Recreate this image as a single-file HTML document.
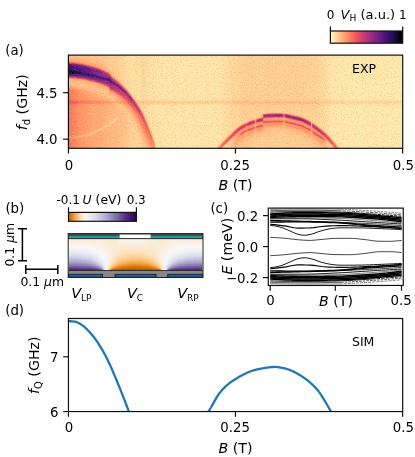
<!DOCTYPE html>
<html><head><meta charset="utf-8"><title>figure</title>
<style>
html,body{margin:0;padding:0;background:#fff;}
svg{display:block;}
text{font-family:"DejaVu Sans","Liberation Sans",sans-serif;fill:#000;}
</style></head><body>
<svg width="415" height="457" viewBox="0 0 415 457">
<defs>
<linearGradient id="abg" x1="0" x2="1" y1="0" y2="0">
<stop offset="0" stop-color="#febf84"/>
<stop offset="0.12" stop-color="#fec287"/>
<stop offset="0.22" stop-color="#fecf92"/>
<stop offset="0.45" stop-color="#fed799"/>
<stop offset="0.70" stop-color="#fdda9c"/>
<stop offset="0.80" stop-color="#fde2a3"/>
<stop offset="1" stop-color="#fde3a5"/>
</linearGradient>
<clipPath id="aclip"><rect x="68.4" y="55.1" width="334.3" height="93.2"/></clipPath>
<filter id="bl1" x="-20%" y="-20%" width="140%" height="140%"><feGaussianBlur stdDeviation="0.7"/></filter>
<filter id="bl2" x="-20%" y="-20%" width="140%" height="140%"><feGaussianBlur stdDeviation="1.6"/></filter>
<filter id="bl4" x="-30%" y="-30%" width="160%" height="160%"><feGaussianBlur stdDeviation="4"/></filter>
<linearGradient id="h0" gradientUnits="userSpaceOnUse" x1="0" x2="0" y1="55.5" y2="147.5"><stop offset="0" stop-color="#febf84"/><stop offset=".033" stop-color="#feb47b"/><stop offset=".054" stop-color="#fea571"/><stop offset=".065" stop-color="#fd9266"/><stop offset=".076" stop-color="#e95462"/><stop offset=".087" stop-color="#932b80"/><stop offset=".098" stop-color="#52137c"/><stop offset=".109" stop-color="#3f0f72"/><stop offset=".141" stop-color="#3b0f70"/><stop offset=".152" stop-color="#341069"/><stop offset=".163" stop-color="#160f3b"/><stop offset=".174" stop-color="#03030f"/><stop offset=".185" stop-color="#03030f"/><stop offset=".196" stop-color="#160f3b"/><stop offset=".207" stop-color="#3b0f70"/><stop offset=".217" stop-color="#601880"/><stop offset=".228" stop-color="#a02f7f"/><stop offset=".239" stop-color="#e95462"/><stop offset=".25" stop-color="#fd9b6b"/><stop offset=".261" stop-color="#feb27a"/><stop offset=".293" stop-color="#fec185"/><stop offset=".315" stop-color="#febf84"/><stop offset=".326" stop-color="#feb67c"/><stop offset=".359" stop-color="#fb8761"/><stop offset=".38" stop-color="#f66e5c"/><stop offset=".402" stop-color="#f4695c"/><stop offset=".467" stop-color="#f4695c"/><stop offset=".489" stop-color="#ee5b5e"/><stop offset=".5" stop-color="#e34e65"/><stop offset=".511" stop-color="#de4968"/><stop offset=".533" stop-color="#f1605d"/><stop offset=".554" stop-color="#f4695c"/><stop offset=".848" stop-color="#f4695c"/><stop offset=".87" stop-color="#f56b5c"/><stop offset=".88" stop-color="#f7725c"/><stop offset=".891" stop-color="#fb8560"/><stop offset=".913" stop-color="#f66e5c"/><stop offset=".924" stop-color="#f56b5c"/><stop offset="1" stop-color="#f4695c"/></linearGradient>
<linearGradient id="h1" gradientUnits="userSpaceOnUse" x1="0" x2="0" y1="55.5" y2="147.5"><stop offset="0" stop-color="#febf84"/><stop offset=".043" stop-color="#feae77"/><stop offset=".054" stop-color="#fea571"/><stop offset=".065" stop-color="#fd9467"/><stop offset=".076" stop-color="#ed5a5f"/><stop offset=".087" stop-color="#992d80"/><stop offset=".098" stop-color="#57157e"/><stop offset=".109" stop-color="#400f74"/><stop offset=".141" stop-color="#3d0f71"/><stop offset=".152" stop-color="#36106b"/><stop offset=".163" stop-color="#19103f"/><stop offset=".174" stop-color="#040414"/><stop offset=".185" stop-color="#030312"/><stop offset=".196" stop-color="#160f3b"/><stop offset=".207" stop-color="#3b0f70"/><stop offset=".217" stop-color="#601880"/><stop offset=".228" stop-color="#9e2f7f"/><stop offset=".239" stop-color="#e85362"/><stop offset=".25" stop-color="#fd9b6b"/><stop offset=".261" stop-color="#feb27a"/><stop offset=".293" stop-color="#fec185"/><stop offset=".315" stop-color="#fec185"/><stop offset=".337" stop-color="#feaa74"/><stop offset=".359" stop-color="#fc8a62"/><stop offset=".38" stop-color="#f8745c"/><stop offset=".402" stop-color="#f66e5c"/><stop offset=".478" stop-color="#f56b5c"/><stop offset=".5" stop-color="#e75263"/><stop offset=".511" stop-color="#e24d66"/><stop offset=".533" stop-color="#f3655c"/><stop offset=".543" stop-color="#f66e5c"/><stop offset=".87" stop-color="#f7705c"/><stop offset=".88" stop-color="#f9785d"/><stop offset=".891" stop-color="#fc8c63"/><stop offset=".913" stop-color="#f8745c"/><stop offset=".924" stop-color="#f7705c"/><stop offset="1" stop-color="#f7705c"/></linearGradient>
<linearGradient id="h2" gradientUnits="userSpaceOnUse" x1="0" x2="0" y1="55.5" y2="147.5"><stop offset="0" stop-color="#fec185"/><stop offset=".033" stop-color="#feb67c"/><stop offset=".054" stop-color="#fea772"/><stop offset=".065" stop-color="#fd9668"/><stop offset=".076" stop-color="#f2625d"/><stop offset=".087" stop-color="#a1307e"/><stop offset=".098" stop-color="#5c167f"/><stop offset=".109" stop-color="#420f75"/><stop offset=".141" stop-color="#3f0f72"/><stop offset=".152" stop-color="#390f6e"/><stop offset=".163" stop-color="#1c1044"/><stop offset=".174" stop-color="#050416"/><stop offset=".185" stop-color="#030312"/><stop offset=".196" stop-color="#160f3b"/><stop offset=".207" stop-color="#3d0f71"/><stop offset=".217" stop-color="#5f187f"/><stop offset=".228" stop-color="#9b2e7f"/><stop offset=".239" stop-color="#e55064"/><stop offset=".25" stop-color="#fd9a6a"/><stop offset=".261" stop-color="#feb078"/><stop offset=".272" stop-color="#feb77e"/><stop offset=".293" stop-color="#fec185"/><stop offset=".315" stop-color="#fec185"/><stop offset=".337" stop-color="#feae77"/><stop offset=".359" stop-color="#fc9065"/><stop offset=".38" stop-color="#f9795d"/><stop offset=".467" stop-color="#f8765c"/><stop offset=".478" stop-color="#f7725c"/><stop offset=".5" stop-color="#ea5661"/><stop offset=".511" stop-color="#e55064"/><stop offset=".533" stop-color="#f66c5c"/><stop offset=".554" stop-color="#f8765c"/><stop offset=".87" stop-color="#f8765c"/><stop offset=".88" stop-color="#fa7f5e"/><stop offset=".891" stop-color="#fd9266"/><stop offset=".913" stop-color="#f9795d"/><stop offset=".924" stop-color="#f8765c"/><stop offset="1" stop-color="#f8765c"/></linearGradient>
<linearGradient id="h3" gradientUnits="userSpaceOnUse" x1="0" x2="0" y1="55.5" y2="147.5"><stop offset="0" stop-color="#fec185"/><stop offset=".022" stop-color="#febb81"/><stop offset=".054" stop-color="#fea973"/><stop offset=".065" stop-color="#fd9a6a"/><stop offset=".076" stop-color="#f56b5c"/><stop offset=".087" stop-color="#ab337c"/><stop offset=".098" stop-color="#621980"/><stop offset=".109" stop-color="#451077"/><stop offset=".152" stop-color="#3b0f70"/><stop offset=".163" stop-color="#20114b"/><stop offset=".174" stop-color="#07061c"/><stop offset=".185" stop-color="#040414"/><stop offset=".196" stop-color="#160f3b"/><stop offset=".207" stop-color="#3d0f71"/><stop offset=".217" stop-color="#5f187f"/><stop offset=".228" stop-color="#982d80"/><stop offset=".239" stop-color="#e24d66"/><stop offset=".25" stop-color="#fd9668"/><stop offset=".261" stop-color="#feb078"/><stop offset=".293" stop-color="#fec185"/><stop offset=".315" stop-color="#fec287"/><stop offset=".337" stop-color="#feb078"/><stop offset=".38" stop-color="#fa7f5e"/><stop offset=".478" stop-color="#f9785d"/><stop offset=".5" stop-color="#ed5a5f"/><stop offset=".511" stop-color="#ea5661"/><stop offset=".522" stop-color="#f1605d"/><stop offset=".533" stop-color="#f7725c"/><stop offset=".554" stop-color="#f97b5d"/><stop offset=".87" stop-color="#f97b5d"/><stop offset=".88" stop-color="#fb8560"/><stop offset=".891" stop-color="#fd9869"/><stop offset=".913" stop-color="#fa7f5e"/><stop offset=".924" stop-color="#f97b5d"/><stop offset="1" stop-color="#f97b5d"/></linearGradient>
<linearGradient id="h4" gradientUnits="userSpaceOnUse" x1="0" x2="0" y1="55.5" y2="147.5"><stop offset="0" stop-color="#fec185"/><stop offset=".022" stop-color="#febb81"/><stop offset=".054" stop-color="#fea973"/><stop offset=".065" stop-color="#fe9d6c"/><stop offset=".076" stop-color="#f8745c"/><stop offset=".087" stop-color="#b73779"/><stop offset=".098" stop-color="#681c81"/><stop offset=".109" stop-color="#491078"/><stop offset=".152" stop-color="#3f0f72"/><stop offset=".163" stop-color="#251255"/><stop offset=".174" stop-color="#0a0822"/><stop offset=".185" stop-color="#050416"/><stop offset=".196" stop-color="#160f3b"/><stop offset=".207" stop-color="#3f0f72"/><stop offset=".217" stop-color="#5d177f"/><stop offset=".228" stop-color="#932b80"/><stop offset=".239" stop-color="#de4968"/><stop offset=".25" stop-color="#fc9065"/><stop offset=".261" stop-color="#feae77"/><stop offset=".272" stop-color="#feb77e"/><stop offset=".293" stop-color="#fec185"/><stop offset=".315" stop-color="#fec287"/><stop offset=".326" stop-color="#febd82"/><stop offset=".37" stop-color="#fc8c63"/><stop offset=".38" stop-color="#fb8560"/><stop offset=".391" stop-color="#fa7f5e"/><stop offset=".467" stop-color="#fa7f5e"/><stop offset=".478" stop-color="#f97b5d"/><stop offset=".5" stop-color="#f05f5e"/><stop offset=".511" stop-color="#ec5860"/><stop offset=".533" stop-color="#f8765c"/><stop offset=".554" stop-color="#fa7f5e"/><stop offset=".859" stop-color="#fa7f5e"/><stop offset=".88" stop-color="#fc8a62"/><stop offset=".891" stop-color="#fe9d6c"/><stop offset=".913" stop-color="#fb835f"/><stop offset=".924" stop-color="#fa7f5e"/><stop offset="1" stop-color="#fa7f5e"/></linearGradient>
<linearGradient id="h5" gradientUnits="userSpaceOnUse" x1="0" x2="0" y1="55.5" y2="147.5"><stop offset="0" stop-color="#fec185"/><stop offset=".033" stop-color="#feb77e"/><stop offset=".054" stop-color="#feaa74"/><stop offset=".065" stop-color="#fe9f6d"/><stop offset=".076" stop-color="#fa7f5e"/><stop offset=".087" stop-color="#c23b75"/><stop offset=".098" stop-color="#701f81"/><stop offset=".109" stop-color="#4c117a"/><stop offset=".12" stop-color="#451077"/><stop offset=".152" stop-color="#420f75"/><stop offset=".163" stop-color="#2d1161"/><stop offset=".174" stop-color="#0e0b2b"/><stop offset=".185" stop-color="#07061c"/><stop offset=".196" stop-color="#180f3d"/><stop offset=".207" stop-color="#3f0f72"/><stop offset=".217" stop-color="#5c167f"/><stop offset=".228" stop-color="#8e2a81"/><stop offset=".239" stop-color="#d8456c"/><stop offset=".25" stop-color="#fc8a62"/><stop offset=".261" stop-color="#feac76"/><stop offset=".272" stop-color="#feb77e"/><stop offset=".293" stop-color="#fec185"/><stop offset=".315" stop-color="#fec287"/><stop offset=".337" stop-color="#feb47b"/><stop offset=".37" stop-color="#fc9065"/><stop offset=".38" stop-color="#fc8961"/><stop offset=".391" stop-color="#fb835f"/><stop offset=".467" stop-color="#fb835f"/><stop offset=".478" stop-color="#fa7f5e"/><stop offset=".5" stop-color="#f2625d"/><stop offset=".511" stop-color="#ee5b5e"/><stop offset=".533" stop-color="#f9795d"/><stop offset=".543" stop-color="#fa815f"/><stop offset=".859" stop-color="#fb835f"/><stop offset=".88" stop-color="#fc8e64"/><stop offset=".891" stop-color="#fea16e"/><stop offset=".913" stop-color="#fb8560"/><stop offset="1" stop-color="#fb835f"/></linearGradient>
<linearGradient id="h6" gradientUnits="userSpaceOnUse" x1="0" x2="0" y1="55.5" y2="147.5"><stop offset="0" stop-color="#fec185"/><stop offset=".033" stop-color="#feb77e"/><stop offset=".054" stop-color="#feaa74"/><stop offset=".065" stop-color="#fea16e"/><stop offset=".076" stop-color="#fb8560"/><stop offset=".087" stop-color="#cd4071"/><stop offset=".098" stop-color="#792282"/><stop offset=".109" stop-color="#4f127b"/><stop offset=".12" stop-color="#471078"/><stop offset=".152" stop-color="#451077"/><stop offset=".163" stop-color="#36106b"/><stop offset=".174" stop-color="#130d34"/><stop offset=".185" stop-color="#090720"/><stop offset=".196" stop-color="#19103f"/><stop offset=".207" stop-color="#400f74"/><stop offset=".217" stop-color="#5a167e"/><stop offset=".228" stop-color="#892881"/><stop offset=".239" stop-color="#d2426f"/><stop offset=".25" stop-color="#fb835f"/><stop offset=".261" stop-color="#feaa74"/><stop offset=".272" stop-color="#feb67c"/><stop offset=".304" stop-color="#fec287"/><stop offset=".326" stop-color="#febf84"/><stop offset=".38" stop-color="#fc8c63"/><stop offset=".391" stop-color="#fb8761"/><stop offset=".467" stop-color="#fb8761"/><stop offset=".478" stop-color="#fb835f"/><stop offset=".489" stop-color="#f9785d"/><stop offset=".5" stop-color="#f3655c"/><stop offset=".511" stop-color="#f05f5e"/><stop offset=".533" stop-color="#fa7d5e"/><stop offset=".543" stop-color="#fb8560"/><stop offset=".859" stop-color="#fb8761"/><stop offset=".87" stop-color="#fc8961"/><stop offset=".891" stop-color="#fea571"/><stop offset=".913" stop-color="#fc8961"/><stop offset="1" stop-color="#fb8761"/></linearGradient>
<linearGradient id="h7" gradientUnits="userSpaceOnUse" x1="0" x2="0" y1="55.5" y2="147.5"><stop offset="0" stop-color="#fec287"/><stop offset=".022" stop-color="#febd82"/><stop offset=".054" stop-color="#feac76"/><stop offset=".065" stop-color="#fea36f"/><stop offset=".076" stop-color="#fc8a62"/><stop offset=".087" stop-color="#d8456c"/><stop offset=".098" stop-color="#842681"/><stop offset=".109" stop-color="#54137d"/><stop offset=".12" stop-color="#491078"/><stop offset=".152" stop-color="#491078"/><stop offset=".163" stop-color="#3f0f72"/><stop offset=".174" stop-color="#19103f"/><stop offset=".185" stop-color="#0c0926"/><stop offset=".196" stop-color="#1a1042"/><stop offset=".207" stop-color="#400f74"/><stop offset=".217" stop-color="#59157e"/><stop offset=".228" stop-color="#842681"/><stop offset=".239" stop-color="#cc3f71"/><stop offset=".25" stop-color="#f97b5d"/><stop offset=".261" stop-color="#fea973"/><stop offset=".272" stop-color="#feb67c"/><stop offset=".293" stop-color="#febf84"/><stop offset=".326" stop-color="#febf84"/><stop offset=".37" stop-color="#fd9869"/><stop offset=".391" stop-color="#fc8a62"/><stop offset=".467" stop-color="#fc8961"/><stop offset=".478" stop-color="#fb8560"/><stop offset=".5" stop-color="#f4675c"/><stop offset=".511" stop-color="#f2625d"/><stop offset=".533" stop-color="#fa7f5e"/><stop offset=".554" stop-color="#fc8961"/><stop offset=".859" stop-color="#fc8961"/><stop offset=".87" stop-color="#fc8c63"/><stop offset=".891" stop-color="#fea772"/><stop offset=".913" stop-color="#fc8a62"/><stop offset="1" stop-color="#fc8961"/></linearGradient>
<linearGradient id="h8" gradientUnits="userSpaceOnUse" x1="0" x2="0" y1="55.5" y2="147.5"><stop offset="0" stop-color="#fec287"/><stop offset=".043" stop-color="#feb47b"/><stop offset=".065" stop-color="#fea571"/><stop offset=".076" stop-color="#fc8e64"/><stop offset=".087" stop-color="#e24d66"/><stop offset=".098" stop-color="#902a81"/><stop offset=".109" stop-color="#59157e"/><stop offset=".12" stop-color="#4c117a"/><stop offset=".152" stop-color="#4a1079"/><stop offset=".163" stop-color="#420f75"/><stop offset=".174" stop-color="#20114b"/><stop offset=".185" stop-color="#100b2d"/><stop offset=".196" stop-color="#1a1042"/><stop offset=".207" stop-color="#420f75"/><stop offset=".217" stop-color="#57157e"/><stop offset=".228" stop-color="#802582"/><stop offset=".239" stop-color="#c43c75"/><stop offset=".25" stop-color="#f8745c"/><stop offset=".261" stop-color="#fea571"/><stop offset=".272" stop-color="#feb47b"/><stop offset=".283" stop-color="#febb81"/><stop offset=".304" stop-color="#fec287"/><stop offset=".326" stop-color="#fec185"/><stop offset=".391" stop-color="#fc8c63"/><stop offset=".478" stop-color="#fc8961"/><stop offset=".5" stop-color="#f56b5c"/><stop offset=".511" stop-color="#f2645c"/><stop offset=".533" stop-color="#fb835f"/><stop offset=".554" stop-color="#fc8c63"/><stop offset=".859" stop-color="#fc8c63"/><stop offset=".87" stop-color="#fc9065"/><stop offset=".891" stop-color="#fea973"/><stop offset=".902" stop-color="#fd9668"/><stop offset=".913" stop-color="#fc8c63"/><stop offset="1" stop-color="#fc8c63"/></linearGradient>
<linearGradient id="h9" gradientUnits="userSpaceOnUse" x1="0" x2="0" y1="55.5" y2="147.5"><stop offset="0" stop-color="#fec287"/><stop offset=".054" stop-color="#feae77"/><stop offset=".065" stop-color="#fea571"/><stop offset=".076" stop-color="#fd9266"/><stop offset=".087" stop-color="#eb5760"/><stop offset=".098" stop-color="#9b2e7f"/><stop offset=".109" stop-color="#5f187f"/><stop offset=".12" stop-color="#4e117b"/><stop offset=".152" stop-color="#4c117a"/><stop offset=".163" stop-color="#451077"/><stop offset=".174" stop-color="#251255"/><stop offset=".185" stop-color="#130d34"/><stop offset=".196" stop-color="#1c1044"/><stop offset=".207" stop-color="#400f74"/><stop offset=".217" stop-color="#56147d"/><stop offset=".228" stop-color="#7b2382"/><stop offset=".239" stop-color="#bd3977"/><stop offset=".25" stop-color="#f66c5c"/><stop offset=".261" stop-color="#fea36f"/><stop offset=".272" stop-color="#feb47b"/><stop offset=".293" stop-color="#febf84"/><stop offset=".326" stop-color="#fec185"/><stop offset=".37" stop-color="#fe9d6c"/><stop offset=".391" stop-color="#fc9065"/><stop offset=".478" stop-color="#fc8a62"/><stop offset=".489" stop-color="#fa7f5e"/><stop offset=".5" stop-color="#f66c5c"/><stop offset=".511" stop-color="#f4675c"/><stop offset=".533" stop-color="#fb8560"/><stop offset=".554" stop-color="#fc8e64"/><stop offset=".859" stop-color="#fc8e64"/><stop offset=".87" stop-color="#fd9467"/><stop offset=".88" stop-color="#fea571"/><stop offset=".891" stop-color="#feaa74"/><stop offset=".902" stop-color="#fd9668"/><stop offset=".913" stop-color="#fc9065"/><stop offset="1" stop-color="#fc8e64"/></linearGradient>
<linearGradient id="h10" gradientUnits="userSpaceOnUse" x1="0" x2="0" y1="55.5" y2="147.5"><stop offset="0" stop-color="#fec287"/><stop offset=".033" stop-color="#febb81"/><stop offset=".065" stop-color="#fea772"/><stop offset=".076" stop-color="#fd9869"/><stop offset=".087" stop-color="#f2645c"/><stop offset=".098" stop-color="#aa337d"/><stop offset=".109" stop-color="#671b80"/><stop offset=".12" stop-color="#51127c"/><stop offset=".152" stop-color="#4f127b"/><stop offset=".163" stop-color="#491078"/><stop offset=".174" stop-color="#2d1161"/><stop offset=".185" stop-color="#160f3b"/><stop offset=".196" stop-color="#1c1044"/><stop offset=".207" stop-color="#3d0f71"/><stop offset=".217" stop-color="#54137d"/><stop offset=".228" stop-color="#762181"/><stop offset=".239" stop-color="#b5367a"/><stop offset=".25" stop-color="#f2645c"/><stop offset=".261" stop-color="#fea16e"/><stop offset=".272" stop-color="#feb27a"/><stop offset=".293" stop-color="#febf84"/><stop offset=".326" stop-color="#fec287"/><stop offset=".348" stop-color="#feb67c"/><stop offset=".37" stop-color="#fea16e"/><stop offset=".402" stop-color="#fc9065"/><stop offset=".478" stop-color="#fc8e64"/><stop offset=".489" stop-color="#fb835f"/><stop offset=".5" stop-color="#f7705c"/><stop offset=".511" stop-color="#f4695c"/><stop offset=".533" stop-color="#fc8961"/><stop offset=".543" stop-color="#fc9065"/><stop offset=".565" stop-color="#fd9266"/><stop offset=".859" stop-color="#fd9266"/><stop offset=".87" stop-color="#fd9869"/><stop offset=".88" stop-color="#feaa74"/><stop offset=".891" stop-color="#fea973"/><stop offset=".902" stop-color="#fd9869"/><stop offset=".913" stop-color="#fd9266"/><stop offset="1" stop-color="#fd9266"/></linearGradient>
<linearGradient id="h11" gradientUnits="userSpaceOnUse" x1="0" x2="0" y1="55.5" y2="147.5"><stop offset="0" stop-color="#fec488"/><stop offset=".043" stop-color="#feb77e"/><stop offset=".065" stop-color="#fea973"/><stop offset=".076" stop-color="#fd9b6b"/><stop offset=".087" stop-color="#f7725c"/><stop offset=".098" stop-color="#b83779"/><stop offset=".109" stop-color="#701f81"/><stop offset=".12" stop-color="#54137d"/><stop offset=".163" stop-color="#4c117a"/><stop offset=".174" stop-color="#341069"/><stop offset=".185" stop-color="#19103f"/><stop offset=".196" stop-color="#1c1044"/><stop offset=".207" stop-color="#3b0f70"/><stop offset=".217" stop-color="#52137c"/><stop offset=".228" stop-color="#732081"/><stop offset=".239" stop-color="#ae347b"/><stop offset=".25" stop-color="#ef5d5e"/><stop offset=".261" stop-color="#fe9d6c"/><stop offset=".272" stop-color="#feb27a"/><stop offset=".283" stop-color="#feb97f"/><stop offset=".304" stop-color="#fec287"/><stop offset=".326" stop-color="#fec287"/><stop offset=".337" stop-color="#febf84"/><stop offset=".391" stop-color="#fd9668"/><stop offset=".478" stop-color="#fc9065"/><stop offset=".489" stop-color="#fb8560"/><stop offset=".5" stop-color="#f7725c"/><stop offset=".511" stop-color="#f66c5c"/><stop offset=".533" stop-color="#fc8a62"/><stop offset=".543" stop-color="#fd9266"/><stop offset=".859" stop-color="#fd9467"/><stop offset=".87" stop-color="#fe9d6c"/><stop offset=".88" stop-color="#feb078"/><stop offset=".891" stop-color="#fea973"/><stop offset=".902" stop-color="#fd9869"/><stop offset=".913" stop-color="#fd9467"/><stop offset="1" stop-color="#fd9467"/></linearGradient>
<linearGradient id="h12" gradientUnits="userSpaceOnUse" x1="0" x2="0" y1="55.5" y2="147.5"><stop offset="0" stop-color="#fec488"/><stop offset=".033" stop-color="#febd82"/><stop offset=".065" stop-color="#feaa74"/><stop offset=".076" stop-color="#fea16e"/><stop offset=".087" stop-color="#fa7f5e"/><stop offset=".098" stop-color="#c53c74"/><stop offset=".109" stop-color="#792282"/><stop offset=".12" stop-color="#57157e"/><stop offset=".163" stop-color="#4f127b"/><stop offset=".174" stop-color="#3d0f71"/><stop offset=".185" stop-color="#1e1149"/><stop offset=".196" stop-color="#1c1044"/><stop offset=".207" stop-color="#38106c"/><stop offset=".217" stop-color="#52137c"/><stop offset=".228" stop-color="#6e1e81"/><stop offset=".239" stop-color="#a6317d"/><stop offset=".25" stop-color="#e95462"/><stop offset=".261" stop-color="#fd9a6a"/><stop offset=".272" stop-color="#feb27a"/><stop offset=".304" stop-color="#fec287"/><stop offset=".326" stop-color="#fec488"/><stop offset=".337" stop-color="#fec185"/><stop offset=".38" stop-color="#fe9f6d"/><stop offset=".402" stop-color="#fd9668"/><stop offset=".478" stop-color="#fd9266"/><stop offset=".5" stop-color="#f8765c"/><stop offset=".511" stop-color="#f66e5c"/><stop offset=".533" stop-color="#fc8c63"/><stop offset=".543" stop-color="#fd9467"/><stop offset=".848" stop-color="#fd9668"/><stop offset=".859" stop-color="#fd9869"/><stop offset=".88" stop-color="#feb47b"/><stop offset=".902" stop-color="#fd9a6a"/><stop offset=".913" stop-color="#fd9668"/><stop offset="1" stop-color="#fd9668"/></linearGradient>
<linearGradient id="h13" gradientUnits="userSpaceOnUse" x1="0" x2="0" y1="55.5" y2="147.5"><stop offset="0" stop-color="#fec68a"/><stop offset=".054" stop-color="#feb47b"/><stop offset=".076" stop-color="#fea36f"/><stop offset=".087" stop-color="#fc8961"/><stop offset=".098" stop-color="#d3436e"/><stop offset=".109" stop-color="#842681"/><stop offset=".12" stop-color="#5c167f"/><stop offset=".13" stop-color="#54137d"/><stop offset=".163" stop-color="#52137c"/><stop offset=".174" stop-color="#471078"/><stop offset=".185" stop-color="#221150"/><stop offset=".196" stop-color="#1c1044"/><stop offset=".207" stop-color="#341069"/><stop offset=".217" stop-color="#52137c"/><stop offset=".228" stop-color="#6b1d81"/><stop offset=".239" stop-color="#9c2e7f"/><stop offset=".25" stop-color="#e24d66"/><stop offset=".261" stop-color="#fc9065"/><stop offset=".272" stop-color="#feae77"/><stop offset=".293" stop-color="#febd82"/><stop offset=".315" stop-color="#fec488"/><stop offset=".337" stop-color="#fec287"/><stop offset=".391" stop-color="#fd9b6b"/><stop offset=".478" stop-color="#fd9467"/><stop offset=".489" stop-color="#fc8a62"/><stop offset=".5" stop-color="#f9785d"/><stop offset=".511" stop-color="#f7725c"/><stop offset=".533" stop-color="#fc9065"/><stop offset=".554" stop-color="#fd9869"/><stop offset=".848" stop-color="#fd9869"/><stop offset=".859" stop-color="#fd9b6b"/><stop offset=".88" stop-color="#feb67c"/><stop offset=".902" stop-color="#fd9a6a"/><stop offset="1" stop-color="#fd9869"/></linearGradient>
<linearGradient id="h14" gradientUnits="userSpaceOnUse" x1="0" x2="0" y1="55.5" y2="147.5"><stop offset="0" stop-color="#fec68a"/><stop offset=".033" stop-color="#febf84"/><stop offset=".065" stop-color="#feae77"/><stop offset=".076" stop-color="#fea571"/><stop offset=".087" stop-color="#fc8e64"/><stop offset=".098" stop-color="#e04c67"/><stop offset=".109" stop-color="#932b80"/><stop offset=".12" stop-color="#621980"/><stop offset=".13" stop-color="#57157e"/><stop offset=".163" stop-color="#56147d"/><stop offset=".174" stop-color="#4e117b"/><stop offset=".185" stop-color="#2a115c"/><stop offset=".196" stop-color="#1d1147"/><stop offset=".207" stop-color="#311165"/><stop offset=".217" stop-color="#52137c"/><stop offset=".228" stop-color="#671b80"/><stop offset=".239" stop-color="#942c80"/><stop offset=".25" stop-color="#d8456c"/><stop offset=".261" stop-color="#fb8560"/><stop offset=".272" stop-color="#feaa74"/><stop offset=".293" stop-color="#febd82"/><stop offset=".315" stop-color="#fec488"/><stop offset=".348" stop-color="#febd82"/><stop offset=".391" stop-color="#fe9d6c"/><stop offset=".478" stop-color="#fd9668"/><stop offset=".5" stop-color="#f9795d"/><stop offset=".511" stop-color="#f7725c"/><stop offset=".533" stop-color="#fc9065"/><stop offset=".554" stop-color="#fd9a6a"/><stop offset=".848" stop-color="#fd9a6a"/><stop offset=".859" stop-color="#fe9d6c"/><stop offset=".87" stop-color="#feae77"/><stop offset=".88" stop-color="#feb67c"/><stop offset=".891" stop-color="#fea36f"/><stop offset=".902" stop-color="#fd9a6a"/><stop offset="1" stop-color="#fd9a6a"/></linearGradient>
<linearGradient id="h15" gradientUnits="userSpaceOnUse" x1="0" x2="0" y1="55.5" y2="147.5"><stop offset="0" stop-color="#fec68a"/><stop offset=".054" stop-color="#feb67c"/><stop offset=".076" stop-color="#fea772"/><stop offset=".087" stop-color="#fd9467"/><stop offset=".098" stop-color="#ec5860"/><stop offset=".109" stop-color="#a1307e"/><stop offset=".12" stop-color="#6a1c81"/><stop offset=".13" stop-color="#5a167e"/><stop offset=".163" stop-color="#57157e"/><stop offset=".174" stop-color="#51127c"/><stop offset=".185" stop-color="#311165"/><stop offset=".196" stop-color="#1e1149"/><stop offset=".207" stop-color="#2d1161"/><stop offset=".217" stop-color="#52137c"/><stop offset=".228" stop-color="#641a80"/><stop offset=".239" stop-color="#8b2981"/><stop offset=".25" stop-color="#cc3f71"/><stop offset=".261" stop-color="#f9785d"/><stop offset=".272" stop-color="#fea772"/><stop offset=".293" stop-color="#febb81"/><stop offset=".326" stop-color="#fec488"/><stop offset=".337" stop-color="#fec287"/><stop offset=".402" stop-color="#fd9b6b"/><stop offset=".478" stop-color="#fd9869"/><stop offset=".5" stop-color="#f97b5d"/><stop offset=".511" stop-color="#f8745c"/><stop offset=".533" stop-color="#fd9266"/><stop offset=".554" stop-color="#fd9b6b"/><stop offset=".848" stop-color="#fd9b6b"/><stop offset=".859" stop-color="#fea16e"/><stop offset=".87" stop-color="#feb47b"/><stop offset=".88" stop-color="#feb27a"/><stop offset=".891" stop-color="#fea16e"/><stop offset=".902" stop-color="#fd9b6b"/><stop offset="1" stop-color="#fd9b6b"/></linearGradient>
<linearGradient id="h16" gradientUnits="userSpaceOnUse" x1="0" x2="0" y1="55.5" y2="147.5"><stop offset="0" stop-color="#fec68a"/><stop offset=".054" stop-color="#feb77e"/><stop offset=".076" stop-color="#fea973"/><stop offset=".087" stop-color="#fd9a6a"/><stop offset=".098" stop-color="#f4695c"/><stop offset=".109" stop-color="#b3367a"/><stop offset=".12" stop-color="#732081"/><stop offset=".13" stop-color="#5d177f"/><stop offset=".163" stop-color="#5a167e"/><stop offset=".174" stop-color="#54137d"/><stop offset=".185" stop-color="#3b0f70"/><stop offset=".196" stop-color="#21114e"/><stop offset=".207" stop-color="#2c115f"/><stop offset=".217" stop-color="#51127c"/><stop offset=".228" stop-color="#601880"/><stop offset=".239" stop-color="#832681"/><stop offset=".25" stop-color="#bf3a77"/><stop offset=".261" stop-color="#f4695c"/><stop offset=".272" stop-color="#fea16e"/><stop offset=".283" stop-color="#feb47b"/><stop offset=".304" stop-color="#febf84"/><stop offset=".337" stop-color="#fec488"/><stop offset=".348" stop-color="#fec185"/><stop offset=".391" stop-color="#fea36f"/><stop offset=".413" stop-color="#fd9b6b"/><stop offset=".478" stop-color="#fd9a6a"/><stop offset=".5" stop-color="#fa7d5e"/><stop offset=".511" stop-color="#f8765c"/><stop offset=".533" stop-color="#fd9467"/><stop offset=".543" stop-color="#fd9b6b"/><stop offset=".848" stop-color="#fe9d6c"/><stop offset=".859" stop-color="#fea772"/><stop offset=".87" stop-color="#feb97f"/><stop offset=".891" stop-color="#fe9f6d"/><stop offset="1" stop-color="#fe9d6c"/></linearGradient>
<linearGradient id="h17" gradientUnits="userSpaceOnUse" x1="0" x2="0" y1="55.5" y2="147.5"><stop offset="0" stop-color="#fec88c"/><stop offset=".054" stop-color="#feb97f"/><stop offset=".076" stop-color="#feaa74"/><stop offset=".087" stop-color="#fe9f6d"/><stop offset=".098" stop-color="#fa7d5e"/><stop offset=".109" stop-color="#c73d73"/><stop offset=".12" stop-color="#802582"/><stop offset=".13" stop-color="#601880"/><stop offset=".174" stop-color="#59157e"/><stop offset=".185" stop-color="#451077"/><stop offset=".196" stop-color="#271258"/><stop offset=".207" stop-color="#29115a"/><stop offset=".217" stop-color="#4a1079"/><stop offset=".228" stop-color="#5f187f"/><stop offset=".239" stop-color="#7b2382"/><stop offset=".25" stop-color="#b2357b"/><stop offset=".261" stop-color="#ee5b5e"/><stop offset=".272" stop-color="#fe9d6c"/><stop offset=".283" stop-color="#feb27a"/><stop offset=".304" stop-color="#febf84"/><stop offset=".326" stop-color="#fec488"/><stop offset=".348" stop-color="#fec287"/><stop offset=".402" stop-color="#fea16e"/><stop offset=".478" stop-color="#fd9b6b"/><stop offset=".5" stop-color="#fa7f5e"/><stop offset=".511" stop-color="#f9795d"/><stop offset=".533" stop-color="#fd9668"/><stop offset=".543" stop-color="#fe9d6c"/><stop offset=".837" stop-color="#fe9f6d"/><stop offset=".848" stop-color="#fea16e"/><stop offset=".87" stop-color="#febd82"/><stop offset=".891" stop-color="#fea16e"/><stop offset="1" stop-color="#fe9f6d"/></linearGradient>
<linearGradient id="h18" gradientUnits="userSpaceOnUse" x1="0" x2="0" y1="55.5" y2="147.5"><stop offset="0" stop-color="#fec88c"/><stop offset=".043" stop-color="#febf84"/><stop offset=".076" stop-color="#feae77"/><stop offset=".087" stop-color="#fea571"/><stop offset=".098" stop-color="#fc8a62"/><stop offset=".109" stop-color="#d9466b"/><stop offset=".12" stop-color="#8e2a81"/><stop offset=".13" stop-color="#651a80"/><stop offset=".141" stop-color="#5d177f"/><stop offset=".174" stop-color="#5c167f"/><stop offset=".185" stop-color="#51127c"/><stop offset=".196" stop-color="#2d1161"/><stop offset=".207" stop-color="#271258"/><stop offset=".217" stop-color="#451077"/><stop offset=".239" stop-color="#732081"/><stop offset=".25" stop-color="#a5317e"/><stop offset=".261" stop-color="#e55064"/><stop offset=".272" stop-color="#fd9266"/><stop offset=".283" stop-color="#feae77"/><stop offset=".293" stop-color="#feb77e"/><stop offset=".337" stop-color="#fec68a"/><stop offset=".359" stop-color="#febf84"/><stop offset=".413" stop-color="#fea16e"/><stop offset=".478" stop-color="#fe9d6c"/><stop offset=".5" stop-color="#fa815f"/><stop offset=".511" stop-color="#f97b5d"/><stop offset=".533" stop-color="#fd9869"/><stop offset=".543" stop-color="#fe9f6d"/><stop offset=".837" stop-color="#fea16e"/><stop offset=".848" stop-color="#fea571"/><stop offset=".859" stop-color="#feb67c"/><stop offset=".87" stop-color="#febb81"/><stop offset=".88" stop-color="#fea973"/><stop offset=".891" stop-color="#fea16e"/><stop offset="1" stop-color="#fea16e"/></linearGradient>
<linearGradient id="h19" gradientUnits="userSpaceOnUse" x1="0" x2="0" y1="55.5" y2="147.5"><stop offset="0" stop-color="#fec88c"/><stop offset=".065" stop-color="#feb67c"/><stop offset=".087" stop-color="#fea772"/><stop offset=".098" stop-color="#fd9266"/><stop offset=".109" stop-color="#e95462"/><stop offset=".12" stop-color="#a02f7f"/><stop offset=".13" stop-color="#6d1d81"/><stop offset=".141" stop-color="#601880"/><stop offset=".174" stop-color="#5f187f"/><stop offset=".185" stop-color="#57157e"/><stop offset=".196" stop-color="#36106b"/><stop offset=".207" stop-color="#29115a"/><stop offset=".217" stop-color="#3f0f72"/><stop offset=".228" stop-color="#5c167f"/><stop offset=".239" stop-color="#6e1e81"/><stop offset=".25" stop-color="#992d80"/><stop offset=".261" stop-color="#d8456c"/><stop offset=".272" stop-color="#fb835f"/><stop offset=".283" stop-color="#feaa74"/><stop offset=".293" stop-color="#feb67c"/><stop offset=".315" stop-color="#fec185"/><stop offset=".348" stop-color="#fec488"/><stop offset=".413" stop-color="#fea36f"/><stop offset=".478" stop-color="#fe9d6c"/><stop offset=".511" stop-color="#f97b5d"/><stop offset=".533" stop-color="#fd9a6a"/><stop offset=".543" stop-color="#fe9f6d"/><stop offset=".826" stop-color="#fea16e"/><stop offset=".848" stop-color="#feaa74"/><stop offset=".859" stop-color="#febd82"/><stop offset=".891" stop-color="#fea16e"/><stop offset="1" stop-color="#fea16e"/></linearGradient>
<linearGradient id="h20" gradientUnits="userSpaceOnUse" x1="0" x2="0" y1="55.5" y2="147.5"><stop offset="0" stop-color="#fec88c"/><stop offset=".043" stop-color="#febf84"/><stop offset=".087" stop-color="#fea973"/><stop offset=".098" stop-color="#fd9869"/><stop offset=".109" stop-color="#f4675c"/><stop offset=".12" stop-color="#b3367a"/><stop offset=".13" stop-color="#782281"/><stop offset=".141" stop-color="#641a80"/><stop offset=".185" stop-color="#5c167f"/><stop offset=".196" stop-color="#400f74"/><stop offset=".207" stop-color="#2a115c"/><stop offset=".217" stop-color="#390f6e"/><stop offset=".228" stop-color="#5a167e"/><stop offset=".239" stop-color="#6b1d81"/><stop offset=".25" stop-color="#8e2a81"/><stop offset=".261" stop-color="#ca3e72"/><stop offset=".272" stop-color="#f8745c"/><stop offset=".283" stop-color="#fea571"/><stop offset=".293" stop-color="#feb47b"/><stop offset=".315" stop-color="#febf84"/><stop offset=".348" stop-color="#fec488"/><stop offset=".413" stop-color="#fea36f"/><stop offset=".478" stop-color="#fe9f6d"/><stop offset=".5" stop-color="#fb835f"/><stop offset=".511" stop-color="#fa7d5e"/><stop offset=".533" stop-color="#fd9a6a"/><stop offset=".543" stop-color="#fea16e"/><stop offset=".815" stop-color="#fea16e"/><stop offset=".837" stop-color="#fea571"/><stop offset=".859" stop-color="#febf84"/><stop offset=".88" stop-color="#fea571"/><stop offset="1" stop-color="#fea16e"/></linearGradient>
<linearGradient id="h21" gradientUnits="userSpaceOnUse" x1="0" x2="0" y1="55.5" y2="147.5"><stop offset="0" stop-color="#fec88c"/><stop offset=".043" stop-color="#fec185"/><stop offset=".076" stop-color="#feb27a"/><stop offset=".098" stop-color="#fe9f6d"/><stop offset=".109" stop-color="#f97b5d"/><stop offset=".12" stop-color="#c83e73"/><stop offset=".13" stop-color="#842681"/><stop offset=".141" stop-color="#681c81"/><stop offset=".185" stop-color="#5f187f"/><stop offset=".196" stop-color="#4a1079"/><stop offset=".207" stop-color="#2f1163"/><stop offset=".217" stop-color="#36106b"/><stop offset=".228" stop-color="#5a167e"/><stop offset=".239" stop-color="#681c81"/><stop offset=".25" stop-color="#842681"/><stop offset=".261" stop-color="#bc3978"/><stop offset=".272" stop-color="#f2645c"/><stop offset=".283" stop-color="#fe9f6d"/><stop offset=".293" stop-color="#feb27a"/><stop offset=".337" stop-color="#fec488"/><stop offset=".359" stop-color="#fec287"/><stop offset=".413" stop-color="#fea571"/><stop offset=".478" stop-color="#fe9f6d"/><stop offset=".5" stop-color="#fb835f"/><stop offset=".511" stop-color="#fa7d5e"/><stop offset=".533" stop-color="#fd9a6a"/><stop offset=".543" stop-color="#fea16e"/><stop offset=".826" stop-color="#fea36f"/><stop offset=".837" stop-color="#fea772"/><stop offset=".848" stop-color="#feb77e"/><stop offset=".859" stop-color="#febf84"/><stop offset=".87" stop-color="#feac76"/><stop offset=".88" stop-color="#fea36f"/><stop offset="1" stop-color="#fea36f"/></linearGradient>
<linearGradient id="h22" gradientUnits="userSpaceOnUse" x1="0" x2="0" y1="55.5" y2="147.5"><stop offset="0" stop-color="#fec88c"/><stop offset=".043" stop-color="#fec185"/><stop offset=".076" stop-color="#feb47b"/><stop offset=".098" stop-color="#fea36f"/><stop offset=".109" stop-color="#fc8a62"/><stop offset=".12" stop-color="#de4968"/><stop offset=".13" stop-color="#962c80"/><stop offset=".141" stop-color="#6d1d81"/><stop offset=".152" stop-color="#651a80"/><stop offset=".185" stop-color="#641a80"/><stop offset=".196" stop-color="#56147d"/><stop offset=".207" stop-color="#341069"/><stop offset=".217" stop-color="#341069"/><stop offset=".228" stop-color="#54137d"/><stop offset=".25" stop-color="#7e2482"/><stop offset=".261" stop-color="#ae347b"/><stop offset=".272" stop-color="#ea5661"/><stop offset=".283" stop-color="#fd9869"/><stop offset=".293" stop-color="#feae77"/><stop offset=".304" stop-color="#feb67c"/><stop offset=".326" stop-color="#fec185"/><stop offset=".348" stop-color="#fec488"/><stop offset=".37" stop-color="#febf84"/><stop offset=".424" stop-color="#fea36f"/><stop offset=".478" stop-color="#fe9f6d"/><stop offset=".489" stop-color="#fd9668"/><stop offset=".5" stop-color="#fb8560"/><stop offset=".511" stop-color="#fa7f5e"/><stop offset=".533" stop-color="#fd9b6b"/><stop offset=".543" stop-color="#fea16e"/><stop offset=".815" stop-color="#fea36f"/><stop offset=".837" stop-color="#feac76"/><stop offset=".848" stop-color="#febf84"/><stop offset=".859" stop-color="#feb97f"/><stop offset=".87" stop-color="#fea973"/><stop offset=".891" stop-color="#fea36f"/><stop offset="1" stop-color="#fea36f"/></linearGradient>
<linearGradient id="h23" gradientUnits="userSpaceOnUse" x1="0" x2="0" y1="55.5" y2="147.5"><stop offset="0" stop-color="#feca8d"/><stop offset=".054" stop-color="#fec185"/><stop offset=".076" stop-color="#feb77e"/><stop offset=".098" stop-color="#fea772"/><stop offset=".109" stop-color="#fd9467"/><stop offset=".12" stop-color="#ed5a5f"/><stop offset=".13" stop-color="#aa337d"/><stop offset=".141" stop-color="#762181"/><stop offset=".152" stop-color="#6a1c81"/><stop offset=".185" stop-color="#681c81"/><stop offset=".196" stop-color="#5f187f"/><stop offset=".207" stop-color="#3d0f71"/><stop offset=".217" stop-color="#331067"/><stop offset=".228" stop-color="#4e117b"/><stop offset=".25" stop-color="#782281"/><stop offset=".261" stop-color="#a1307e"/><stop offset=".272" stop-color="#df4a68"/><stop offset=".283" stop-color="#fc8961"/><stop offset=".293" stop-color="#feaa74"/><stop offset=".304" stop-color="#feb67c"/><stop offset=".348" stop-color="#fec68a"/><stop offset=".38" stop-color="#febd82"/><stop offset=".424" stop-color="#fea772"/><stop offset=".478" stop-color="#fea36f"/><stop offset=".511" stop-color="#fa815f"/><stop offset=".533" stop-color="#fe9d6c"/><stop offset=".543" stop-color="#fea571"/><stop offset=".815" stop-color="#fea772"/><stop offset=".826" stop-color="#fea973"/><stop offset=".848" stop-color="#fec488"/><stop offset=".87" stop-color="#fea973"/><stop offset="1" stop-color="#fea772"/></linearGradient>
<linearGradient id="h24" gradientUnits="userSpaceOnUse" x1="0" x2="0" y1="55.5" y2="147.5"><stop offset="0" stop-color="#fecc8f"/><stop offset=".065" stop-color="#febf84"/><stop offset=".098" stop-color="#feac76"/><stop offset=".109" stop-color="#fe9d6c"/><stop offset=".12" stop-color="#f7705c"/><stop offset=".13" stop-color="#bf3a77"/><stop offset=".141" stop-color="#832681"/><stop offset=".152" stop-color="#6d1d81"/><stop offset=".185" stop-color="#6a1c81"/><stop offset=".196" stop-color="#641a80"/><stop offset=".207" stop-color="#440f76"/><stop offset=".217" stop-color="#331067"/><stop offset=".228" stop-color="#491078"/><stop offset=".239" stop-color="#651a80"/><stop offset=".25" stop-color="#752181"/><stop offset=".261" stop-color="#982d80"/><stop offset=".272" stop-color="#d2426f"/><stop offset=".283" stop-color="#f9795d"/><stop offset=".293" stop-color="#fea772"/><stop offset=".304" stop-color="#feb67c"/><stop offset=".315" stop-color="#febd82"/><stop offset=".359" stop-color="#fec88c"/><stop offset=".424" stop-color="#feaa74"/><stop offset=".478" stop-color="#fea571"/><stop offset=".5" stop-color="#fc8a62"/><stop offset=".511" stop-color="#fb8560"/><stop offset=".533" stop-color="#fea16e"/><stop offset=".554" stop-color="#fea973"/><stop offset=".804" stop-color="#fea973"/><stop offset=".826" stop-color="#feb078"/><stop offset=".837" stop-color="#fec185"/><stop offset=".848" stop-color="#fec287"/><stop offset=".859" stop-color="#feb27a"/><stop offset=".87" stop-color="#feaa74"/><stop offset="1" stop-color="#fea973"/></linearGradient>
<linearGradient id="h25" gradientUnits="userSpaceOnUse" x1="0" x2="0" y1="55.5" y2="147.5"><stop offset="0" stop-color="#fecd90"/><stop offset=".043" stop-color="#fec88c"/><stop offset=".087" stop-color="#feb77e"/><stop offset=".109" stop-color="#fea571"/><stop offset=".12" stop-color="#fb8761"/><stop offset=".13" stop-color="#d5446d"/><stop offset=".141" stop-color="#932b80"/><stop offset=".152" stop-color="#732081"/><stop offset=".196" stop-color="#681c81"/><stop offset=".207" stop-color="#4c117a"/><stop offset=".217" stop-color="#341069"/><stop offset=".228" stop-color="#451077"/><stop offset=".239" stop-color="#651a80"/><stop offset=".25" stop-color="#732081"/><stop offset=".261" stop-color="#8e2a81"/><stop offset=".272" stop-color="#c43c75"/><stop offset=".283" stop-color="#f4695c"/><stop offset=".293" stop-color="#fea16e"/><stop offset=".304" stop-color="#feb47b"/><stop offset=".348" stop-color="#fec88c"/><stop offset=".37" stop-color="#fec68a"/><stop offset=".424" stop-color="#feac76"/><stop offset=".478" stop-color="#fea772"/><stop offset=".5" stop-color="#fc8c63"/><stop offset=".511" stop-color="#fb8761"/><stop offset=".533" stop-color="#fea36f"/><stop offset=".543" stop-color="#fea973"/><stop offset=".804" stop-color="#feaa74"/><stop offset=".815" stop-color="#feac76"/><stop offset=".837" stop-color="#fec88c"/><stop offset=".859" stop-color="#feae77"/><stop offset=".87" stop-color="#feaa74"/><stop offset="1" stop-color="#feaa74"/></linearGradient>
<linearGradient id="h26" gradientUnits="userSpaceOnUse" x1="0" x2="0" y1="55.5" y2="147.5"><stop offset="0" stop-color="#fecd90"/><stop offset=".033" stop-color="#feca8d"/><stop offset=".076" stop-color="#febd82"/><stop offset=".109" stop-color="#fea772"/><stop offset=".12" stop-color="#fd9266"/><stop offset=".13" stop-color="#e85362"/><stop offset=".141" stop-color="#a5317e"/><stop offset=".152" stop-color="#7b2382"/><stop offset=".163" stop-color="#701f81"/><stop offset=".196" stop-color="#6d1d81"/><stop offset=".207" stop-color="#57157e"/><stop offset=".217" stop-color="#390f6e"/><stop offset=".228" stop-color="#400f74"/><stop offset=".239" stop-color="#651a80"/><stop offset=".261" stop-color="#862781"/><stop offset=".272" stop-color="#b3367a"/><stop offset=".283" stop-color="#ec5860"/><stop offset=".293" stop-color="#fd9869"/><stop offset=".304" stop-color="#feb078"/><stop offset=".315" stop-color="#feb97f"/><stop offset=".359" stop-color="#fec88c"/><stop offset=".391" stop-color="#febf84"/><stop offset=".435" stop-color="#feaa74"/><stop offset=".478" stop-color="#fea772"/><stop offset=".5" stop-color="#fc8c63"/><stop offset=".511" stop-color="#fb8761"/><stop offset=".533" stop-color="#fea36f"/><stop offset=".543" stop-color="#fea973"/><stop offset=".804" stop-color="#feaa74"/><stop offset=".837" stop-color="#fec68a"/><stop offset=".848" stop-color="#feb67c"/><stop offset=".859" stop-color="#feac76"/><stop offset=".87" stop-color="#feaa74"/><stop offset="1" stop-color="#feaa74"/></linearGradient>
<linearGradient id="h27" gradientUnits="userSpaceOnUse" x1="0" x2="0" y1="55.5" y2="147.5"><stop offset="0" stop-color="#fecc8f"/><stop offset=".054" stop-color="#fec488"/><stop offset=".098" stop-color="#feb27a"/><stop offset=".12" stop-color="#fd9a6a"/><stop offset=".13" stop-color="#f4695c"/><stop offset=".141" stop-color="#bc3978"/><stop offset=".152" stop-color="#862781"/><stop offset=".163" stop-color="#752181"/><stop offset=".196" stop-color="#721f81"/><stop offset=".207" stop-color="#641a80"/><stop offset=".217" stop-color="#400f74"/><stop offset=".228" stop-color="#3d0f71"/><stop offset=".239" stop-color="#5d177f"/><stop offset=".261" stop-color="#802582"/><stop offset=".272" stop-color="#a6317d"/><stop offset=".283" stop-color="#df4a68"/><stop offset=".293" stop-color="#fb8761"/><stop offset=".304" stop-color="#feaa74"/><stop offset=".315" stop-color="#feb67c"/><stop offset=".337" stop-color="#fec185"/><stop offset=".37" stop-color="#fec68a"/><stop offset=".424" stop-color="#feae77"/><stop offset=".478" stop-color="#fea772"/><stop offset=".5" stop-color="#fc8c63"/><stop offset=".511" stop-color="#fb8761"/><stop offset=".533" stop-color="#fea36f"/><stop offset=".543" stop-color="#fea973"/><stop offset=".793" stop-color="#feaa74"/><stop offset=".815" stop-color="#feb47b"/><stop offset=".826" stop-color="#fec68a"/><stop offset=".837" stop-color="#fec185"/><stop offset=".848" stop-color="#feb078"/><stop offset=".859" stop-color="#feaa74"/><stop offset="1" stop-color="#feaa74"/></linearGradient>
<linearGradient id="h28" gradientUnits="userSpaceOnUse" x1="0" x2="0" y1="55.5" y2="147.5"><stop offset="0" stop-color="#fecc8f"/><stop offset=".054" stop-color="#fec488"/><stop offset=".087" stop-color="#feb97f"/><stop offset=".12" stop-color="#fe9f6d"/><stop offset=".13" stop-color="#fa815f"/><stop offset=".141" stop-color="#d3436e"/><stop offset=".152" stop-color="#942c80"/><stop offset=".163" stop-color="#792282"/><stop offset=".196" stop-color="#752181"/><stop offset=".207" stop-color="#6d1d81"/><stop offset=".217" stop-color="#491078"/><stop offset=".228" stop-color="#3b0f70"/><stop offset=".239" stop-color="#56147d"/><stop offset=".25" stop-color="#701f81"/><stop offset=".261" stop-color="#7c2382"/><stop offset=".272" stop-color="#9b2e7f"/><stop offset=".283" stop-color="#cf4070"/><stop offset=".293" stop-color="#f7725c"/><stop offset=".304" stop-color="#fea36f"/><stop offset=".315" stop-color="#feb27a"/><stop offset=".326" stop-color="#feb97f"/><stop offset=".37" stop-color="#fec68a"/><stop offset=".391" stop-color="#fec185"/><stop offset=".435" stop-color="#feac76"/><stop offset=".478" stop-color="#fea772"/><stop offset=".5" stop-color="#fc8c63"/><stop offset=".511" stop-color="#fb8761"/><stop offset=".543" stop-color="#fea973"/><stop offset=".793" stop-color="#feaa74"/><stop offset=".804" stop-color="#feae77"/><stop offset=".826" stop-color="#fec88c"/><stop offset=".848" stop-color="#feac76"/><stop offset=".859" stop-color="#feaa74"/><stop offset="1" stop-color="#feaa74"/></linearGradient>
<linearGradient id="h29" gradientUnits="userSpaceOnUse" x1="0" x2="0" y1="55.5" y2="147.5"><stop offset="0" stop-color="#feca8d"/><stop offset=".054" stop-color="#fec488"/><stop offset=".087" stop-color="#feb97f"/><stop offset=".12" stop-color="#fea571"/><stop offset=".13" stop-color="#fc8e64"/><stop offset=".141" stop-color="#e85362"/><stop offset=".152" stop-color="#aa337d"/><stop offset=".163" stop-color="#812581"/><stop offset=".174" stop-color="#782281"/><stop offset=".196" stop-color="#782281"/><stop offset=".207" stop-color="#721f81"/><stop offset=".217" stop-color="#54137d"/><stop offset=".228" stop-color="#3d0f71"/><stop offset=".239" stop-color="#4e117b"/><stop offset=".25" stop-color="#701f81"/><stop offset=".261" stop-color="#7b2382"/><stop offset=".272" stop-color="#912b81"/><stop offset=".283" stop-color="#bf3a77"/><stop offset=".293" stop-color="#f1605d"/><stop offset=".304" stop-color="#fd9a6a"/><stop offset=".315" stop-color="#feae77"/><stop offset=".326" stop-color="#feb67c"/><stop offset=".37" stop-color="#fec488"/><stop offset=".391" stop-color="#fec185"/><stop offset=".446" stop-color="#feaa74"/><stop offset=".478" stop-color="#fea772"/><stop offset=".5" stop-color="#fc8c63"/><stop offset=".511" stop-color="#fb8761"/><stop offset=".533" stop-color="#fea36f"/><stop offset=".543" stop-color="#fea973"/><stop offset=".793" stop-color="#feaa74"/><stop offset=".815" stop-color="#fec488"/><stop offset=".826" stop-color="#fec185"/><stop offset=".837" stop-color="#feb078"/><stop offset=".848" stop-color="#feaa74"/><stop offset="1" stop-color="#feaa74"/></linearGradient>
<linearGradient id="h30" gradientUnits="userSpaceOnUse" x1="0" x2="0" y1="55.5" y2="147.5"><stop offset="0" stop-color="#fecc8f"/><stop offset=".076" stop-color="#febf84"/><stop offset=".12" stop-color="#fea973"/><stop offset=".13" stop-color="#fd9869"/><stop offset=".141" stop-color="#f56b5c"/><stop offset=".152" stop-color="#c03a76"/><stop offset=".163" stop-color="#8c2981"/><stop offset=".174" stop-color="#7c2382"/><stop offset=".207" stop-color="#762181"/><stop offset=".217" stop-color="#601880"/><stop offset=".228" stop-color="#420f75"/><stop offset=".239" stop-color="#491078"/><stop offset=".25" stop-color="#6d1d81"/><stop offset=".272" stop-color="#892881"/><stop offset=".283" stop-color="#ae347b"/><stop offset=".293" stop-color="#e44f64"/><stop offset=".304" stop-color="#fc8961"/><stop offset=".315" stop-color="#fea973"/><stop offset=".326" stop-color="#feb47b"/><stop offset=".37" stop-color="#fec488"/><stop offset=".391" stop-color="#fec287"/><stop offset=".446" stop-color="#feac76"/><stop offset=".478" stop-color="#fea772"/><stop offset=".5" stop-color="#fc8e64"/><stop offset=".511" stop-color="#fc8961"/><stop offset=".533" stop-color="#fea36f"/><stop offset=".543" stop-color="#fea973"/><stop offset=".783" stop-color="#feaa74"/><stop offset=".793" stop-color="#feae77"/><stop offset=".815" stop-color="#fec88c"/><stop offset=".837" stop-color="#feae77"/><stop offset=".848" stop-color="#feaa74"/><stop offset="1" stop-color="#feaa74"/></linearGradient>
<linearGradient id="h31" gradientUnits="userSpaceOnUse" x1="0" x2="0" y1="55.5" y2="147.5"><stop offset="0" stop-color="#fecc8f"/><stop offset=".065" stop-color="#fec488"/><stop offset=".109" stop-color="#feb47b"/><stop offset=".13" stop-color="#fea16e"/><stop offset=".141" stop-color="#fb8560"/><stop offset=".152" stop-color="#d9466b"/><stop offset=".163" stop-color="#9e2f7f"/><stop offset=".174" stop-color="#832681"/><stop offset=".207" stop-color="#7c2382"/><stop offset=".217" stop-color="#701f81"/><stop offset=".228" stop-color="#4a1079"/><stop offset=".239" stop-color="#440f76"/><stop offset=".25" stop-color="#641a80"/><stop offset=".261" stop-color="#792282"/><stop offset=".272" stop-color="#842681"/><stop offset=".283" stop-color="#a1307e"/><stop offset=".293" stop-color="#d3436e"/><stop offset=".304" stop-color="#f8745c"/><stop offset=".315" stop-color="#fea16e"/><stop offset=".326" stop-color="#feb078"/><stop offset=".37" stop-color="#fec488"/><stop offset=".391" stop-color="#fec488"/><stop offset=".446" stop-color="#feae77"/><stop offset=".478" stop-color="#fea973"/><stop offset=".5" stop-color="#fc9065"/><stop offset=".511" stop-color="#fc8961"/><stop offset=".533" stop-color="#fea571"/><stop offset=".543" stop-color="#feaa74"/><stop offset=".772" stop-color="#feac76"/><stop offset=".793" stop-color="#feb67c"/><stop offset=".804" stop-color="#fec68a"/><stop offset=".815" stop-color="#fec488"/><stop offset=".826" stop-color="#feb47b"/><stop offset=".837" stop-color="#feac76"/><stop offset="1" stop-color="#feac76"/></linearGradient>
<linearGradient id="h32" gradientUnits="userSpaceOnUse" x1="0" x2="0" y1="55.5" y2="147.5"><stop offset="0" stop-color="#fecc8f"/><stop offset=".033" stop-color="#feca8d"/><stop offset=".098" stop-color="#febb81"/><stop offset=".13" stop-color="#fea772"/><stop offset=".141" stop-color="#fd9467"/><stop offset=".152" stop-color="#ed5a5f"/><stop offset=".163" stop-color="#b5367a"/><stop offset=".174" stop-color="#8b2981"/><stop offset=".185" stop-color="#812581"/><stop offset=".207" stop-color="#802582"/><stop offset=".217" stop-color="#782281"/><stop offset=".228" stop-color="#56147d"/><stop offset=".239" stop-color="#420f75"/><stop offset=".25" stop-color="#59157e"/><stop offset=".261" stop-color="#792282"/><stop offset=".272" stop-color="#832681"/><stop offset=".283" stop-color="#962c80"/><stop offset=".293" stop-color="#c23b75"/><stop offset=".304" stop-color="#f1605d"/><stop offset=".315" stop-color="#fd9869"/><stop offset=".326" stop-color="#feac76"/><stop offset=".337" stop-color="#feb67c"/><stop offset=".38" stop-color="#fec488"/><stop offset=".402" stop-color="#fec287"/><stop offset=".446" stop-color="#feb078"/><stop offset=".478" stop-color="#fea973"/><stop offset=".5" stop-color="#fc9065"/><stop offset=".511" stop-color="#fc8a62"/><stop offset=".533" stop-color="#fea571"/><stop offset=".543" stop-color="#feaa74"/><stop offset=".761" stop-color="#feac76"/><stop offset=".783" stop-color="#feb27a"/><stop offset=".804" stop-color="#feca8d"/><stop offset=".826" stop-color="#feb078"/><stop offset=".837" stop-color="#feac76"/><stop offset="1" stop-color="#feac76"/></linearGradient>
<linearGradient id="h33" gradientUnits="userSpaceOnUse" x1="0" x2="0" y1="55.5" y2="147.5"><stop offset="0" stop-color="#fecc8f"/><stop offset=".087" stop-color="#fec185"/><stop offset=".12" stop-color="#feb27a"/><stop offset=".141" stop-color="#fe9f6d"/><stop offset=".152" stop-color="#f9785d"/><stop offset=".163" stop-color="#cf4070"/><stop offset=".174" stop-color="#9b2e7f"/><stop offset=".185" stop-color="#862781"/><stop offset=".217" stop-color="#7e2482"/><stop offset=".239" stop-color="#451077"/><stop offset=".25" stop-color="#51127c"/><stop offset=".261" stop-color="#762181"/><stop offset=".283" stop-color="#902a81"/><stop offset=".293" stop-color="#b2357b"/><stop offset=".304" stop-color="#e44f64"/><stop offset=".315" stop-color="#fb8761"/><stop offset=".326" stop-color="#fea772"/><stop offset=".337" stop-color="#feb27a"/><stop offset=".37" stop-color="#fec185"/><stop offset=".413" stop-color="#fec185"/><stop offset=".478" stop-color="#fea973"/><stop offset=".5" stop-color="#fc9065"/><stop offset=".511" stop-color="#fc8a62"/><stop offset=".533" stop-color="#fea571"/><stop offset=".543" stop-color="#feac76"/><stop offset=".761" stop-color="#feac76"/><stop offset=".783" stop-color="#feb77e"/><stop offset=".793" stop-color="#fec88c"/><stop offset=".804" stop-color="#fec488"/><stop offset=".815" stop-color="#feb47b"/><stop offset=".837" stop-color="#feac76"/><stop offset="1" stop-color="#feac76"/></linearGradient>
<linearGradient id="h34" gradientUnits="userSpaceOnUse" x1="0" x2="0" y1="55.5" y2="147.5"><stop offset="0" stop-color="#fecc8f"/><stop offset=".043" stop-color="#feca8d"/><stop offset=".109" stop-color="#febb81"/><stop offset=".141" stop-color="#fea772"/><stop offset=".152" stop-color="#fc9065"/><stop offset=".163" stop-color="#e95462"/><stop offset=".174" stop-color="#b0357b"/><stop offset=".185" stop-color="#8e2a81"/><stop offset=".196" stop-color="#862781"/><stop offset=".217" stop-color="#832681"/><stop offset=".228" stop-color="#752181"/><stop offset=".239" stop-color="#4f127b"/><stop offset=".25" stop-color="#4a1079"/><stop offset=".261" stop-color="#6b1d81"/><stop offset=".272" stop-color="#812581"/><stop offset=".283" stop-color="#8b2981"/><stop offset=".293" stop-color="#a5317e"/><stop offset=".304" stop-color="#d3436e"/><stop offset=".315" stop-color="#f7725c"/><stop offset=".326" stop-color="#fe9f6d"/><stop offset=".348" stop-color="#feb67c"/><stop offset=".391" stop-color="#fec488"/><stop offset=".424" stop-color="#febf84"/><stop offset=".478" stop-color="#feaa74"/><stop offset=".5" stop-color="#fd9266"/><stop offset=".511" stop-color="#fc8c63"/><stop offset=".533" stop-color="#fea772"/><stop offset=".543" stop-color="#feac76"/><stop offset=".761" stop-color="#feae77"/><stop offset=".793" stop-color="#feca8d"/><stop offset=".815" stop-color="#feb078"/><stop offset=".826" stop-color="#feae77"/><stop offset="1" stop-color="#feae77"/></linearGradient>
<linearGradient id="h35" gradientUnits="userSpaceOnUse" x1="0" x2="0" y1="55.5" y2="147.5"><stop offset="0" stop-color="#fecd90"/><stop offset=".043" stop-color="#fecc8f"/><stop offset=".098" stop-color="#fec287"/><stop offset=".13" stop-color="#feb67c"/><stop offset=".152" stop-color="#fe9f6d"/><stop offset=".163" stop-color="#f7725c"/><stop offset=".174" stop-color="#cc3f71"/><stop offset=".185" stop-color="#9b2e7f"/><stop offset=".196" stop-color="#8b2981"/><stop offset=".217" stop-color="#882781"/><stop offset=".228" stop-color="#802582"/><stop offset=".239" stop-color="#5c167f"/><stop offset=".25" stop-color="#491078"/><stop offset=".261" stop-color="#5f187f"/><stop offset=".272" stop-color="#802582"/><stop offset=".293" stop-color="#9b2e7f"/><stop offset=".304" stop-color="#c23b75"/><stop offset=".315" stop-color="#ee5b5e"/><stop offset=".326" stop-color="#fd9467"/><stop offset=".337" stop-color="#feaa74"/><stop offset=".348" stop-color="#feb47b"/><stop offset=".37" stop-color="#febf84"/><stop offset=".402" stop-color="#fec68a"/><stop offset=".467" stop-color="#feb27a"/><stop offset=".511" stop-color="#fc8e64"/><stop offset=".533" stop-color="#fea973"/><stop offset=".543" stop-color="#feae77"/><stop offset=".75" stop-color="#feb078"/><stop offset=".761" stop-color="#feb27a"/><stop offset=".783" stop-color="#fecc8f"/><stop offset=".804" stop-color="#feb67c"/><stop offset=".815" stop-color="#feb078"/><stop offset="1" stop-color="#feb078"/></linearGradient>
<linearGradient id="h36" gradientUnits="userSpaceOnUse" x1="0" x2="0" y1="55.5" y2="147.5"><stop offset="0" stop-color="#fecf92"/><stop offset=".065" stop-color="#fecc8f"/><stop offset=".12" stop-color="#febf84"/><stop offset=".152" stop-color="#feaa74"/><stop offset=".163" stop-color="#fd9266"/><stop offset=".174" stop-color="#e85362"/><stop offset=".185" stop-color="#b2357b"/><stop offset=".196" stop-color="#912b81"/><stop offset=".228" stop-color="#862781"/><stop offset=".239" stop-color="#6d1d81"/><stop offset=".25" stop-color="#4c117a"/><stop offset=".261" stop-color="#56147d"/><stop offset=".272" stop-color="#7c2382"/><stop offset=".293" stop-color="#942c80"/><stop offset=".304" stop-color="#b2357b"/><stop offset=".315" stop-color="#e04c67"/><stop offset=".326" stop-color="#fa7f5e"/><stop offset=".337" stop-color="#fea571"/><stop offset=".348" stop-color="#feb27a"/><stop offset=".37" stop-color="#febf84"/><stop offset=".402" stop-color="#fec88c"/><stop offset=".467" stop-color="#feb67c"/><stop offset=".511" stop-color="#fc9065"/><stop offset=".533" stop-color="#feaa74"/><stop offset=".543" stop-color="#feb078"/><stop offset=".739" stop-color="#feb27a"/><stop offset=".761" stop-color="#feb97f"/><stop offset=".772" stop-color="#fec88c"/><stop offset=".783" stop-color="#fecd90"/><stop offset=".793" stop-color="#febd82"/><stop offset=".815" stop-color="#feb27a"/><stop offset="1" stop-color="#feb27a"/></linearGradient>
<linearGradient id="h37" gradientUnits="userSpaceOnUse" x1="0" x2="0" y1="55.5" y2="147.5"><stop offset="0" stop-color="#fed194"/><stop offset=".076" stop-color="#fecc8f"/><stop offset=".13" stop-color="#febf84"/><stop offset=".152" stop-color="#feb27a"/><stop offset=".163" stop-color="#fea36f"/><stop offset=".174" stop-color="#f7725c"/><stop offset=".185" stop-color="#cd4071"/><stop offset=".196" stop-color="#a02f7f"/><stop offset=".207" stop-color="#902a81"/><stop offset=".228" stop-color="#8c2981"/><stop offset=".239" stop-color="#7b2382"/><stop offset=".25" stop-color="#54137d"/><stop offset=".261" stop-color="#4f127b"/><stop offset=".272" stop-color="#732081"/><stop offset=".283" stop-color="#8b2981"/><stop offset=".293" stop-color="#912b81"/><stop offset=".304" stop-color="#a5317e"/><stop offset=".315" stop-color="#cd4071"/><stop offset=".326" stop-color="#f4675c"/><stop offset=".337" stop-color="#fd9b6b"/><stop offset=".348" stop-color="#feb078"/><stop offset=".38" stop-color="#fec287"/><stop offset=".402" stop-color="#fec88c"/><stop offset=".424" stop-color="#fec88c"/><stop offset=".457" stop-color="#febd82"/><stop offset=".478" stop-color="#feb27a"/><stop offset=".5" stop-color="#fd9869"/><stop offset=".511" stop-color="#fd9266"/><stop offset=".533" stop-color="#feac76"/><stop offset=".543" stop-color="#feb27a"/><stop offset=".739" stop-color="#feb47b"/><stop offset=".75" stop-color="#feb77e"/><stop offset=".772" stop-color="#fed194"/><stop offset=".793" stop-color="#feb77e"/><stop offset=".804" stop-color="#feb47b"/><stop offset="1" stop-color="#feb47b"/></linearGradient>
<linearGradient id="h38" gradientUnits="userSpaceOnUse" x1="0" x2="0" y1="55.5" y2="147.5"><stop offset="0" stop-color="#fed194"/><stop offset=".087" stop-color="#fecc8f"/><stop offset=".13" stop-color="#fec185"/><stop offset=".163" stop-color="#feae77"/><stop offset=".174" stop-color="#fd9266"/><stop offset=".185" stop-color="#e95462"/><stop offset=".196" stop-color="#b73779"/><stop offset=".207" stop-color="#982d80"/><stop offset=".228" stop-color="#912b81"/><stop offset=".239" stop-color="#862781"/><stop offset=".25" stop-color="#5a167e"/><stop offset=".261" stop-color="#4e117b"/><stop offset=".283" stop-color="#8b2981"/><stop offset=".304" stop-color="#9e2f7f"/><stop offset=".315" stop-color="#bd3977"/><stop offset=".326" stop-color="#e85362"/><stop offset=".337" stop-color="#fc8961"/><stop offset=".348" stop-color="#fea973"/><stop offset=".359" stop-color="#feb47b"/><stop offset=".391" stop-color="#fec488"/><stop offset=".413" stop-color="#fec88c"/><stop offset=".467" stop-color="#febb81"/><stop offset=".489" stop-color="#fea973"/><stop offset=".5" stop-color="#fd9869"/><stop offset=".511" stop-color="#fd9266"/><stop offset=".533" stop-color="#feac76"/><stop offset=".543" stop-color="#feb27a"/><stop offset=".739" stop-color="#feb67c"/><stop offset=".761" stop-color="#fecd90"/><stop offset=".772" stop-color="#fecd90"/><stop offset=".783" stop-color="#febd82"/><stop offset=".793" stop-color="#feb67c"/><stop offset="1" stop-color="#feb47b"/></linearGradient>
<linearGradient id="h39" gradientUnits="userSpaceOnUse" x1="0" x2="0" y1="55.5" y2="147.5"><stop offset="0" stop-color="#fed194"/><stop offset=".098" stop-color="#fecc8f"/><stop offset=".141" stop-color="#fec185"/><stop offset=".163" stop-color="#feb67c"/><stop offset=".174" stop-color="#fea772"/><stop offset=".185" stop-color="#f8765c"/><stop offset=".196" stop-color="#d3436e"/><stop offset=".207" stop-color="#a8327d"/><stop offset=".217" stop-color="#982d80"/><stop offset=".239" stop-color="#8b2981"/><stop offset=".25" stop-color="#601880"/><stop offset=".261" stop-color="#4e117b"/><stop offset=".272" stop-color="#681c81"/><stop offset=".283" stop-color="#8c2981"/><stop offset=".304" stop-color="#992d80"/><stop offset=".315" stop-color="#ae347b"/><stop offset=".326" stop-color="#d6456c"/><stop offset=".337" stop-color="#f7705c"/><stop offset=".348" stop-color="#fe9f6d"/><stop offset=".359" stop-color="#feb078"/><stop offset=".37" stop-color="#feb77e"/><stop offset=".413" stop-color="#fec88c"/><stop offset=".435" stop-color="#fec88c"/><stop offset=".467" stop-color="#febd82"/><stop offset=".478" stop-color="#feb77e"/><stop offset=".5" stop-color="#fd9a6a"/><stop offset=".511" stop-color="#fd9467"/><stop offset=".533" stop-color="#feae77"/><stop offset=".543" stop-color="#feb47b"/><stop offset=".728" stop-color="#feb67c"/><stop offset=".739" stop-color="#febb81"/><stop offset=".75" stop-color="#feca8d"/><stop offset=".761" stop-color="#fed194"/><stop offset=".783" stop-color="#feb77e"/><stop offset="1" stop-color="#feb67c"/></linearGradient>
<linearGradient id="h40" gradientUnits="userSpaceOnUse" x1="0" x2="0" y1="55.5" y2="147.5"><stop offset="0" stop-color="#fed194"/><stop offset=".109" stop-color="#fecc8f"/><stop offset=".152" stop-color="#fec185"/><stop offset=".174" stop-color="#feb47b"/><stop offset=".185" stop-color="#fd9869"/><stop offset=".196" stop-color="#ed5a5f"/><stop offset=".207" stop-color="#bd3977"/><stop offset=".217" stop-color="#9e2f7f"/><stop offset=".239" stop-color="#8c2981"/><stop offset=".25" stop-color="#671b80"/><stop offset=".261" stop-color="#4c117a"/><stop offset=".272" stop-color="#621980"/><stop offset=".283" stop-color="#8b2981"/><stop offset=".315" stop-color="#a3307e"/><stop offset=".326" stop-color="#c23b75"/><stop offset=".337" stop-color="#eb5760"/><stop offset=".348" stop-color="#fc8a62"/><stop offset=".359" stop-color="#fea772"/><stop offset=".37" stop-color="#feb27a"/><stop offset=".402" stop-color="#fec185"/><stop offset=".435" stop-color="#fec88c"/><stop offset=".467" stop-color="#fec185"/><stop offset=".489" stop-color="#feae77"/><stop offset=".5" stop-color="#fd9b6b"/><stop offset=".511" stop-color="#fd9668"/><stop offset=".533" stop-color="#feae77"/><stop offset=".543" stop-color="#feb47b"/><stop offset=".717" stop-color="#feb77e"/><stop offset=".728" stop-color="#feb97f"/><stop offset=".75" stop-color="#fed395"/><stop offset=".772" stop-color="#febb81"/><stop offset=".783" stop-color="#feb77e"/><stop offset="1" stop-color="#feb67c"/></linearGradient>
<linearGradient id="h41" gradientUnits="userSpaceOnUse" x1="0" x2="0" y1="55.5" y2="147.5"><stop offset="0" stop-color="#fed395"/><stop offset=".12" stop-color="#fecc8f"/><stop offset=".163" stop-color="#fec185"/><stop offset=".174" stop-color="#febb81"/><stop offset=".185" stop-color="#feac76"/><stop offset=".196" stop-color="#fa7d5e"/><stop offset=".207" stop-color="#de4968"/><stop offset=".217" stop-color="#b3367a"/><stop offset=".239" stop-color="#8c2981"/><stop offset=".261" stop-color="#4e117b"/><stop offset=".272" stop-color="#56147d"/><stop offset=".283" stop-color="#762181"/><stop offset=".315" stop-color="#912b81"/><stop offset=".326" stop-color="#a5317e"/><stop offset=".337" stop-color="#c73d73"/><stop offset=".348" stop-color="#eb5760"/><stop offset=".359" stop-color="#fa7d5e"/><stop offset=".37" stop-color="#fd9266"/><stop offset=".391" stop-color="#fea973"/><stop offset=".446" stop-color="#fec68a"/><stop offset=".478" stop-color="#febd82"/><stop offset=".489" stop-color="#feb27a"/><stop offset=".5" stop-color="#fe9f6d"/><stop offset=".511" stop-color="#fd9869"/><stop offset=".533" stop-color="#feb078"/><stop offset=".543" stop-color="#feb67c"/><stop offset=".707" stop-color="#feb77e"/><stop offset=".728" stop-color="#fec185"/><stop offset=".739" stop-color="#fed194"/><stop offset=".75" stop-color="#fed194"/><stop offset=".761" stop-color="#fec185"/><stop offset=".783" stop-color="#feb77e"/><stop offset="1" stop-color="#feb77e"/></linearGradient>
<linearGradient id="h42" gradientUnits="userSpaceOnUse" x1="0" x2="0" y1="55.5" y2="147.5"><stop offset="0" stop-color="#fed395"/><stop offset=".087" stop-color="#fed194"/><stop offset=".174" stop-color="#fec488"/><stop offset=".185" stop-color="#febd82"/><stop offset=".196" stop-color="#feaa74"/><stop offset=".207" stop-color="#fc9065"/><stop offset=".217" stop-color="#f66c5c"/><stop offset=".228" stop-color="#d6456c"/><stop offset=".239" stop-color="#a8327d"/><stop offset=".25" stop-color="#862781"/><stop offset=".261" stop-color="#752181"/><stop offset=".283" stop-color="#451077"/><stop offset=".293" stop-color="#4f127b"/><stop offset=".304" stop-color="#762181"/><stop offset=".315" stop-color="#842681"/><stop offset=".337" stop-color="#932b80"/><stop offset=".348" stop-color="#a5317e"/><stop offset=".359" stop-color="#c43c75"/><stop offset=".37" stop-color="#e75263"/><stop offset=".38" stop-color="#f9795d"/><stop offset=".391" stop-color="#fc9065"/><stop offset=".413" stop-color="#fea16e"/><stop offset=".435" stop-color="#febb81"/><stop offset=".457" stop-color="#fec88c"/><stop offset=".478" stop-color="#fec488"/><stop offset=".511" stop-color="#fe9d6c"/><stop offset=".533" stop-color="#feb27a"/><stop offset=".543" stop-color="#feb67c"/><stop offset=".707" stop-color="#feb97f"/><stop offset=".717" stop-color="#febd82"/><stop offset=".739" stop-color="#fed597"/><stop offset=".761" stop-color="#febb81"/><stop offset=".772" stop-color="#feb77e"/><stop offset="1" stop-color="#feb77e"/></linearGradient>
<linearGradient id="h43" gradientUnits="userSpaceOnUse" x1="0" x2="0" y1="55.5" y2="147.5"><stop offset="0" stop-color="#fed395"/><stop offset=".13" stop-color="#fecf92"/><stop offset=".174" stop-color="#fec88c"/><stop offset=".196" stop-color="#febf84"/><stop offset=".217" stop-color="#fea973"/><stop offset=".228" stop-color="#fa7f5e"/><stop offset=".239" stop-color="#df4a68"/><stop offset=".25" stop-color="#b5367a"/><stop offset=".272" stop-color="#812581"/><stop offset=".283" stop-color="#56147d"/><stop offset=".293" stop-color="#52137c"/><stop offset=".304" stop-color="#7b2382"/><stop offset=".315" stop-color="#982d80"/><stop offset=".348" stop-color="#a3307e"/><stop offset=".359" stop-color="#ba3878"/><stop offset=".37" stop-color="#df4a68"/><stop offset=".38" stop-color="#f8745c"/><stop offset=".391" stop-color="#fd9a6a"/><stop offset=".402" stop-color="#fea772"/><stop offset=".435" stop-color="#febf84"/><stop offset=".467" stop-color="#fec88c"/><stop offset=".478" stop-color="#fec68a"/><stop offset=".5" stop-color="#fea973"/><stop offset=".511" stop-color="#fea16e"/><stop offset=".533" stop-color="#feb47b"/><stop offset=".543" stop-color="#feb77e"/><stop offset=".707" stop-color="#febb81"/><stop offset=".728" stop-color="#fed597"/><stop offset=".75" stop-color="#febd82"/><stop offset=".772" stop-color="#feb77e"/><stop offset="1" stop-color="#feb77e"/></linearGradient>
<linearGradient id="h44" gradientUnits="userSpaceOnUse" x1="0" x2="0" y1="55.5" y2="147.5"><stop offset="0" stop-color="#fed395"/><stop offset=".163" stop-color="#fecc8f"/><stop offset=".217" stop-color="#febd82"/><stop offset=".228" stop-color="#feaa74"/><stop offset=".239" stop-color="#f8765c"/><stop offset=".25" stop-color="#d8456c"/><stop offset=".261" stop-color="#b5367a"/><stop offset=".272" stop-color="#9b2e7f"/><stop offset=".283" stop-color="#6b1d81"/><stop offset=".293" stop-color="#56147d"/><stop offset=".304" stop-color="#701f81"/><stop offset=".315" stop-color="#992d80"/><stop offset=".326" stop-color="#a5317e"/><stop offset=".348" stop-color="#a8327d"/><stop offset=".359" stop-color="#b5367a"/><stop offset=".37" stop-color="#d3436e"/><stop offset=".38" stop-color="#f2645c"/><stop offset=".391" stop-color="#fc9065"/><stop offset=".402" stop-color="#fea772"/><stop offset=".413" stop-color="#feb078"/><stop offset=".435" stop-color="#febd82"/><stop offset=".467" stop-color="#fec68a"/><stop offset=".478" stop-color="#fec488"/><stop offset=".489" stop-color="#febb81"/><stop offset=".5" stop-color="#feaa74"/><stop offset=".511" stop-color="#fea36f"/><stop offset=".533" stop-color="#feb67c"/><stop offset=".696" stop-color="#febb81"/><stop offset=".717" stop-color="#fed395"/><stop offset=".728" stop-color="#fed194"/><stop offset=".739" stop-color="#fec185"/><stop offset=".75" stop-color="#feb97f"/><stop offset="1" stop-color="#feb97f"/></linearGradient>
<linearGradient id="h45" gradientUnits="userSpaceOnUse" x1="0" x2="0" y1="55.5" y2="147.5"><stop offset="0" stop-color="#fed395"/><stop offset=".12" stop-color="#fed194"/><stop offset=".196" stop-color="#fec88c"/><stop offset=".217" stop-color="#fec287"/><stop offset=".228" stop-color="#feb97f"/><stop offset=".239" stop-color="#fe9d6c"/><stop offset=".25" stop-color="#f3655c"/><stop offset=".261" stop-color="#d0416f"/><stop offset=".283" stop-color="#892881"/><stop offset=".293" stop-color="#5f187f"/><stop offset=".304" stop-color="#5f187f"/><stop offset=".315" stop-color="#882781"/><stop offset=".326" stop-color="#a5317e"/><stop offset=".359" stop-color="#b0357b"/><stop offset=".37" stop-color="#c43c75"/><stop offset=".38" stop-color="#e44f64"/><stop offset=".391" stop-color="#f9795d"/><stop offset=".402" stop-color="#fd9b6b"/><stop offset=".424" stop-color="#feb27a"/><stop offset=".467" stop-color="#fec488"/><stop offset=".478" stop-color="#fec488"/><stop offset=".511" stop-color="#fea571"/><stop offset=".543" stop-color="#febb81"/><stop offset=".565" stop-color="#feb77e"/><stop offset=".685" stop-color="#feb97f"/><stop offset=".717" stop-color="#fed597"/><stop offset=".739" stop-color="#febb81"/><stop offset=".75" stop-color="#feb97f"/><stop offset="1" stop-color="#feb97f"/></linearGradient>
<linearGradient id="h46" gradientUnits="userSpaceOnUse" x1="0" x2="0" y1="55.5" y2="147.5"><stop offset="0" stop-color="#fed395"/><stop offset=".13" stop-color="#fed194"/><stop offset=".217" stop-color="#fec68a"/><stop offset=".239" stop-color="#feb77e"/><stop offset=".25" stop-color="#fd9266"/><stop offset=".261" stop-color="#ed5a5f"/><stop offset=".272" stop-color="#c83e73"/><stop offset=".283" stop-color="#a6317d"/><stop offset=".293" stop-color="#792282"/><stop offset=".304" stop-color="#5a167e"/><stop offset=".315" stop-color="#6d1d81"/><stop offset=".326" stop-color="#9b2e7f"/><stop offset=".337" stop-color="#ab337c"/><stop offset=".359" stop-color="#ae347b"/><stop offset=".37" stop-color="#ba3878"/><stop offset=".38" stop-color="#d3436e"/><stop offset=".391" stop-color="#f1605d"/><stop offset=".402" stop-color="#fc8a62"/><stop offset=".413" stop-color="#fea16e"/><stop offset=".424" stop-color="#feac76"/><stop offset=".467" stop-color="#fec185"/><stop offset=".478" stop-color="#fec287"/><stop offset=".489" stop-color="#febb81"/><stop offset=".5" stop-color="#feac76"/><stop offset=".511" stop-color="#fea772"/><stop offset=".543" stop-color="#febd82"/><stop offset=".576" stop-color="#feb77e"/><stop offset=".674" stop-color="#feb97f"/><stop offset=".685" stop-color="#febf84"/><stop offset=".707" stop-color="#fed799"/><stop offset=".728" stop-color="#febd82"/><stop offset=".739" stop-color="#feb97f"/><stop offset="1" stop-color="#feb97f"/></linearGradient>
<linearGradient id="h47" gradientUnits="userSpaceOnUse" x1="0" x2="0" y1="55.5" y2="147.5"><stop offset="0" stop-color="#fed395"/><stop offset=".141" stop-color="#fed194"/><stop offset=".228" stop-color="#fec68a"/><stop offset=".239" stop-color="#fec287"/><stop offset=".25" stop-color="#feb47b"/><stop offset=".261" stop-color="#fb8761"/><stop offset=".272" stop-color="#e85362"/><stop offset=".283" stop-color="#c43c75"/><stop offset=".293" stop-color="#9e2f7f"/><stop offset=".304" stop-color="#6b1d81"/><stop offset=".315" stop-color="#5d177f"/><stop offset=".337" stop-color="#a5317e"/><stop offset=".348" stop-color="#b0357b"/><stop offset=".37" stop-color="#b5367a"/><stop offset=".38" stop-color="#c53c74"/><stop offset=".391" stop-color="#e24d66"/><stop offset=".402" stop-color="#f7725c"/><stop offset=".413" stop-color="#fd9467"/><stop offset=".424" stop-color="#fea571"/><stop offset=".467" stop-color="#febd82"/><stop offset=".478" stop-color="#febf84"/><stop offset=".511" stop-color="#fea772"/><stop offset=".533" stop-color="#febb81"/><stop offset=".543" stop-color="#febf84"/><stop offset=".587" stop-color="#feb77e"/><stop offset=".663" stop-color="#feb97f"/><stop offset=".674" stop-color="#febd82"/><stop offset=".696" stop-color="#fed597"/><stop offset=".717" stop-color="#fec185"/><stop offset=".739" stop-color="#feb97f"/><stop offset="1" stop-color="#feb97f"/></linearGradient>
<linearGradient id="h48" gradientUnits="userSpaceOnUse" x1="0" x2="0" y1="55.5" y2="147.5"><stop offset="0" stop-color="#fed395"/><stop offset=".163" stop-color="#fed194"/><stop offset=".217" stop-color="#fecc8f"/><stop offset=".25" stop-color="#fec287"/><stop offset=".261" stop-color="#feae77"/><stop offset=".272" stop-color="#fa7d5e"/><stop offset=".283" stop-color="#e34e65"/><stop offset=".293" stop-color="#bd3977"/><stop offset=".304" stop-color="#8e2a81"/><stop offset=".315" stop-color="#621980"/><stop offset=".326" stop-color="#651a80"/><stop offset=".337" stop-color="#912b81"/><stop offset=".348" stop-color="#ae347b"/><stop offset=".38" stop-color="#bd3977"/><stop offset=".391" stop-color="#d2426f"/><stop offset=".402" stop-color="#ed5a5f"/><stop offset=".413" stop-color="#fa815f"/><stop offset=".424" stop-color="#fd9a6a"/><stop offset=".435" stop-color="#fea772"/><stop offset=".467" stop-color="#feb97f"/><stop offset=".489" stop-color="#feb77e"/><stop offset=".5" stop-color="#feaa74"/><stop offset=".511" stop-color="#fea772"/><stop offset=".533" stop-color="#febd82"/><stop offset=".543" stop-color="#fec185"/><stop offset=".587" stop-color="#feb97f"/><stop offset=".652" stop-color="#feb97f"/><stop offset=".674" stop-color="#fec287"/><stop offset=".685" stop-color="#fecf92"/><stop offset=".696" stop-color="#fecf92"/><stop offset=".717" stop-color="#febb81"/><stop offset="1" stop-color="#febb81"/></linearGradient>
<linearGradient id="h49" gradientUnits="userSpaceOnUse" x1="0" x2="0" y1="55.5" y2="147.5"><stop offset="0" stop-color="#fed395"/><stop offset=".185" stop-color="#fed194"/><stop offset=".239" stop-color="#fecc8f"/><stop offset=".261" stop-color="#fec287"/><stop offset=".272" stop-color="#fea973"/><stop offset=".283" stop-color="#f8765c"/><stop offset=".293" stop-color="#df4a68"/><stop offset=".304" stop-color="#b73779"/><stop offset=".315" stop-color="#812581"/><stop offset=".326" stop-color="#601880"/><stop offset=".337" stop-color="#732081"/><stop offset=".348" stop-color="#a3307e"/><stop offset=".359" stop-color="#b5367a"/><stop offset=".38" stop-color="#ba3878"/><stop offset=".391" stop-color="#c53c74"/><stop offset=".402" stop-color="#de4968"/><stop offset=".413" stop-color="#f4695c"/><stop offset=".424" stop-color="#fc8c63"/><stop offset=".435" stop-color="#fe9d6c"/><stop offset=".467" stop-color="#feb67c"/><stop offset=".489" stop-color="#feb47b"/><stop offset=".5" stop-color="#fea973"/><stop offset=".511" stop-color="#fea772"/><stop offset=".533" stop-color="#febf84"/><stop offset=".543" stop-color="#fec287"/><stop offset=".598" stop-color="#feb97f"/><stop offset=".641" stop-color="#feb97f"/><stop offset=".685" stop-color="#fecc8f"/><stop offset=".707" stop-color="#febd82"/><stop offset=".717" stop-color="#febb81"/><stop offset="1" stop-color="#febb81"/></linearGradient>
<linearGradient id="h50" gradientUnits="userSpaceOnUse" x1="0" x2="0" y1="55.5" y2="147.5"><stop offset="0" stop-color="#fed597"/><stop offset=".141" stop-color="#fed597"/><stop offset=".261" stop-color="#feca8d"/><stop offset=".272" stop-color="#fec185"/><stop offset=".283" stop-color="#fea36f"/><stop offset=".293" stop-color="#f66e5c"/><stop offset=".304" stop-color="#db476a"/><stop offset=".315" stop-color="#ae347b"/><stop offset=".326" stop-color="#762181"/><stop offset=".337" stop-color="#641a80"/><stop offset=".348" stop-color="#832681"/><stop offset=".359" stop-color="#ab337c"/><stop offset=".37" stop-color="#ba3878"/><stop offset=".391" stop-color="#bf3a77"/><stop offset=".402" stop-color="#cf4070"/><stop offset=".413" stop-color="#e75263"/><stop offset=".424" stop-color="#f8745c"/><stop offset=".435" stop-color="#fd9266"/><stop offset=".457" stop-color="#fea973"/><stop offset=".478" stop-color="#feb47b"/><stop offset=".511" stop-color="#fea571"/><stop offset=".533" stop-color="#febf84"/><stop offset=".543" stop-color="#fec488"/><stop offset=".609" stop-color="#febb81"/><stop offset=".652" stop-color="#febd82"/><stop offset=".674" stop-color="#fec88c"/><stop offset=".707" stop-color="#febd82"/><stop offset="1" stop-color="#febd82"/></linearGradient>
<linearGradient id="h51" gradientUnits="userSpaceOnUse" x1="0" x2="0" y1="55.5" y2="147.5"><stop offset="0" stop-color="#fed799"/><stop offset=".196" stop-color="#fed597"/><stop offset=".272" stop-color="#fecd90"/><stop offset=".283" stop-color="#fec185"/><stop offset=".293" stop-color="#fe9d6c"/><stop offset=".304" stop-color="#f56b5c"/><stop offset=".315" stop-color="#d6456c"/><stop offset=".326" stop-color="#a1307e"/><stop offset=".337" stop-color="#701f81"/><stop offset=".348" stop-color="#6a1c81"/><stop offset=".37" stop-color="#b3367a"/><stop offset=".38" stop-color="#bd3977"/><stop offset=".402" stop-color="#c53c74"/><stop offset=".413" stop-color="#d6456c"/><stop offset=".424" stop-color="#ee5b5e"/><stop offset=".435" stop-color="#fa7d5e"/><stop offset=".446" stop-color="#fd9668"/><stop offset=".467" stop-color="#feaa74"/><stop offset=".478" stop-color="#feae77"/><stop offset=".511" stop-color="#fea16e"/><stop offset=".533" stop-color="#febf84"/><stop offset=".543" stop-color="#fec68a"/><stop offset=".62" stop-color="#febd82"/><stop offset=".663" stop-color="#fec287"/><stop offset="1" stop-color="#febf84"/></linearGradient>
<linearGradient id="h52" gradientUnits="userSpaceOnUse" x1="0" x2="0" y1="55.5" y2="147.5"><stop offset="0" stop-color="#fed799"/><stop offset=".185" stop-color="#fed799"/><stop offset=".283" stop-color="#fecd90"/><stop offset=".293" stop-color="#fec185"/><stop offset=".304" stop-color="#fd9b6b"/><stop offset=".315" stop-color="#f4675c"/><stop offset=".326" stop-color="#d2426f"/><stop offset=".337" stop-color="#992d80"/><stop offset=".348" stop-color="#6d1d81"/><stop offset=".359" stop-color="#721f81"/><stop offset=".37" stop-color="#9c2e7f"/><stop offset=".38" stop-color="#ba3878"/><stop offset=".402" stop-color="#c23b75"/><stop offset=".413" stop-color="#cc3f71"/><stop offset=".424" stop-color="#df4a68"/><stop offset=".435" stop-color="#f2645c"/><stop offset=".446" stop-color="#fb8560"/><stop offset=".457" stop-color="#fd9869"/><stop offset=".478" stop-color="#fea973"/><stop offset=".511" stop-color="#fe9d6c"/><stop offset=".533" stop-color="#febd82"/><stop offset=".554" stop-color="#fec88c"/><stop offset=".641" stop-color="#febd82"/><stop offset="1" stop-color="#fec185"/></linearGradient>
<linearGradient id="h53" gradientUnits="userSpaceOnUse" x1="0" x2="0" y1="55.5" y2="147.5"><stop offset="0" stop-color="#fed89a"/><stop offset=".228" stop-color="#fed799"/><stop offset=".293" stop-color="#fecf92"/><stop offset=".304" stop-color="#fec185"/><stop offset=".315" stop-color="#fd9a6a"/><stop offset=".326" stop-color="#f4675c"/><stop offset=".337" stop-color="#d0416f"/><stop offset=".348" stop-color="#912b81"/><stop offset=".359" stop-color="#6d1d81"/><stop offset=".37" stop-color="#7b2382"/><stop offset=".38" stop-color="#a8327d"/><stop offset=".391" stop-color="#c03a76"/><stop offset=".413" stop-color="#c73d73"/><stop offset=".424" stop-color="#d2426f"/><stop offset=".435" stop-color="#e44f64"/><stop offset=".446" stop-color="#f66c5c"/><stop offset=".457" stop-color="#fc8961"/><stop offset=".467" stop-color="#fd9869"/><stop offset=".478" stop-color="#fe9f6d"/><stop offset=".5" stop-color="#fd9869"/><stop offset=".511" stop-color="#fd9a6a"/><stop offset=".533" stop-color="#feb97f"/><stop offset=".543" stop-color="#fec287"/><stop offset=".565" stop-color="#fec88c"/><stop offset=".641" stop-color="#febf84"/><stop offset="1" stop-color="#fec185"/></linearGradient>
<linearGradient id="h54" gradientUnits="userSpaceOnUse" x1="0" x2="0" y1="55.5" y2="147.5"><stop offset="0" stop-color="#fed89a"/><stop offset=".272" stop-color="#fed799"/><stop offset=".304" stop-color="#fed194"/><stop offset=".315" stop-color="#fec185"/><stop offset=".326" stop-color="#fd9a6a"/><stop offset=".337" stop-color="#f4675c"/><stop offset=".348" stop-color="#ca3e72"/><stop offset=".359" stop-color="#8c2981"/><stop offset=".37" stop-color="#6e1e81"/><stop offset=".38" stop-color="#842681"/><stop offset=".391" stop-color="#b2357b"/><stop offset=".402" stop-color="#c53c74"/><stop offset=".424" stop-color="#ca3e72"/><stop offset=".435" stop-color="#d6456c"/><stop offset=".446" stop-color="#ea5661"/><stop offset=".457" stop-color="#f7725c"/><stop offset=".467" stop-color="#fc8a62"/><stop offset=".478" stop-color="#fd9668"/><stop offset=".511" stop-color="#fd9467"/><stop offset=".533" stop-color="#feb67c"/><stop offset=".543" stop-color="#febf84"/><stop offset=".576" stop-color="#fec88c"/><stop offset=".663" stop-color="#febf84"/><stop offset="1" stop-color="#fec287"/></linearGradient>
<linearGradient id="h55" gradientUnits="userSpaceOnUse" x1="0" x2="0" y1="55.5" y2="147.5"><stop offset="0" stop-color="#fdda9c"/><stop offset=".272" stop-color="#fed89a"/><stop offset=".315" stop-color="#fed395"/><stop offset=".326" stop-color="#fec185"/><stop offset=".337" stop-color="#fd9a6a"/><stop offset=".348" stop-color="#f3655c"/><stop offset=".359" stop-color="#c53c74"/><stop offset=".37" stop-color="#892881"/><stop offset=".38" stop-color="#732081"/><stop offset=".391" stop-color="#8c2981"/><stop offset=".402" stop-color="#b83779"/><stop offset=".413" stop-color="#c83e73"/><stop offset=".435" stop-color="#cf4070"/><stop offset=".446" stop-color="#dc4869"/><stop offset=".457" stop-color="#ed5a5f"/><stop offset=".467" stop-color="#f8765c"/><stop offset=".478" stop-color="#fc8a62"/><stop offset=".489" stop-color="#fc9065"/><stop offset=".511" stop-color="#fc8e64"/><stop offset=".533" stop-color="#feb078"/><stop offset=".543" stop-color="#febb81"/><stop offset=".565" stop-color="#fec488"/><stop offset=".587" stop-color="#fec88c"/><stop offset=".663" stop-color="#fec185"/><stop offset="1" stop-color="#fec488"/></linearGradient>
<linearGradient id="h56" gradientUnits="userSpaceOnUse" x1="0" x2="0" y1="55.5" y2="147.5"><stop offset="0" stop-color="#fdda9c"/><stop offset=".261" stop-color="#fdda9c"/><stop offset=".315" stop-color="#fed89a"/><stop offset=".326" stop-color="#fed395"/><stop offset=".337" stop-color="#fec287"/><stop offset=".348" stop-color="#fe9d6c"/><stop offset=".359" stop-color="#f4675c"/><stop offset=".37" stop-color="#c23b75"/><stop offset=".38" stop-color="#882781"/><stop offset=".391" stop-color="#762181"/><stop offset=".402" stop-color="#912b81"/><stop offset=".413" stop-color="#bc3978"/><stop offset=".424" stop-color="#cc3f71"/><stop offset=".446" stop-color="#d3436e"/><stop offset=".457" stop-color="#e04c67"/><stop offset=".467" stop-color="#f05f5e"/><stop offset=".478" stop-color="#f9795d"/><stop offset=".489" stop-color="#fb8560"/><stop offset=".511" stop-color="#fb8761"/><stop offset=".533" stop-color="#feaa74"/><stop offset=".543" stop-color="#feb67c"/><stop offset=".576" stop-color="#fec488"/><stop offset=".598" stop-color="#fec88c"/><stop offset=".674" stop-color="#fec287"/><stop offset="1" stop-color="#fec68a"/></linearGradient>
<linearGradient id="h57" gradientUnits="userSpaceOnUse" x1="0" x2="0" y1="55.5" y2="147.5"><stop offset="0" stop-color="#fddc9e"/><stop offset=".261" stop-color="#fddc9e"/><stop offset=".337" stop-color="#fed799"/><stop offset=".348" stop-color="#fec68a"/><stop offset=".359" stop-color="#fea16e"/><stop offset=".37" stop-color="#f56b5c"/><stop offset=".38" stop-color="#c43c75"/><stop offset=".391" stop-color="#8b2981"/><stop offset=".402" stop-color="#7b2382"/><stop offset=".413" stop-color="#962c80"/><stop offset=".424" stop-color="#bf3a77"/><stop offset=".435" stop-color="#cd4071"/><stop offset=".457" stop-color="#d6456c"/><stop offset=".467" stop-color="#e34e65"/><stop offset=".478" stop-color="#f2625d"/><stop offset=".489" stop-color="#f9785d"/><stop offset=".511" stop-color="#fa815f"/><stop offset=".543" stop-color="#feb078"/><stop offset=".576" stop-color="#fec185"/><stop offset=".62" stop-color="#feca8d"/><stop offset=".685" stop-color="#fec488"/><stop offset="1" stop-color="#fec88c"/></linearGradient>
<linearGradient id="h58" gradientUnits="userSpaceOnUse" x1="0" x2="0" y1="55.5" y2="147.5"><stop offset="0" stop-color="#fddea0"/><stop offset=".261" stop-color="#fddea0"/><stop offset=".348" stop-color="#fed89a"/><stop offset=".359" stop-color="#fec88c"/><stop offset=".37" stop-color="#fea571"/><stop offset=".38" stop-color="#f66e5c"/><stop offset=".391" stop-color="#c83e73"/><stop offset=".402" stop-color="#912b81"/><stop offset=".413" stop-color="#802582"/><stop offset=".424" stop-color="#982d80"/><stop offset=".435" stop-color="#c03a76"/><stop offset=".446" stop-color="#d0416f"/><stop offset=".467" stop-color="#d9466b"/><stop offset=".478" stop-color="#e44f64"/><stop offset=".489" stop-color="#f1605d"/><stop offset=".511" stop-color="#f97b5d"/><stop offset=".543" stop-color="#fea973"/><stop offset=".587" stop-color="#fec185"/><stop offset=".641" stop-color="#fecc8f"/><stop offset=".707" stop-color="#fec68a"/><stop offset="1" stop-color="#feca8d"/></linearGradient>
<linearGradient id="h59" gradientUnits="userSpaceOnUse" x1="0" x2="0" y1="55.5" y2="147.5"><stop offset="0" stop-color="#fddea0"/><stop offset=".348" stop-color="#fddea0"/><stop offset=".359" stop-color="#fdda9c"/><stop offset=".37" stop-color="#fecc8f"/><stop offset=".38" stop-color="#feaa74"/><stop offset=".391" stop-color="#f9785d"/><stop offset=".402" stop-color="#d0416f"/><stop offset=".413" stop-color="#992d80"/><stop offset=".424" stop-color="#832681"/><stop offset=".435" stop-color="#982d80"/><stop offset=".446" stop-color="#bf3a77"/><stop offset=".457" stop-color="#d0416f"/><stop offset=".489" stop-color="#e44f64"/><stop offset=".511" stop-color="#f66e5c"/><stop offset=".533" stop-color="#fd9266"/><stop offset=".554" stop-color="#fea973"/><stop offset=".62" stop-color="#fec68a"/><stop offset=".652" stop-color="#fecc8f"/><stop offset=".717" stop-color="#fec88c"/><stop offset="1" stop-color="#fecc8f"/></linearGradient>
<linearGradient id="h60" gradientUnits="userSpaceOnUse" x1="0" x2="0" y1="55.5" y2="147.5"><stop offset="0" stop-color="#fde0a1"/><stop offset=".37" stop-color="#fddc9e"/><stop offset=".38" stop-color="#fed194"/><stop offset=".391" stop-color="#feb27a"/><stop offset=".402" stop-color="#fa815f"/><stop offset=".413" stop-color="#dc4869"/><stop offset=".424" stop-color="#a5317e"/><stop offset=".435" stop-color="#892881"/><stop offset=".446" stop-color="#962c80"/><stop offset=".457" stop-color="#ba3878"/><stop offset=".467" stop-color="#d0416f"/><stop offset=".5" stop-color="#e34e65"/><stop offset=".511" stop-color="#ee5b5e"/><stop offset=".522" stop-color="#f7725c"/><stop offset=".533" stop-color="#fb8761"/><stop offset=".565" stop-color="#fea772"/><stop offset=".598" stop-color="#feb97f"/><stop offset=".641" stop-color="#fec88c"/><stop offset=".663" stop-color="#fecc8f"/><stop offset="1" stop-color="#fecd90"/></linearGradient>
<linearGradient id="h61" gradientUnits="userSpaceOnUse" x1="0" x2="0" y1="55.5" y2="147.5"><stop offset="0" stop-color="#fde0a1"/><stop offset=".38" stop-color="#fddea0"/><stop offset=".391" stop-color="#fed597"/><stop offset=".402" stop-color="#febb81"/><stop offset=".413" stop-color="#fc8e64"/><stop offset=".424" stop-color="#e85362"/><stop offset=".435" stop-color="#b2357b"/><stop offset=".446" stop-color="#902a81"/><stop offset=".457" stop-color="#942c80"/><stop offset=".478" stop-color="#cf4070"/><stop offset=".511" stop-color="#e34e65"/><stop offset=".522" stop-color="#f05f5e"/><stop offset=".533" stop-color="#f9785d"/><stop offset=".543" stop-color="#fc8961"/><stop offset=".576" stop-color="#fea571"/><stop offset=".62" stop-color="#febd82"/><stop offset=".652" stop-color="#fec88c"/><stop offset=".696" stop-color="#fecd90"/><stop offset="1" stop-color="#fed194"/></linearGradient>
<linearGradient id="h62" gradientUnits="userSpaceOnUse" x1="0" x2="0" y1="55.5" y2="147.5"><stop offset="0" stop-color="#fde2a3"/><stop offset=".391" stop-color="#fde0a1"/><stop offset=".402" stop-color="#fdda9c"/><stop offset=".413" stop-color="#fec488"/><stop offset=".424" stop-color="#fe9d6c"/><stop offset=".435" stop-color="#f2625d"/><stop offset=".446" stop-color="#c43c75"/><stop offset=".457" stop-color="#992d80"/><stop offset=".467" stop-color="#942c80"/><stop offset=".489" stop-color="#cc3f71"/><stop offset=".5" stop-color="#d8456c"/><stop offset=".522" stop-color="#e55064"/><stop offset=".543" stop-color="#f9785d"/><stop offset=".565" stop-color="#fd9266"/><stop offset=".587" stop-color="#fea36f"/><stop offset=".641" stop-color="#fec185"/><stop offset=".663" stop-color="#fec88c"/><stop offset=".717" stop-color="#fecf92"/><stop offset="1" stop-color="#fed395"/></linearGradient>
<linearGradient id="h63" gradientUnits="userSpaceOnUse" x1="0" x2="0" y1="55.5" y2="147.5"><stop offset="0" stop-color="#fde3a5"/><stop offset=".391" stop-color="#fde3a5"/><stop offset=".413" stop-color="#fddea0"/><stop offset=".424" stop-color="#fecf92"/><stop offset=".435" stop-color="#feae77"/><stop offset=".446" stop-color="#f9785d"/><stop offset=".457" stop-color="#d6456c"/><stop offset=".467" stop-color="#a8327d"/><stop offset=".478" stop-color="#962c80"/><stop offset=".489" stop-color="#a8327d"/><stop offset=".5" stop-color="#c83e73"/><stop offset=".522" stop-color="#df4a68"/><stop offset=".543" stop-color="#f2625d"/><stop offset=".565" stop-color="#fb8761"/><stop offset=".576" stop-color="#fc9065"/><stop offset=".62" stop-color="#feb078"/><stop offset=".663" stop-color="#fec488"/><stop offset=".739" stop-color="#fed194"/><stop offset="1" stop-color="#fed597"/></linearGradient>
<linearGradient id="h64" gradientUnits="userSpaceOnUse" x1="0" x2="0" y1="55.5" y2="147.5"><stop offset="0" stop-color="#fde3a5"/><stop offset=".413" stop-color="#fde3a5"/><stop offset=".424" stop-color="#fde0a1"/><stop offset=".435" stop-color="#fed89a"/><stop offset=".446" stop-color="#febd82"/><stop offset=".457" stop-color="#fc9065"/><stop offset=".467" stop-color="#e95462"/><stop offset=".478" stop-color="#ba3878"/><stop offset=".489" stop-color="#9c2e7f"/><stop offset=".5" stop-color="#a3307e"/><stop offset=".522" stop-color="#d5446d"/><stop offset=".543" stop-color="#e95462"/><stop offset=".554" stop-color="#f1605d"/><stop offset=".565" stop-color="#f8745c"/><stop offset=".576" stop-color="#fb8560"/><stop offset=".62" stop-color="#fea772"/><stop offset=".663" stop-color="#febf84"/><stop offset=".696" stop-color="#feca8d"/><stop offset=".739" stop-color="#fed194"/><stop offset="1" stop-color="#fed799"/></linearGradient>
<linearGradient id="h65" gradientUnits="userSpaceOnUse" x1="0" x2="0" y1="55.5" y2="147.5"><stop offset="0" stop-color="#fde3a5"/><stop offset=".435" stop-color="#fde2a3"/><stop offset=".446" stop-color="#fddc9e"/><stop offset=".457" stop-color="#feca8d"/><stop offset=".467" stop-color="#fea772"/><stop offset=".478" stop-color="#f66c5c"/><stop offset=".489" stop-color="#cf4070"/><stop offset=".5" stop-color="#a8327d"/><stop offset=".511" stop-color="#a1307e"/><stop offset=".522" stop-color="#b73779"/><stop offset=".533" stop-color="#d5446d"/><stop offset=".554" stop-color="#e95462"/><stop offset=".576" stop-color="#f7725c"/><stop offset=".587" stop-color="#fa815f"/><stop offset=".63" stop-color="#fea36f"/><stop offset=".685" stop-color="#fec185"/><stop offset=".761" stop-color="#fed194"/><stop offset="1" stop-color="#fed799"/></linearGradient>
<linearGradient id="h66" gradientUnits="userSpaceOnUse" x1="0" x2="0" y1="55.5" y2="147.5"><stop offset="0" stop-color="#fde2a3"/><stop offset=".457" stop-color="#fde0a1"/><stop offset=".467" stop-color="#fed799"/><stop offset=".478" stop-color="#feb77e"/><stop offset=".489" stop-color="#fb835f"/><stop offset=".5" stop-color="#e24d66"/><stop offset=".511" stop-color="#b83779"/><stop offset=".522" stop-color="#a5317e"/><stop offset=".533" stop-color="#b2357b"/><stop offset=".543" stop-color="#cf4070"/><stop offset=".554" stop-color="#e04c67"/><stop offset=".576" stop-color="#f05f5e"/><stop offset=".587" stop-color="#f7705c"/><stop offset=".598" stop-color="#fa7f5e"/><stop offset=".652" stop-color="#fea772"/><stop offset=".717" stop-color="#fec68a"/><stop offset=".815" stop-color="#fed395"/><stop offset="1" stop-color="#fed799"/></linearGradient>
<linearGradient id="h67" gradientUnits="userSpaceOnUse" x1="0" x2="0" y1="55.5" y2="147.5"><stop offset="0" stop-color="#fde2a3"/><stop offset=".467" stop-color="#fde2a3"/><stop offset=".478" stop-color="#fed89a"/><stop offset=".489" stop-color="#fec185"/><stop offset=".5" stop-color="#fd9467"/><stop offset=".511" stop-color="#f05f5e"/><stop offset=".522" stop-color="#cd4071"/><stop offset=".533" stop-color="#b0357b"/><stop offset=".543" stop-color="#b0357b"/><stop offset=".565" stop-color="#de4968"/><stop offset=".598" stop-color="#f66c5c"/><stop offset=".62" stop-color="#fb8560"/><stop offset=".663" stop-color="#fea36f"/><stop offset=".728" stop-color="#fec488"/><stop offset=".815" stop-color="#fed395"/><stop offset="1" stop-color="#fed89a"/></linearGradient>
<linearGradient id="h68" gradientUnits="userSpaceOnUse" x1="0" x2="0" y1="55.5" y2="147.5"><stop offset="0" stop-color="#fde2a3"/><stop offset=".478" stop-color="#fde0a1"/><stop offset=".489" stop-color="#fed597"/><stop offset=".5" stop-color="#fec185"/><stop offset=".511" stop-color="#fea36f"/><stop offset=".522" stop-color="#f97b5d"/><stop offset=".533" stop-color="#e55064"/><stop offset=".543" stop-color="#c23b75"/><stop offset=".554" stop-color="#b3367a"/><stop offset=".565" stop-color="#bf3a77"/><stop offset=".576" stop-color="#d9466b"/><stop offset=".587" stop-color="#e75263"/><stop offset=".609" stop-color="#f56b5c"/><stop offset=".63" stop-color="#fa815f"/><stop offset=".685" stop-color="#fea772"/><stop offset=".739" stop-color="#fec185"/><stop offset=".793" stop-color="#fecf92"/><stop offset=".837" stop-color="#fed395"/><stop offset="1" stop-color="#fed89a"/></linearGradient>
<linearGradient id="h69" gradientUnits="userSpaceOnUse" x1="0" x2="0" y1="55.5" y2="147.5"><stop offset="0" stop-color="#fde2a3"/><stop offset=".478" stop-color="#fde0a1"/><stop offset=".522" stop-color="#feb97f"/><stop offset=".533" stop-color="#fe9d6c"/><stop offset=".543" stop-color="#f56b5c"/><stop offset=".554" stop-color="#d8456c"/><stop offset=".565" stop-color="#bd3977"/><stop offset=".576" stop-color="#bd3977"/><stop offset=".587" stop-color="#cf4070"/><stop offset=".598" stop-color="#e44f64"/><stop offset=".63" stop-color="#f8745c"/><stop offset=".663" stop-color="#fc8961"/><stop offset=".717" stop-color="#feae77"/><stop offset=".761" stop-color="#fec185"/><stop offset=".837" stop-color="#fed194"/><stop offset="1" stop-color="#fed89a"/></linearGradient>
<linearGradient id="h70" gradientUnits="userSpaceOnUse" x1="0" x2="0" y1="55.5" y2="147.5"><stop offset="0" stop-color="#fde2a3"/><stop offset=".457" stop-color="#fde2a3"/><stop offset=".478" stop-color="#fddea0"/><stop offset=".5" stop-color="#feca8d"/><stop offset=".511" stop-color="#fec68a"/><stop offset=".533" stop-color="#fecd90"/><stop offset=".543" stop-color="#feb77e"/><stop offset=".554" stop-color="#fc8a62"/><stop offset=".565" stop-color="#ed5a5f"/><stop offset=".576" stop-color="#cf4070"/><stop offset=".587" stop-color="#c03a76"/><stop offset=".598" stop-color="#c83e73"/><stop offset=".609" stop-color="#de4968"/><stop offset=".62" stop-color="#eb5760"/><stop offset=".641" stop-color="#f7705c"/><stop offset=".685" stop-color="#fc8961"/><stop offset=".728" stop-color="#fea973"/><stop offset=".761" stop-color="#feb97f"/><stop offset=".804" stop-color="#fec88c"/><stop offset=".859" stop-color="#fed194"/><stop offset="1" stop-color="#fed799"/></linearGradient>
<linearGradient id="h71" gradientUnits="userSpaceOnUse" x1="0" x2="0" y1="55.5" y2="147.5"><stop offset="0" stop-color="#fde2a3"/><stop offset=".457" stop-color="#fde2a3"/><stop offset=".478" stop-color="#fddea0"/><stop offset=".511" stop-color="#fec488"/><stop offset=".533" stop-color="#fdda9c"/><stop offset=".543" stop-color="#fed89a"/><stop offset=".554" stop-color="#feca8d"/><stop offset=".565" stop-color="#fea973"/><stop offset=".576" stop-color="#f9795d"/><stop offset=".587" stop-color="#e55064"/><stop offset=".598" stop-color="#cd4071"/><stop offset=".609" stop-color="#c73d73"/><stop offset=".62" stop-color="#d5446d"/><stop offset=".63" stop-color="#e85362"/><stop offset=".652" stop-color="#f66c5c"/><stop offset=".663" stop-color="#f8765c"/><stop offset=".696" stop-color="#fb835f"/><stop offset=".739" stop-color="#fea36f"/><stop offset=".783" stop-color="#feb97f"/><stop offset=".837" stop-color="#feca8d"/><stop offset=".88" stop-color="#fed194"/><stop offset="1" stop-color="#fed799"/></linearGradient>
<linearGradient id="h72" gradientUnits="userSpaceOnUse" x1="0" x2="0" y1="55.5" y2="147.5"><stop offset="0" stop-color="#fde0a1"/><stop offset=".467" stop-color="#fde0a1"/><stop offset=".478" stop-color="#fddea0"/><stop offset=".511" stop-color="#fec488"/><stop offset=".533" stop-color="#fdda9c"/><stop offset=".554" stop-color="#fddea0"/><stop offset=".565" stop-color="#fed597"/><stop offset=".576" stop-color="#febf84"/><stop offset=".587" stop-color="#fd9a6a"/><stop offset=".598" stop-color="#f66c5c"/><stop offset=".609" stop-color="#e04c67"/><stop offset=".62" stop-color="#cf4070"/><stop offset=".63" stop-color="#cf4070"/><stop offset=".641" stop-color="#de4968"/><stop offset=".652" stop-color="#ec5860"/><stop offset=".674" stop-color="#f7725c"/><stop offset=".717" stop-color="#fb8560"/><stop offset=".793" stop-color="#feb47b"/><stop offset=".88" stop-color="#fecc8f"/><stop offset="1" stop-color="#fed799"/></linearGradient>
<linearGradient id="h73" gradientUnits="userSpaceOnUse" x1="0" x2="0" y1="55.5" y2="147.5"><stop offset="0" stop-color="#fddea0"/><stop offset=".467" stop-color="#fddea0"/><stop offset=".478" stop-color="#fddc9e"/><stop offset=".511" stop-color="#fec287"/><stop offset=".533" stop-color="#fed89a"/><stop offset=".565" stop-color="#fddea0"/><stop offset=".587" stop-color="#fecf92"/><stop offset=".598" stop-color="#feb27a"/><stop offset=".609" stop-color="#fc8c63"/><stop offset=".62" stop-color="#f2625d"/><stop offset=".63" stop-color="#de4968"/><stop offset=".641" stop-color="#d2426f"/><stop offset=".652" stop-color="#d6456c"/><stop offset=".663" stop-color="#e44f64"/><stop offset=".674" stop-color="#f05f5e"/><stop offset=".696" stop-color="#f8765c"/><stop offset=".728" stop-color="#fa7d5e"/><stop offset=".815" stop-color="#feb078"/><stop offset=".902" stop-color="#feca8d"/><stop offset="1" stop-color="#fed395"/></linearGradient>
<linearGradient id="h74" gradientUnits="userSpaceOnUse" x1="0" x2="0" y1="55.5" y2="147.5"><stop offset="0" stop-color="#fddc9e"/><stop offset=".467" stop-color="#fddc9e"/><stop offset=".478" stop-color="#fdda9c"/><stop offset=".511" stop-color="#fec185"/><stop offset=".533" stop-color="#fed799"/><stop offset=".554" stop-color="#fddc9e"/><stop offset=".587" stop-color="#fdda9c"/><stop offset=".598" stop-color="#fed597"/><stop offset=".609" stop-color="#fec68a"/><stop offset=".62" stop-color="#feaa74"/><stop offset=".63" stop-color="#fb8560"/><stop offset=".641" stop-color="#f2625d"/><stop offset=".652" stop-color="#e04c67"/><stop offset=".663" stop-color="#d8456c"/><stop offset=".674" stop-color="#dc4869"/><stop offset=".696" stop-color="#f2625d"/><stop offset=".707" stop-color="#f66c5c"/><stop offset=".717" stop-color="#f8765c"/><stop offset=".75" stop-color="#f97b5d"/><stop offset=".772" stop-color="#fb8761"/><stop offset=".837" stop-color="#feac76"/><stop offset=".924" stop-color="#fec68a"/><stop offset="1" stop-color="#fecf92"/></linearGradient>
<linearGradient id="h75" gradientUnits="userSpaceOnUse" x1="0" x2="0" y1="55.5" y2="147.5"><stop offset="0" stop-color="#fdda9c"/><stop offset=".467" stop-color="#fdda9c"/><stop offset=".478" stop-color="#fed89a"/><stop offset=".5" stop-color="#fec488"/><stop offset=".511" stop-color="#fec185"/><stop offset=".543" stop-color="#fdda9c"/><stop offset=".609" stop-color="#fed89a"/><stop offset=".62" stop-color="#fed395"/><stop offset=".63" stop-color="#fec68a"/><stop offset=".652" stop-color="#fc8961"/><stop offset=".663" stop-color="#f4675c"/><stop offset=".674" stop-color="#e75263"/><stop offset=".685" stop-color="#de4968"/><stop offset=".696" stop-color="#e04c67"/><stop offset=".717" stop-color="#f2645c"/><stop offset=".739" stop-color="#f8765c"/><stop offset=".772" stop-color="#f97b5d"/><stop offset=".848" stop-color="#fea571"/><stop offset=".924" stop-color="#febf84"/><stop offset="1" stop-color="#fecc8f"/></linearGradient>
<linearGradient id="h76" gradientUnits="userSpaceOnUse" x1="0" x2="0" y1="55.5" y2="147.5"><stop offset="0" stop-color="#fddc9e"/><stop offset=".467" stop-color="#fddc9e"/><stop offset=".478" stop-color="#fdda9c"/><stop offset=".511" stop-color="#fec185"/><stop offset=".533" stop-color="#fed799"/><stop offset=".543" stop-color="#fdda9c"/><stop offset=".63" stop-color="#fdda9c"/><stop offset=".652" stop-color="#feca8d"/><stop offset=".674" stop-color="#fd9467"/><stop offset=".685" stop-color="#f8745c"/><stop offset=".696" stop-color="#ed5a5f"/><stop offset=".707" stop-color="#e44f64"/><stop offset=".717" stop-color="#e34e65"/><stop offset=".739" stop-color="#f3655c"/><stop offset=".761" stop-color="#f8765c"/><stop offset=".804" stop-color="#fa7f5e"/><stop offset=".848" stop-color="#fd9a6a"/><stop offset=".913" stop-color="#feb67c"/><stop offset="1" stop-color="#feca8d"/></linearGradient>
<linearGradient id="h77" gradientUnits="userSpaceOnUse" x1="0" x2="0" y1="55.5" y2="147.5"><stop offset="0" stop-color="#fddea0"/><stop offset=".467" stop-color="#fddea0"/><stop offset=".478" stop-color="#fddc9e"/><stop offset=".511" stop-color="#fec287"/><stop offset=".543" stop-color="#fddea0"/><stop offset=".652" stop-color="#fddc9e"/><stop offset=".674" stop-color="#fecf92"/><stop offset=".685" stop-color="#febd82"/><stop offset=".707" stop-color="#fa815f"/><stop offset=".717" stop-color="#f3655c"/><stop offset=".728" stop-color="#ea5661"/><stop offset=".739" stop-color="#e75263"/><stop offset=".75" stop-color="#eb5760"/><stop offset=".783" stop-color="#f9785d"/><stop offset=".826" stop-color="#fa815f"/><stop offset=".902" stop-color="#feac76"/><stop offset="1" stop-color="#fec88c"/></linearGradient>
<linearGradient id="h78" gradientUnits="userSpaceOnUse" x1="0" x2="0" y1="55.5" y2="147.5"><stop offset="0" stop-color="#fde0a1"/><stop offset=".467" stop-color="#fde0a1"/><stop offset=".478" stop-color="#fddea0"/><stop offset=".511" stop-color="#fec488"/><stop offset=".533" stop-color="#fdda9c"/><stop offset=".554" stop-color="#fde0a1"/><stop offset=".674" stop-color="#fde0a1"/><stop offset=".696" stop-color="#fed597"/><stop offset=".707" stop-color="#fec488"/><stop offset=".728" stop-color="#fc8e64"/><stop offset=".739" stop-color="#f7725c"/><stop offset=".75" stop-color="#f05f5e"/><stop offset=".761" stop-color="#eb5760"/><stop offset=".772" stop-color="#ec5860"/><stop offset=".793" stop-color="#f7725c"/><stop offset=".804" stop-color="#f9795d"/><stop offset=".848" stop-color="#fb835f"/><stop offset=".924" stop-color="#feac76"/><stop offset="1" stop-color="#fec488"/></linearGradient>
<linearGradient id="h79" gradientUnits="userSpaceOnUse" x1="0" x2="0" y1="55.5" y2="147.5"><stop offset="0" stop-color="#fde2a3"/><stop offset=".446" stop-color="#fde2a3"/><stop offset=".478" stop-color="#fddea0"/><stop offset=".5" stop-color="#feca8d"/><stop offset=".511" stop-color="#fec68a"/><stop offset=".543" stop-color="#fde0a1"/><stop offset=".696" stop-color="#fde0a1"/><stop offset=".717" stop-color="#fed89a"/><stop offset=".728" stop-color="#fecc8f"/><stop offset=".739" stop-color="#feb77e"/><stop offset=".761" stop-color="#fa815f"/><stop offset=".772" stop-color="#f4695c"/><stop offset=".783" stop-color="#ef5d5e"/><stop offset=".793" stop-color="#ee5b5e"/><stop offset=".826" stop-color="#f9795d"/><stop offset=".88" stop-color="#fc8961"/><stop offset=".935" stop-color="#fea772"/><stop offset="1" stop-color="#febf84"/></linearGradient>
<linearGradient id="h80" gradientUnits="userSpaceOnUse" x1="0" x2="0" y1="55.5" y2="147.5"><stop offset="0" stop-color="#fde2a3"/><stop offset=".467" stop-color="#fde2a3"/><stop offset=".478" stop-color="#fde0a1"/><stop offset=".5" stop-color="#fecc8f"/><stop offset=".511" stop-color="#fec88c"/><stop offset=".543" stop-color="#fde2a3"/><stop offset=".717" stop-color="#fde2a3"/><stop offset=".75" stop-color="#fed597"/><stop offset=".772" stop-color="#feac76"/><stop offset=".783" stop-color="#fd9266"/><stop offset=".793" stop-color="#f9785d"/><stop offset=".804" stop-color="#f4675c"/><stop offset=".815" stop-color="#f1605d"/><stop offset=".826" stop-color="#f2645c"/><stop offset=".859" stop-color="#fa7f5e"/><stop offset=".902" stop-color="#fc8961"/><stop offset=".957" stop-color="#fea772"/><stop offset="1" stop-color="#feb77e"/></linearGradient>
<linearGradient id="h81" gradientUnits="userSpaceOnUse" x1="0" x2="0" y1="55.5" y2="147.5"><stop offset="0" stop-color="#fde3a5"/><stop offset=".467" stop-color="#fde3a5"/><stop offset=".478" stop-color="#fde2a3"/><stop offset=".5" stop-color="#fecd90"/><stop offset=".511" stop-color="#feca8d"/><stop offset=".533" stop-color="#fddea0"/><stop offset=".543" stop-color="#fde2a3"/><stop offset=".75" stop-color="#fde3a5"/><stop offset=".772" stop-color="#fdda9c"/><stop offset=".783" stop-color="#fecf92"/><stop offset=".815" stop-color="#fc8a62"/><stop offset=".826" stop-color="#f8745c"/><stop offset=".837" stop-color="#f4675c"/><stop offset=".848" stop-color="#f3655c"/><stop offset=".88" stop-color="#fa815f"/><stop offset=".924" stop-color="#fc8961"/><stop offset="1" stop-color="#feb078"/></linearGradient>
<linearGradient id="h82" gradientUnits="userSpaceOnUse" x1="0" x2="0" y1="55.5" y2="147.5"><stop offset="0" stop-color="#fde5a7"/><stop offset=".467" stop-color="#fde5a7"/><stop offset=".478" stop-color="#fde2a3"/><stop offset=".511" stop-color="#feca8d"/><stop offset=".533" stop-color="#fddea0"/><stop offset=".554" stop-color="#fde5a7"/><stop offset=".772" stop-color="#fde5a7"/><stop offset=".793" stop-color="#fde0a1"/><stop offset=".804" stop-color="#fed89a"/><stop offset=".826" stop-color="#feb47b"/><stop offset=".848" stop-color="#fb835f"/><stop offset=".859" stop-color="#f7725c"/><stop offset=".87" stop-color="#f56b5c"/><stop offset=".88" stop-color="#f66c5c"/><stop offset=".913" stop-color="#fb8761"/><stop offset=".946" stop-color="#fc8a62"/><stop offset="1" stop-color="#fea571"/></linearGradient>
<linearGradient id="h83" gradientUnits="userSpaceOnUse" x1="0" x2="0" y1="55.5" y2="147.5"><stop offset="0" stop-color="#fde5a7"/><stop offset=".467" stop-color="#fde5a7"/><stop offset=".478" stop-color="#fde3a5"/><stop offset=".511" stop-color="#feca8d"/><stop offset=".533" stop-color="#fde0a1"/><stop offset=".554" stop-color="#fde5a7"/><stop offset=".793" stop-color="#fde5a7"/><stop offset=".815" stop-color="#fde2a3"/><stop offset=".837" stop-color="#fed395"/><stop offset=".87" stop-color="#fd9467"/><stop offset=".88" stop-color="#fa7f5e"/><stop offset=".891" stop-color="#f8745c"/><stop offset=".902" stop-color="#f7705c"/><stop offset=".913" stop-color="#f8745c"/><stop offset=".935" stop-color="#fc8961"/><stop offset=".978" stop-color="#fc8e64"/><stop offset="1" stop-color="#fd9869"/></linearGradient>
<linearGradient id="h84" gradientUnits="userSpaceOnUse" x1="0" x2="0" y1="55.5" y2="147.5"><stop offset="0" stop-color="#fde3a5"/><stop offset=".467" stop-color="#fde3a5"/><stop offset=".478" stop-color="#fde2a3"/><stop offset=".511" stop-color="#feca8d"/><stop offset=".543" stop-color="#fde3a5"/><stop offset=".837" stop-color="#fde3a5"/><stop offset=".859" stop-color="#fdda9c"/><stop offset=".87" stop-color="#fecf92"/><stop offset=".902" stop-color="#fc9065"/><stop offset=".913" stop-color="#fa7f5e"/><stop offset=".924" stop-color="#f8765c"/><stop offset=".946" stop-color="#f97b5d"/><stop offset=".967" stop-color="#fc8c63"/><stop offset="1" stop-color="#fc8c63"/></linearGradient>
<linearGradient id="h85" gradientUnits="userSpaceOnUse" x1="0" x2="0" y1="55.5" y2="147.5"><stop offset="0" stop-color="#fde3a5"/><stop offset=".467" stop-color="#fde3a5"/><stop offset=".478" stop-color="#fde2a3"/><stop offset=".5" stop-color="#fecd90"/><stop offset=".511" stop-color="#feca8d"/><stop offset=".543" stop-color="#fde3a5"/><stop offset=".859" stop-color="#fde3a5"/><stop offset=".88" stop-color="#fddea0"/><stop offset=".902" stop-color="#fecc8f"/><stop offset=".924" stop-color="#fea571"/><stop offset=".946" stop-color="#fa815f"/><stop offset=".957" stop-color="#f97b5d"/><stop offset=".967" stop-color="#fa7d5e"/><stop offset=".989" stop-color="#fc9065"/><stop offset="1" stop-color="#fc9065"/></linearGradient>
<linearGradient id="h86" gradientUnits="userSpaceOnUse" x1="0" x2="0" y1="55.5" y2="147.5"><stop offset="0" stop-color="#fde5a7"/><stop offset=".467" stop-color="#fde5a7"/><stop offset=".478" stop-color="#fde2a3"/><stop offset=".511" stop-color="#feca8d"/><stop offset=".533" stop-color="#fddea0"/><stop offset=".554" stop-color="#fde5a7"/><stop offset=".88" stop-color="#fde5a7"/><stop offset=".924" stop-color="#fed89a"/><stop offset=".935" stop-color="#fecd90"/><stop offset=".957" stop-color="#feac76"/><stop offset=".978" stop-color="#fd9869"/><stop offset="1" stop-color="#fe9d6c"/></linearGradient>
<linearGradient id="h87" gradientUnits="userSpaceOnUse" x1="0" x2="0" y1="55.5" y2="147.5"><stop offset="0" stop-color="#fde5a7"/><stop offset=".467" stop-color="#fde5a7"/><stop offset=".478" stop-color="#fde3a5"/><stop offset=".5" stop-color="#fecf92"/><stop offset=".511" stop-color="#fecc8f"/><stop offset=".533" stop-color="#fde0a1"/><stop offset=".554" stop-color="#fde5a7"/><stop offset=".924" stop-color="#fde5a7"/><stop offset=".967" stop-color="#fed89a"/><stop offset="1" stop-color="#fed597"/></linearGradient>
<linearGradient id="h88" gradientUnits="userSpaceOnUse" x1="0" x2="0" y1="55.5" y2="147.5"><stop offset="0" stop-color="#fde5a7"/><stop offset=".467" stop-color="#fde5a7"/><stop offset=".478" stop-color="#fde3a5"/><stop offset=".511" stop-color="#fecc8f"/><stop offset=".543" stop-color="#fde5a7"/><stop offset="1" stop-color="#fde5a7"/></linearGradient>
<linearGradient id="h89" gradientUnits="userSpaceOnUse" x1="0" x2="0" y1="55.5" y2="147.5"><stop offset="0" stop-color="#fde7a9"/><stop offset=".467" stop-color="#fde7a9"/><stop offset=".478" stop-color="#fde5a7"/><stop offset=".511" stop-color="#fecd90"/><stop offset=".533" stop-color="#fde2a3"/><stop offset=".554" stop-color="#fde7a9"/><stop offset="1" stop-color="#fde7a9"/></linearGradient>
<linearGradient id="h90" gradientUnits="userSpaceOnUse" x1="0" x2="0" y1="55.5" y2="147.5"><stop offset="0" stop-color="#fde7a9"/><stop offset=".467" stop-color="#fde7a9"/><stop offset=".478" stop-color="#fde5a7"/><stop offset=".5" stop-color="#fed395"/><stop offset=".511" stop-color="#fecf92"/><stop offset=".543" stop-color="#fde7a9"/><stop offset="1" stop-color="#fde7a9"/></linearGradient>
<linearGradient id="h91" gradientUnits="userSpaceOnUse" x1="0" x2="0" y1="55.5" y2="147.5"><stop offset="0" stop-color="#fde5a7"/><stop offset=".467" stop-color="#fde5a7"/><stop offset=".478" stop-color="#fde3a5"/><stop offset=".511" stop-color="#fecd90"/><stop offset=".533" stop-color="#fde0a1"/><stop offset=".554" stop-color="#fde5a7"/><stop offset=".978" stop-color="#fde5a7"/><stop offset="1" stop-color="#fed799"/></linearGradient>
<linearGradient id="h92" gradientUnits="userSpaceOnUse" x1="0" x2="0" y1="55.5" y2="147.5"><stop offset="0" stop-color="#fde5a7"/><stop offset=".467" stop-color="#fde5a7"/><stop offset=".478" stop-color="#fde3a5"/><stop offset=".511" stop-color="#fecd90"/><stop offset=".533" stop-color="#fde0a1"/><stop offset=".554" stop-color="#fde5a7"/><stop offset=".957" stop-color="#fde5a7"/><stop offset=".978" stop-color="#fddc9e"/><stop offset="1" stop-color="#feae77"/></linearGradient>
<linearGradient id="h93" gradientUnits="userSpaceOnUse" x1="0" x2="0" y1="55.5" y2="147.5"><stop offset="0" stop-color="#fde5a7"/><stop offset=".467" stop-color="#fde5a7"/><stop offset=".489" stop-color="#fddea0"/><stop offset=".5" stop-color="#fed395"/><stop offset=".511" stop-color="#fecf92"/><stop offset=".543" stop-color="#fde5a7"/><stop offset=".946" stop-color="#fde5a7"/><stop offset=".957" stop-color="#fde3a5"/><stop offset=".967" stop-color="#fed89a"/><stop offset=".978" stop-color="#febf84"/><stop offset=".989" stop-color="#fe9d6c"/><stop offset="1" stop-color="#fb8560"/></linearGradient>
<linearGradient id="h94" gradientUnits="userSpaceOnUse" x1="0" x2="0" y1="55.5" y2="147.5"><stop offset="0" stop-color="#fde5a7"/><stop offset=".467" stop-color="#fde5a7"/><stop offset=".489" stop-color="#fddea0"/><stop offset=".5" stop-color="#fed395"/><stop offset=".511" stop-color="#fecf92"/><stop offset=".533" stop-color="#fde2a3"/><stop offset=".543" stop-color="#fde5a7"/><stop offset=".935" stop-color="#fde5a7"/><stop offset=".946" stop-color="#fde3a5"/><stop offset=".957" stop-color="#fed799"/><stop offset=".978" stop-color="#fd9467"/><stop offset=".989" stop-color="#f97b5d"/><stop offset="1" stop-color="#f8745c"/></linearGradient>
<linearGradient id="h95" gradientUnits="userSpaceOnUse" x1="0" x2="0" y1="55.5" y2="147.5"><stop offset="0" stop-color="#fde5a7"/><stop offset=".467" stop-color="#fde5a7"/><stop offset=".489" stop-color="#fddea0"/><stop offset=".5" stop-color="#fed395"/><stop offset=".511" stop-color="#fecf92"/><stop offset=".543" stop-color="#fde5a7"/><stop offset=".924" stop-color="#fde5a7"/><stop offset=".935" stop-color="#fde3a5"/><stop offset=".946" stop-color="#fed799"/><stop offset=".967" stop-color="#fc8c63"/><stop offset=".978" stop-color="#f8765c"/><stop offset=".989" stop-color="#f7725c"/><stop offset="1" stop-color="#fa7d5e"/></linearGradient>
<linearGradient id="h96" gradientUnits="userSpaceOnUse" x1="0" x2="0" y1="55.5" y2="147.5"><stop offset="0" stop-color="#fde3a5"/><stop offset=".467" stop-color="#fde3a5"/><stop offset=".478" stop-color="#fde2a3"/><stop offset=".511" stop-color="#fecd90"/><stop offset=".533" stop-color="#fde0a1"/><stop offset=".543" stop-color="#fde3a5"/><stop offset=".913" stop-color="#fde3a5"/><stop offset=".924" stop-color="#fde2a3"/><stop offset=".935" stop-color="#fed597"/><stop offset=".957" stop-color="#fc8961"/><stop offset=".967" stop-color="#f7705c"/><stop offset=".978" stop-color="#f66e5c"/><stop offset=".989" stop-color="#fb8560"/><stop offset="1" stop-color="#fea571"/></linearGradient>
<linearGradient id="h97" gradientUnits="userSpaceOnUse" x1="0" x2="0" y1="55.5" y2="147.5"><stop offset="0" stop-color="#fde3a5"/><stop offset=".457" stop-color="#fde3a5"/><stop offset=".478" stop-color="#fde0a1"/><stop offset=".5" stop-color="#fecf92"/><stop offset=".511" stop-color="#fecc8f"/><stop offset=".533" stop-color="#fddea0"/><stop offset=".554" stop-color="#fde3a5"/><stop offset=".913" stop-color="#fde2a3"/><stop offset=".924" stop-color="#fed597"/><stop offset=".935" stop-color="#feae77"/><stop offset=".946" stop-color="#fb835f"/><stop offset=".957" stop-color="#f56b5c"/><stop offset=".967" stop-color="#f56b5c"/><stop offset=".978" stop-color="#fb835f"/><stop offset=".989" stop-color="#feae77"/><stop offset="1" stop-color="#fed194"/></linearGradient>
<linearGradient id="h98" gradientUnits="userSpaceOnUse" x1="0" x2="0" y1="55.5" y2="147.5"><stop offset="0" stop-color="#fde2a3"/><stop offset=".467" stop-color="#fde2a3"/><stop offset=".511" stop-color="#fecc8f"/><stop offset=".533" stop-color="#fddea0"/><stop offset=".543" stop-color="#fde2a3"/><stop offset=".891" stop-color="#fde2a3"/><stop offset=".902" stop-color="#fde0a1"/><stop offset=".913" stop-color="#fed395"/><stop offset=".935" stop-color="#fa7f5e"/><stop offset=".946" stop-color="#f3655c"/><stop offset=".957" stop-color="#f3655c"/><stop offset=".967" stop-color="#fa7f5e"/><stop offset=".989" stop-color="#fed395"/><stop offset="1" stop-color="#fde0a1"/></linearGradient>
<linearGradient id="h99" gradientUnits="userSpaceOnUse" x1="0" x2="0" y1="55.5" y2="147.5"><stop offset="0" stop-color="#fde2a3"/><stop offset=".467" stop-color="#fde2a3"/><stop offset=".511" stop-color="#fecc8f"/><stop offset=".543" stop-color="#fde2a3"/><stop offset=".88" stop-color="#fde2a3"/><stop offset=".891" stop-color="#fde0a1"/><stop offset=".902" stop-color="#fed194"/><stop offset=".913" stop-color="#feaa74"/><stop offset=".924" stop-color="#f97b5d"/><stop offset=".935" stop-color="#f2625d"/><stop offset=".946" stop-color="#f2625d"/><stop offset=".957" stop-color="#f97b5d"/><stop offset=".967" stop-color="#feaa74"/><stop offset=".978" stop-color="#fed395"/><stop offset=".989" stop-color="#fde0a1"/><stop offset="1" stop-color="#fde2a3"/></linearGradient>
<linearGradient id="h100" gradientUnits="userSpaceOnUse" x1="0" x2="0" y1="55.5" y2="147.5"><stop offset="0" stop-color="#fde2a3"/><stop offset=".467" stop-color="#fde2a3"/><stop offset=".478" stop-color="#fde0a1"/><stop offset=".511" stop-color="#feca8d"/><stop offset=".533" stop-color="#fddc9e"/><stop offset=".554" stop-color="#fde2a3"/><stop offset=".87" stop-color="#fde2a3"/><stop offset=".88" stop-color="#fde0a1"/><stop offset=".891" stop-color="#fed194"/><stop offset=".902" stop-color="#fea772"/><stop offset=".913" stop-color="#f9785d"/><stop offset=".924" stop-color="#ef5d5e"/><stop offset=".935" stop-color="#f05f5e"/><stop offset=".946" stop-color="#f9795d"/><stop offset=".957" stop-color="#fea973"/><stop offset=".967" stop-color="#fed194"/><stop offset=".978" stop-color="#fddea0"/><stop offset="1" stop-color="#fde2a3"/></linearGradient>
<linearGradient id="h101" gradientUnits="userSpaceOnUse" x1="0" x2="0" y1="55.5" y2="147.5"><stop offset="0" stop-color="#fde0a1"/><stop offset=".467" stop-color="#fde0a1"/><stop offset=".478" stop-color="#fddea0"/><stop offset=".511" stop-color="#fec88c"/><stop offset=".533" stop-color="#fdda9c"/><stop offset=".554" stop-color="#fde0a1"/><stop offset=".859" stop-color="#fde0a1"/><stop offset=".87" stop-color="#fddea0"/><stop offset=".88" stop-color="#fed194"/><stop offset=".891" stop-color="#fea772"/><stop offset=".902" stop-color="#f8745c"/><stop offset=".913" stop-color="#ed5a5f"/><stop offset=".924" stop-color="#ed5a5f"/><stop offset=".935" stop-color="#f8765c"/><stop offset=".946" stop-color="#fea772"/><stop offset=".957" stop-color="#fecf92"/><stop offset=".967" stop-color="#fddc9e"/><stop offset="1" stop-color="#fddea0"/></linearGradient>
<linearGradient id="h102" gradientUnits="userSpaceOnUse" x1="0" x2="0" y1="55.5" y2="147.5"><stop offset="0" stop-color="#fddea0"/><stop offset=".467" stop-color="#fddea0"/><stop offset=".478" stop-color="#fddc9e"/><stop offset=".511" stop-color="#fec68a"/><stop offset=".533" stop-color="#fed89a"/><stop offset=".554" stop-color="#fddea0"/><stop offset=".848" stop-color="#fddea0"/><stop offset=".859" stop-color="#fddc9e"/><stop offset=".87" stop-color="#fecf92"/><stop offset=".88" stop-color="#fea772"/><stop offset=".891" stop-color="#f7725c"/><stop offset=".902" stop-color="#eb5760"/><stop offset=".913" stop-color="#eb5760"/><stop offset=".924" stop-color="#f7725c"/><stop offset=".935" stop-color="#fea36f"/><stop offset=".946" stop-color="#feca8d"/><stop offset=".957" stop-color="#fed89a"/><stop offset="1" stop-color="#fed89a"/></linearGradient>
<linearGradient id="h103" gradientUnits="userSpaceOnUse" x1="0" x2="0" y1="55.5" y2="147.5"><stop offset="0" stop-color="#fddc9e"/><stop offset=".467" stop-color="#fddc9e"/><stop offset=".489" stop-color="#fed597"/><stop offset=".511" stop-color="#fec68a"/><stop offset=".543" stop-color="#fddc9e"/><stop offset=".848" stop-color="#fddc9e"/><stop offset=".859" stop-color="#fecf92"/><stop offset=".87" stop-color="#fea772"/><stop offset=".88" stop-color="#f7725c"/><stop offset=".891" stop-color="#e95462"/><stop offset=".902" stop-color="#e85362"/><stop offset=".913" stop-color="#f66c5c"/><stop offset=".924" stop-color="#fe9f6d"/><stop offset=".935" stop-color="#fec68a"/><stop offset=".946" stop-color="#fed395"/><stop offset="1" stop-color="#fed597"/></linearGradient>
<linearGradient id="h104" gradientUnits="userSpaceOnUse" x1="0" x2="0" y1="55.5" y2="147.5"><stop offset="0" stop-color="#fddc9e"/><stop offset=".467" stop-color="#fddc9e"/><stop offset=".478" stop-color="#fdda9c"/><stop offset=".511" stop-color="#fec488"/><stop offset=".533" stop-color="#fed799"/><stop offset=".554" stop-color="#fddc9e"/><stop offset=".826" stop-color="#fddc9e"/><stop offset=".837" stop-color="#fdda9c"/><stop offset=".848" stop-color="#fecf92"/><stop offset=".859" stop-color="#fea772"/><stop offset=".87" stop-color="#f7705c"/><stop offset=".88" stop-color="#e75263"/><stop offset=".891" stop-color="#e55064"/><stop offset=".902" stop-color="#f4675c"/><stop offset=".913" stop-color="#fd9a6a"/><stop offset=".924" stop-color="#fec185"/><stop offset=".935" stop-color="#fecd90"/><stop offset="1" stop-color="#fecf92"/></linearGradient>
<linearGradient id="h105" gradientUnits="userSpaceOnUse" x1="0" x2="0" y1="55.5" y2="147.5"><stop offset="0" stop-color="#fdda9c"/><stop offset=".467" stop-color="#fdda9c"/><stop offset=".511" stop-color="#fec488"/><stop offset=".543" stop-color="#fdda9c"/><stop offset=".815" stop-color="#fdda9c"/><stop offset=".837" stop-color="#fecf92"/><stop offset=".848" stop-color="#fea973"/><stop offset=".859" stop-color="#f7705c"/><stop offset=".87" stop-color="#e55064"/><stop offset=".88" stop-color="#e24d66"/><stop offset=".891" stop-color="#f2625d"/><stop offset=".902" stop-color="#fd9467"/><stop offset=".913" stop-color="#febb81"/><stop offset=".924" stop-color="#fec88c"/><stop offset="1" stop-color="#feca8d"/></linearGradient>
<linearGradient id="h106" gradientUnits="userSpaceOnUse" x1="0" x2="0" y1="55.5" y2="147.5"><stop offset="0" stop-color="#fed89a"/><stop offset=".467" stop-color="#fed89a"/><stop offset=".478" stop-color="#fed799"/><stop offset=".511" stop-color="#fec287"/><stop offset=".543" stop-color="#fed89a"/><stop offset=".815" stop-color="#fed799"/><stop offset=".826" stop-color="#fecd90"/><stop offset=".837" stop-color="#fea973"/><stop offset=".848" stop-color="#f7705c"/><stop offset=".859" stop-color="#e34e65"/><stop offset=".87" stop-color="#de4968"/><stop offset=".88" stop-color="#ee5b5e"/><stop offset=".891" stop-color="#fc8a62"/><stop offset=".902" stop-color="#feb47b"/><stop offset=".913" stop-color="#fec185"/><stop offset="1" stop-color="#fec68a"/></linearGradient>
<linearGradient id="h107" gradientUnits="userSpaceOnUse" x1="0" x2="0" y1="55.5" y2="147.5"><stop offset="0" stop-color="#fed799"/><stop offset=".467" stop-color="#fed799"/><stop offset=".511" stop-color="#fec185"/><stop offset=".543" stop-color="#fed799"/><stop offset=".804" stop-color="#fed799"/><stop offset=".815" stop-color="#fecc8f"/><stop offset=".826" stop-color="#fea973"/><stop offset=".837" stop-color="#f7705c"/><stop offset=".848" stop-color="#e24d66"/><stop offset=".859" stop-color="#d9466b"/><stop offset=".87" stop-color="#ea5661"/><stop offset=".88" stop-color="#fb835f"/><stop offset=".891" stop-color="#feac76"/><stop offset=".902" stop-color="#feb97f"/><stop offset=".967" stop-color="#febb81"/><stop offset="1" stop-color="#fec287"/></linearGradient>
<linearGradient id="h108" gradientUnits="userSpaceOnUse" x1="0" x2="0" y1="55.5" y2="147.5"><stop offset="0" stop-color="#fed799"/><stop offset=".467" stop-color="#fed799"/><stop offset=".478" stop-color="#fed597"/><stop offset=".511" stop-color="#febf84"/><stop offset=".533" stop-color="#fed194"/><stop offset=".554" stop-color="#fed799"/><stop offset=".783" stop-color="#fed799"/><stop offset=".804" stop-color="#fecc8f"/><stop offset=".815" stop-color="#fea973"/><stop offset=".826" stop-color="#f66e5c"/><stop offset=".837" stop-color="#df4a68"/><stop offset=".848" stop-color="#d6456c"/><stop offset=".859" stop-color="#e75263"/><stop offset=".87" stop-color="#fa7d5e"/><stop offset=".88" stop-color="#fea571"/><stop offset=".891" stop-color="#feb27a"/><stop offset=".967" stop-color="#feb67c"/><stop offset="1" stop-color="#fec185"/></linearGradient>
<linearGradient id="h109" gradientUnits="userSpaceOnUse" x1="0" x2="0" y1="55.5" y2="147.5"><stop offset="0" stop-color="#fed799"/><stop offset=".467" stop-color="#fed799"/><stop offset=".511" stop-color="#fec185"/><stop offset=".533" stop-color="#fed194"/><stop offset=".554" stop-color="#fed799"/><stop offset=".772" stop-color="#fed799"/><stop offset=".793" stop-color="#fecd90"/><stop offset=".804" stop-color="#feac76"/><stop offset=".815" stop-color="#f7705c"/><stop offset=".826" stop-color="#de4968"/><stop offset=".837" stop-color="#d2426f"/><stop offset=".848" stop-color="#e34e65"/><stop offset=".859" stop-color="#f9785d"/><stop offset=".87" stop-color="#fea16e"/><stop offset=".88" stop-color="#feae77"/><stop offset=".946" stop-color="#feb078"/><stop offset="1" stop-color="#fec287"/></linearGradient>
<linearGradient id="h110" gradientUnits="userSpaceOnUse" x1="0" x2="0" y1="55.5" y2="147.5"><stop offset="0" stop-color="#fed799"/><stop offset=".467" stop-color="#fed799"/><stop offset=".511" stop-color="#fec185"/><stop offset=".543" stop-color="#fed799"/><stop offset=".772" stop-color="#fed799"/><stop offset=".783" stop-color="#fecf92"/><stop offset=".793" stop-color="#feb078"/><stop offset=".804" stop-color="#f7725c"/><stop offset=".815" stop-color="#dc4869"/><stop offset=".826" stop-color="#cf4070"/><stop offset=".837" stop-color="#df4a68"/><stop offset=".848" stop-color="#f7725c"/><stop offset=".859" stop-color="#fd9b6b"/><stop offset=".87" stop-color="#fea973"/><stop offset=".946" stop-color="#feae77"/><stop offset="1" stop-color="#fec488"/></linearGradient>
<linearGradient id="h111" gradientUnits="userSpaceOnUse" x1="0" x2="0" y1="55.5" y2="147.5"><stop offset="0" stop-color="#fed799"/><stop offset=".467" stop-color="#fed799"/><stop offset=".511" stop-color="#fec185"/><stop offset=".533" stop-color="#fed194"/><stop offset=".554" stop-color="#fed799"/><stop offset=".761" stop-color="#fed799"/><stop offset=".772" stop-color="#fed395"/><stop offset=".783" stop-color="#feb97f"/><stop offset=".793" stop-color="#f97b5d"/><stop offset=".804" stop-color="#de4968"/><stop offset=".815" stop-color="#ca3e72"/><stop offset=".826" stop-color="#d9466b"/><stop offset=".837" stop-color="#f56b5c"/><stop offset=".848" stop-color="#fd9869"/><stop offset=".859" stop-color="#fea571"/><stop offset=".935" stop-color="#feaa74"/><stop offset="1" stop-color="#fec68a"/></linearGradient>
<linearGradient id="h112" gradientUnits="userSpaceOnUse" x1="0" x2="0" y1="55.5" y2="147.5"><stop offset="0" stop-color="#fed597"/><stop offset=".467" stop-color="#fed597"/><stop offset=".511" stop-color="#febf84"/><stop offset=".543" stop-color="#fed597"/><stop offset=".761" stop-color="#fed597"/><stop offset=".772" stop-color="#fec488"/><stop offset=".783" stop-color="#fc8961"/><stop offset=".793" stop-color="#e24d66"/><stop offset=".804" stop-color="#c73d73"/><stop offset=".815" stop-color="#d2426f"/><stop offset=".826" stop-color="#f2645c"/><stop offset=".837" stop-color="#fd9266"/><stop offset=".848" stop-color="#fea16e"/><stop offset=".87" stop-color="#fd9668"/><stop offset=".88" stop-color="#fd9869"/><stop offset=".891" stop-color="#fea16e"/><stop offset=".924" stop-color="#fea973"/><stop offset=".967" stop-color="#febf84"/><stop offset="1" stop-color="#fec88c"/></linearGradient>
<linearGradient id="h113" gradientUnits="userSpaceOnUse" x1="0" x2="0" y1="55.5" y2="147.5"><stop offset="0" stop-color="#fed597"/><stop offset=".467" stop-color="#fed597"/><stop offset=".511" stop-color="#febf84"/><stop offset=".533" stop-color="#fecf92"/><stop offset=".554" stop-color="#fed597"/><stop offset=".75" stop-color="#fed597"/><stop offset=".761" stop-color="#fecc8f"/><stop offset=".772" stop-color="#fe9d6c"/><stop offset=".783" stop-color="#ea5661"/><stop offset=".793" stop-color="#c73d73"/><stop offset=".804" stop-color="#c83e73"/><stop offset=".815" stop-color="#ec5860"/><stop offset=".826" stop-color="#fc8c63"/><stop offset=".837" stop-color="#fe9d6c"/><stop offset=".848" stop-color="#fd9869"/><stop offset=".859" stop-color="#fb8761"/><stop offset=".87" stop-color="#fb8761"/><stop offset=".88" stop-color="#fd9a6a"/><stop offset=".891" stop-color="#fea16e"/><stop offset=".913" stop-color="#fea772"/><stop offset=".957" stop-color="#febf84"/><stop offset="1" stop-color="#feca8d"/></linearGradient>
<linearGradient id="h114" gradientUnits="userSpaceOnUse" x1="0" x2="0" y1="55.5" y2="147.5"><stop offset="0" stop-color="#fed597"/><stop offset=".457" stop-color="#fed597"/><stop offset=".478" stop-color="#fed194"/><stop offset=".511" stop-color="#febd82"/><stop offset=".533" stop-color="#fecf92"/><stop offset=".565" stop-color="#fed597"/><stop offset=".728" stop-color="#fed597"/><stop offset=".75" stop-color="#fed194"/><stop offset=".761" stop-color="#feb67c"/><stop offset=".772" stop-color="#f66c5c"/><stop offset=".783" stop-color="#cd4071"/><stop offset=".793" stop-color="#c23b75"/><stop offset=".804" stop-color="#e04c67"/><stop offset=".815" stop-color="#fb835f"/><stop offset=".826" stop-color="#fd9b6b"/><stop offset=".837" stop-color="#fd9668"/><stop offset=".848" stop-color="#f97b5d"/><stop offset=".859" stop-color="#f7725c"/><stop offset=".87" stop-color="#fd9266"/><stop offset=".88" stop-color="#fe9f6d"/><stop offset=".946" stop-color="#febf84"/><stop offset="1" stop-color="#fecc8f"/></linearGradient>
<linearGradient id="h115" gradientUnits="userSpaceOnUse" x1="0" x2="0" y1="55.5" y2="147.5"><stop offset="0" stop-color="#fed395"/><stop offset=".467" stop-color="#fed395"/><stop offset=".489" stop-color="#fecc8f"/><stop offset=".511" stop-color="#febd82"/><stop offset=".543" stop-color="#fed395"/><stop offset=".739" stop-color="#fed395"/><stop offset=".75" stop-color="#fec68a"/><stop offset=".761" stop-color="#fc8c63"/><stop offset=".772" stop-color="#dc4869"/><stop offset=".783" stop-color="#bf3a77"/><stop offset=".793" stop-color="#d0416f"/><stop offset=".804" stop-color="#f56b5c"/><stop offset=".815" stop-color="#fd9668"/><stop offset=".826" stop-color="#fd9a6a"/><stop offset=".837" stop-color="#fa7f5e"/><stop offset=".848" stop-color="#f1605d"/><stop offset=".859" stop-color="#f9795d"/><stop offset=".87" stop-color="#fd9a6a"/><stop offset=".924" stop-color="#feb97f"/><stop offset="1" stop-color="#fecc8f"/></linearGradient>
<linearGradient id="h116" gradientUnits="userSpaceOnUse" x1="0" x2="0" y1="55.5" y2="147.5"><stop offset="0" stop-color="#fed395"/><stop offset=".467" stop-color="#fed395"/><stop offset=".489" stop-color="#fecc8f"/><stop offset=".511" stop-color="#febd82"/><stop offset=".543" stop-color="#fed395"/><stop offset=".728" stop-color="#fed395"/><stop offset=".739" stop-color="#fecf92"/><stop offset=".75" stop-color="#feac76"/><stop offset=".761" stop-color="#ef5d5e"/><stop offset=".772" stop-color="#c43c75"/><stop offset=".783" stop-color="#c23b75"/><stop offset=".793" stop-color="#e95462"/><stop offset=".804" stop-color="#fc8c63"/><stop offset=".815" stop-color="#fd9b6b"/><stop offset=".826" stop-color="#fc8a62"/><stop offset=".837" stop-color="#ef5d5e"/><stop offset=".848" stop-color="#f1605d"/><stop offset=".859" stop-color="#fc8e64"/><stop offset=".87" stop-color="#fe9f6d"/><stop offset=".935" stop-color="#fec185"/><stop offset="1" stop-color="#fecd90"/></linearGradient>
<linearGradient id="h117" gradientUnits="userSpaceOnUse" x1="0" x2="0" y1="55.5" y2="147.5"><stop offset="0" stop-color="#fed395"/><stop offset=".467" stop-color="#fed395"/><stop offset=".489" stop-color="#fecc8f"/><stop offset=".511" stop-color="#febd82"/><stop offset=".543" stop-color="#fed395"/><stop offset=".728" stop-color="#fed395"/><stop offset=".739" stop-color="#fec287"/><stop offset=".75" stop-color="#fb835f"/><stop offset=".761" stop-color="#d5446d"/><stop offset=".772" stop-color="#bc3978"/><stop offset=".783" stop-color="#d5446d"/><stop offset=".793" stop-color="#f9785d"/><stop offset=".804" stop-color="#fd9a6a"/><stop offset=".815" stop-color="#fd9668"/><stop offset=".826" stop-color="#f4695c"/><stop offset=".837" stop-color="#e75263"/><stop offset=".848" stop-color="#f9795d"/><stop offset=".859" stop-color="#fd9a6a"/><stop offset=".924" stop-color="#febf84"/><stop offset="1" stop-color="#fecd90"/></linearGradient>
<linearGradient id="h118" gradientUnits="userSpaceOnUse" x1="0" x2="0" y1="55.5" y2="147.5"><stop offset="0" stop-color="#fed395"/><stop offset=".467" stop-color="#fed395"/><stop offset=".489" stop-color="#fecc8f"/><stop offset=".511" stop-color="#febd82"/><stop offset=".543" stop-color="#fed395"/><stop offset=".717" stop-color="#fed395"/><stop offset=".728" stop-color="#fecd90"/><stop offset=".739" stop-color="#feaa74"/><stop offset=".75" stop-color="#ed5a5f"/><stop offset=".761" stop-color="#c23b75"/><stop offset=".772" stop-color="#c43c75"/><stop offset=".783" stop-color="#ed5a5f"/><stop offset=".793" stop-color="#fc9065"/><stop offset=".804" stop-color="#fe9d6c"/><stop offset=".815" stop-color="#fc8961"/><stop offset=".826" stop-color="#ea5661"/><stop offset=".837" stop-color="#f2625d"/><stop offset=".848" stop-color="#fd9266"/><stop offset=".859" stop-color="#fea16e"/><stop offset=".913" stop-color="#febf84"/><stop offset="1" stop-color="#fecf92"/></linearGradient>
<linearGradient id="h119" gradientUnits="userSpaceOnUse" x1="0" x2="0" y1="55.5" y2="147.5"><stop offset="0" stop-color="#fed395"/><stop offset=".467" stop-color="#fed395"/><stop offset=".478" stop-color="#fed194"/><stop offset=".511" stop-color="#febd82"/><stop offset=".533" stop-color="#fecd90"/><stop offset=".554" stop-color="#fed395"/><stop offset=".717" stop-color="#fed395"/><stop offset=".728" stop-color="#fec88c"/><stop offset=".739" stop-color="#fc9065"/><stop offset=".75" stop-color="#e44f64"/><stop offset=".761" stop-color="#cf4070"/><stop offset=".772" stop-color="#e44f64"/><stop offset=".783" stop-color="#fb8761"/><stop offset=".793" stop-color="#fea16e"/><stop offset=".804" stop-color="#fe9d6c"/><stop offset=".815" stop-color="#f9785d"/><stop offset=".826" stop-color="#f1605d"/><stop offset=".837" stop-color="#fc8961"/><stop offset=".848" stop-color="#fea16e"/><stop offset=".902" stop-color="#febf84"/><stop offset=".957" stop-color="#fecc8f"/><stop offset="1" stop-color="#fecf92"/></linearGradient>
<linearGradient id="h120" gradientUnits="userSpaceOnUse" x1="0" x2="0" y1="55.5" y2="147.5"><stop offset="0" stop-color="#fed194"/><stop offset=".467" stop-color="#fed194"/><stop offset=".489" stop-color="#feca8d"/><stop offset=".511" stop-color="#febb81"/><stop offset=".543" stop-color="#fed194"/><stop offset=".707" stop-color="#fed194"/><stop offset=".717" stop-color="#fecf92"/><stop offset=".728" stop-color="#febb81"/><stop offset=".739" stop-color="#f9795d"/><stop offset=".75" stop-color="#e44f64"/><stop offset=".761" stop-color="#e44f64"/><stop offset=".772" stop-color="#f9785d"/><stop offset=".783" stop-color="#fe9f6d"/><stop offset=".793" stop-color="#fea772"/><stop offset=".804" stop-color="#fd9869"/><stop offset=".815" stop-color="#f8745c"/><stop offset=".826" stop-color="#fa7f5e"/><stop offset=".837" stop-color="#fe9f6d"/><stop offset=".848" stop-color="#fea973"/><stop offset=".891" stop-color="#febf84"/><stop offset="1" stop-color="#fecf92"/></linearGradient>
<linearGradient id="h121" gradientUnits="userSpaceOnUse" x1="0" x2="0" y1="55.5" y2="147.5"><stop offset="0" stop-color="#fed194"/><stop offset=".467" stop-color="#fed194"/><stop offset=".511" stop-color="#febb81"/><stop offset=".533" stop-color="#fecc8f"/><stop offset=".554" stop-color="#fed194"/><stop offset=".707" stop-color="#fed194"/><stop offset=".717" stop-color="#fec488"/><stop offset=".728" stop-color="#fc8a62"/><stop offset=".739" stop-color="#d9466b"/><stop offset=".75" stop-color="#bf3a77"/><stop offset=".761" stop-color="#d8456c"/><stop offset=".772" stop-color="#fa7f5e"/><stop offset=".783" stop-color="#fd9b6b"/><stop offset=".793" stop-color="#fd9869"/><stop offset=".804" stop-color="#f66e5c"/><stop offset=".815" stop-color="#eb5760"/><stop offset=".826" stop-color="#fb835f"/><stop offset=".837" stop-color="#fd9b6b"/><stop offset=".87" stop-color="#feb27a"/><stop offset=".924" stop-color="#fec68a"/><stop offset="1" stop-color="#fecd90"/></linearGradient>
<linearGradient id="h122" gradientUnits="userSpaceOnUse" x1="0" x2="0" y1="55.5" y2="147.5"><stop offset="0" stop-color="#fed194"/><stop offset=".467" stop-color="#fed194"/><stop offset=".511" stop-color="#febb81"/><stop offset=".533" stop-color="#fecc8f"/><stop offset=".554" stop-color="#fed194"/><stop offset=".696" stop-color="#fed194"/><stop offset=".707" stop-color="#fecd90"/><stop offset=".717" stop-color="#feb47b"/><stop offset=".728" stop-color="#f1605d"/><stop offset=".739" stop-color="#bd3977"/><stop offset=".75" stop-color="#b83779"/><stop offset=".761" stop-color="#e55064"/><stop offset=".772" stop-color="#fc8c63"/><stop offset=".783" stop-color="#fd9b6b"/><stop offset=".793" stop-color="#fc8a62"/><stop offset=".804" stop-color="#eb5760"/><stop offset=".815" stop-color="#ed5a5f"/><stop offset=".826" stop-color="#fc8c63"/><stop offset=".837" stop-color="#fe9d6c"/><stop offset=".859" stop-color="#feac76"/><stop offset=".913" stop-color="#fec488"/><stop offset="1" stop-color="#fecd90"/></linearGradient>
<linearGradient id="h123" gradientUnits="userSpaceOnUse" x1="0" x2="0" y1="55.5" y2="147.5"><stop offset="0" stop-color="#fed194"/><stop offset=".467" stop-color="#fed194"/><stop offset=".511" stop-color="#febb81"/><stop offset=".533" stop-color="#fecc8f"/><stop offset=".554" stop-color="#fed194"/><stop offset=".696" stop-color="#fed194"/><stop offset=".707" stop-color="#fec88c"/><stop offset=".717" stop-color="#fd9467"/><stop offset=".728" stop-color="#d9466b"/><stop offset=".739" stop-color="#b2357b"/><stop offset=".75" stop-color="#c53c74"/><stop offset=".761" stop-color="#f66c5c"/><stop offset=".772" stop-color="#fd9668"/><stop offset=".783" stop-color="#fd9869"/><stop offset=".793" stop-color="#f8765c"/><stop offset=".804" stop-color="#e55064"/><stop offset=".815" stop-color="#f7725c"/><stop offset=".826" stop-color="#fd9668"/><stop offset=".848" stop-color="#fea973"/><stop offset=".88" stop-color="#febb81"/><stop offset=".924" stop-color="#fec88c"/><stop offset="1" stop-color="#fecf92"/></linearGradient>
<linearGradient id="h124" gradientUnits="userSpaceOnUse" x1="0" x2="0" y1="55.5" y2="147.5"><stop offset="0" stop-color="#fed194"/><stop offset=".467" stop-color="#fed194"/><stop offset=".478" stop-color="#fecf92"/><stop offset=".511" stop-color="#feb97f"/><stop offset=".533" stop-color="#fecc8f"/><stop offset=".554" stop-color="#fed194"/><stop offset=".696" stop-color="#fecf92"/><stop offset=".707" stop-color="#febd82"/><stop offset=".717" stop-color="#f7705c"/><stop offset=".728" stop-color="#c03a76"/><stop offset=".739" stop-color="#b2357b"/><stop offset=".75" stop-color="#db476a"/><stop offset=".761" stop-color="#fb8761"/><stop offset=".772" stop-color="#fd9b6b"/><stop offset=".783" stop-color="#fc9065"/><stop offset=".793" stop-color="#ef5d5e"/><stop offset=".804" stop-color="#e95462"/><stop offset=".815" stop-color="#fc8961"/><stop offset=".826" stop-color="#fd9b6b"/><stop offset=".859" stop-color="#feb27a"/><stop offset=".913" stop-color="#fec68a"/><stop offset="1" stop-color="#fecf92"/></linearGradient>
<linearGradient id="h125" gradientUnits="userSpaceOnUse" x1="0" x2="0" y1="55.5" y2="147.5"><stop offset="0" stop-color="#fecf92"/><stop offset=".467" stop-color="#fecf92"/><stop offset=".489" stop-color="#fec88c"/><stop offset=".511" stop-color="#feb97f"/><stop offset=".533" stop-color="#fecc8f"/><stop offset=".543" stop-color="#fecf92"/><stop offset=".685" stop-color="#fecf92"/><stop offset=".696" stop-color="#fecc8f"/><stop offset=".707" stop-color="#fea772"/><stop offset=".717" stop-color="#e55064"/><stop offset=".728" stop-color="#b2357b"/><stop offset=".739" stop-color="#ba3878"/><stop offset=".75" stop-color="#ee5b5e"/><stop offset=".761" stop-color="#fd9266"/><stop offset=".772" stop-color="#fd9a6a"/><stop offset=".783" stop-color="#fb8761"/><stop offset=".793" stop-color="#e85362"/><stop offset=".804" stop-color="#f2645c"/><stop offset=".815" stop-color="#fd9266"/><stop offset=".826" stop-color="#fe9f6d"/><stop offset=".848" stop-color="#feae77"/><stop offset=".902" stop-color="#fec488"/><stop offset="1" stop-color="#fecd90"/></linearGradient>
<linearGradient id="h126" gradientUnits="userSpaceOnUse" x1="0" x2="0" y1="55.5" y2="147.5"><stop offset="0" stop-color="#fed194"/><stop offset=".467" stop-color="#fed194"/><stop offset=".511" stop-color="#febb81"/><stop offset=".533" stop-color="#fecc8f"/><stop offset=".554" stop-color="#fed194"/><stop offset=".685" stop-color="#fed194"/><stop offset=".696" stop-color="#fec68a"/><stop offset=".707" stop-color="#fb8761"/><stop offset=".717" stop-color="#cd4071"/><stop offset=".728" stop-color="#ad347c"/><stop offset=".739" stop-color="#ca3e72"/><stop offset=".75" stop-color="#f9795d"/><stop offset=".761" stop-color="#fd9a6a"/><stop offset=".772" stop-color="#fd9668"/><stop offset=".783" stop-color="#f66e5c"/><stop offset=".793" stop-color="#e55064"/><stop offset=".804" stop-color="#f97b5d"/><stop offset=".815" stop-color="#fd9a6a"/><stop offset=".848" stop-color="#feb27a"/><stop offset=".902" stop-color="#fec68a"/><stop offset="1" stop-color="#fecf92"/></linearGradient>
<linearGradient id="h127" gradientUnits="userSpaceOnUse" x1="0" x2="0" y1="55.5" y2="147.5"><stop offset="0" stop-color="#fed395"/><stop offset=".457" stop-color="#fed395"/><stop offset=".478" stop-color="#fecf92"/><stop offset=".511" stop-color="#febb81"/><stop offset=".533" stop-color="#fecd90"/><stop offset=".554" stop-color="#fed395"/><stop offset=".685" stop-color="#fed194"/><stop offset=".696" stop-color="#febd82"/><stop offset=".707" stop-color="#f4675c"/><stop offset=".717" stop-color="#ba3878"/><stop offset=".728" stop-color="#ae347b"/><stop offset=".739" stop-color="#df4a68"/><stop offset=".75" stop-color="#fc8c63"/><stop offset=".761" stop-color="#fe9d6c"/><stop offset=".772" stop-color="#fd9266"/><stop offset=".783" stop-color="#ef5d5e"/><stop offset=".793" stop-color="#eb5760"/><stop offset=".804" stop-color="#fc8c63"/><stop offset=".815" stop-color="#fe9f6d"/><stop offset=".848" stop-color="#feb67c"/><stop offset=".924" stop-color="#fecc8f"/><stop offset="1" stop-color="#fed194"/></linearGradient>
<linearGradient id="h128" gradientUnits="userSpaceOnUse" x1="0" x2="0" y1="55.5" y2="147.5"><stop offset="0" stop-color="#fed395"/><stop offset=".467" stop-color="#fed395"/><stop offset=".489" stop-color="#fecc8f"/><stop offset=".511" stop-color="#febd82"/><stop offset=".543" stop-color="#fed395"/><stop offset=".674" stop-color="#fed395"/><stop offset=".685" stop-color="#fecf92"/><stop offset=".696" stop-color="#feb27a"/><stop offset=".707" stop-color="#f2625d"/><stop offset=".717" stop-color="#ca3e72"/><stop offset=".728" stop-color="#d0416f"/><stop offset=".739" stop-color="#f66c5c"/><stop offset=".75" stop-color="#fe9d6c"/><stop offset=".761" stop-color="#fea772"/><stop offset=".772" stop-color="#fd9869"/><stop offset=".783" stop-color="#f3655c"/><stop offset=".793" stop-color="#f7725c"/><stop offset=".804" stop-color="#fe9d6c"/><stop offset=".815" stop-color="#fea973"/><stop offset=".826" stop-color="#feac76"/><stop offset=".848" stop-color="#febd82"/><stop offset=".902" stop-color="#fecc8f"/><stop offset="1" stop-color="#fed194"/></linearGradient>
<linearGradient id="h129" gradientUnits="userSpaceOnUse" x1="0" x2="0" y1="55.5" y2="147.5"><stop offset="0" stop-color="#fed395"/><stop offset=".467" stop-color="#fed395"/><stop offset=".489" stop-color="#fecc8f"/><stop offset=".511" stop-color="#febd82"/><stop offset=".543" stop-color="#fed395"/><stop offset=".674" stop-color="#fed395"/><stop offset=".685" stop-color="#fecf92"/><stop offset=".696" stop-color="#feb97f"/><stop offset=".707" stop-color="#fd9266"/><stop offset=".717" stop-color="#fa815f"/><stop offset=".728" stop-color="#fc9065"/><stop offset=".739" stop-color="#feac76"/><stop offset=".75" stop-color="#feb77e"/><stop offset=".761" stop-color="#feb77e"/><stop offset=".783" stop-color="#fea16e"/><stop offset=".804" stop-color="#feb77e"/><stop offset=".848" stop-color="#fec88c"/><stop offset="1" stop-color="#fed395"/></linearGradient>
<linearGradient id="h130" gradientUnits="userSpaceOnUse" x1="0" x2="0" y1="55.5" y2="147.5"><stop offset="0" stop-color="#fed395"/><stop offset=".467" stop-color="#fed395"/><stop offset=".489" stop-color="#fecc8f"/><stop offset=".511" stop-color="#febd82"/><stop offset=".543" stop-color="#fed395"/><stop offset=".674" stop-color="#fed395"/><stop offset=".685" stop-color="#fec287"/><stop offset=".696" stop-color="#f97b5d"/><stop offset=".707" stop-color="#d6456c"/><stop offset=".717" stop-color="#d0416f"/><stop offset=".728" stop-color="#f2625d"/><stop offset=".739" stop-color="#fd9b6b"/><stop offset=".75" stop-color="#fea973"/><stop offset=".761" stop-color="#fe9f6d"/><stop offset=".772" stop-color="#f8765c"/><stop offset=".783" stop-color="#f66c5c"/><stop offset=".793" stop-color="#fd9b6b"/><stop offset=".804" stop-color="#fea772"/><stop offset=".815" stop-color="#fea36f"/><stop offset=".826" stop-color="#feb27a"/><stop offset=".848" stop-color="#fec185"/><stop offset=".891" stop-color="#fecc8f"/><stop offset="1" stop-color="#fed395"/></linearGradient>
<linearGradient id="h131" gradientUnits="userSpaceOnUse" x1="0" x2="0" y1="55.5" y2="147.5"><stop offset="0" stop-color="#fed395"/><stop offset=".467" stop-color="#fed395"/><stop offset=".478" stop-color="#fed194"/><stop offset=".511" stop-color="#febd82"/><stop offset=".533" stop-color="#fecd90"/><stop offset=".554" stop-color="#fed395"/><stop offset=".663" stop-color="#fed395"/><stop offset=".674" stop-color="#fecd90"/><stop offset=".685" stop-color="#feaa74"/><stop offset=".696" stop-color="#e44f64"/><stop offset=".707" stop-color="#ad347c"/><stop offset=".717" stop-color="#b5367a"/><stop offset=".728" stop-color="#ee5b5e"/><stop offset=".739" stop-color="#fd9467"/><stop offset=".75" stop-color="#fe9f6d"/><stop offset=".761" stop-color="#fc8e64"/><stop offset=".772" stop-color="#eb5760"/><stop offset=".783" stop-color="#f05f5e"/><stop offset=".793" stop-color="#fd9266"/><stop offset=".804" stop-color="#fe9d6c"/><stop offset=".815" stop-color="#fd9266"/><stop offset=".826" stop-color="#feac76"/><stop offset=".848" stop-color="#febf84"/><stop offset=".902" stop-color="#fecc8f"/><stop offset="1" stop-color="#fed194"/></linearGradient>
<linearGradient id="h132" gradientUnits="userSpaceOnUse" x1="0" x2="0" y1="55.5" y2="147.5"><stop offset="0" stop-color="#fed194"/><stop offset=".467" stop-color="#fed194"/><stop offset=".489" stop-color="#feca8d"/><stop offset=".511" stop-color="#febb81"/><stop offset=".543" stop-color="#fed194"/><stop offset=".663" stop-color="#fed194"/><stop offset=".674" stop-color="#fec88c"/><stop offset=".685" stop-color="#fc8e64"/><stop offset=".696" stop-color="#cd4071"/><stop offset=".707" stop-color="#a5317e"/><stop offset=".717" stop-color="#c03a76"/><stop offset=".728" stop-color="#f8745c"/><stop offset=".739" stop-color="#fd9869"/><stop offset=".75" stop-color="#fd9b6b"/><stop offset=".761" stop-color="#fa815f"/><stop offset=".772" stop-color="#e55064"/><stop offset=".783" stop-color="#f66c5c"/><stop offset=".793" stop-color="#fd9668"/><stop offset=".804" stop-color="#fd9b6b"/><stop offset=".815" stop-color="#fd9266"/><stop offset=".826" stop-color="#feac76"/><stop offset=".837" stop-color="#feb97f"/><stop offset=".902" stop-color="#fecc8f"/><stop offset="1" stop-color="#fed194"/></linearGradient>
<linearGradient id="h133" gradientUnits="userSpaceOnUse" x1="0" x2="0" y1="55.5" y2="147.5"><stop offset="0" stop-color="#fed194"/><stop offset=".467" stop-color="#fed194"/><stop offset=".511" stop-color="#febb81"/><stop offset=".533" stop-color="#fecc8f"/><stop offset=".554" stop-color="#fed194"/><stop offset=".663" stop-color="#fed194"/><stop offset=".674" stop-color="#fec185"/><stop offset=".685" stop-color="#f7725c"/><stop offset=".696" stop-color="#ba3878"/><stop offset=".707" stop-color="#a5317e"/><stop offset=".717" stop-color="#d2426f"/><stop offset=".728" stop-color="#fb8761"/><stop offset=".739" stop-color="#fd9b6b"/><stop offset=".75" stop-color="#fd9668"/><stop offset=".761" stop-color="#f66e5c"/><stop offset=".772" stop-color="#e55064"/><stop offset=".783" stop-color="#fa815f"/><stop offset=".793" stop-color="#fd9a6a"/><stop offset=".804" stop-color="#fd9668"/><stop offset=".815" stop-color="#fd9b6b"/><stop offset=".826" stop-color="#feb078"/><stop offset=".837" stop-color="#febb81"/><stop offset=".902" stop-color="#fecc8f"/><stop offset="1" stop-color="#fecf92"/></linearGradient>
<linearGradient id="h134" gradientUnits="userSpaceOnUse" x1="0" x2="0" y1="55.5" y2="147.5"><stop offset="0" stop-color="#fed194"/><stop offset=".467" stop-color="#fed194"/><stop offset=".489" stop-color="#feca8d"/><stop offset=".511" stop-color="#febb81"/><stop offset=".543" stop-color="#fed194"/><stop offset=".663" stop-color="#fecf92"/><stop offset=".674" stop-color="#feb67c"/><stop offset=".685" stop-color="#ec5860"/><stop offset=".696" stop-color="#ab337c"/><stop offset=".707" stop-color="#aa337d"/><stop offset=".717" stop-color="#e44f64"/><stop offset=".728" stop-color="#fc9065"/><stop offset=".739" stop-color="#fe9d6c"/><stop offset=".75" stop-color="#fd9266"/><stop offset=".761" stop-color="#f05f5e"/><stop offset=".772" stop-color="#e95462"/><stop offset=".783" stop-color="#fc8c63"/><stop offset=".793" stop-color="#fd9b6b"/><stop offset=".804" stop-color="#fc9065"/><stop offset=".815" stop-color="#fea772"/><stop offset=".826" stop-color="#feb67c"/><stop offset=".837" stop-color="#febd82"/><stop offset=".891" stop-color="#fecc8f"/><stop offset="1" stop-color="#fed194"/></linearGradient>
<linearGradient id="h135" gradientUnits="userSpaceOnUse" x1="0" x2="0" y1="55.5" y2="147.5"><stop offset="0" stop-color="#fed395"/><stop offset=".467" stop-color="#fed395"/><stop offset=".489" stop-color="#fecc8f"/><stop offset=".511" stop-color="#febd82"/><stop offset=".543" stop-color="#fed395"/><stop offset=".652" stop-color="#fed395"/><stop offset=".663" stop-color="#fecd90"/><stop offset=".674" stop-color="#fea16e"/><stop offset=".685" stop-color="#d9466b"/><stop offset=".696" stop-color="#a5317e"/><stop offset=".707" stop-color="#b3367a"/><stop offset=".717" stop-color="#f2625d"/><stop offset=".728" stop-color="#fd9668"/><stop offset=".739" stop-color="#fe9f6d"/><stop offset=".75" stop-color="#fc8e64"/><stop offset=".761" stop-color="#ea5661"/><stop offset=".772" stop-color="#ef5d5e"/><stop offset=".783" stop-color="#fd9467"/><stop offset=".793" stop-color="#fe9d6c"/><stop offset=".804" stop-color="#fc8e64"/><stop offset=".815" stop-color="#feac76"/><stop offset=".826" stop-color="#febb81"/><stop offset=".88" stop-color="#fecc8f"/><stop offset="1" stop-color="#fed395"/></linearGradient>
<linearGradient id="h136" gradientUnits="userSpaceOnUse" x1="0" x2="0" y1="55.5" y2="147.5"><stop offset="0" stop-color="#fed395"/><stop offset=".467" stop-color="#fed395"/><stop offset=".489" stop-color="#fecc8f"/><stop offset=".511" stop-color="#febd82"/><stop offset=".543" stop-color="#fed395"/><stop offset=".63" stop-color="#fed194"/><stop offset=".652" stop-color="#feb078"/><stop offset=".663" stop-color="#fea571"/><stop offset=".674" stop-color="#fa7f5e"/><stop offset=".685" stop-color="#d8456c"/><stop offset=".696" stop-color="#b83779"/><stop offset=".707" stop-color="#d0416f"/><stop offset=".717" stop-color="#f7725c"/><stop offset=".728" stop-color="#fc8e64"/><stop offset=".739" stop-color="#fd9b6b"/><stop offset=".75" stop-color="#fc8c63"/><stop offset=".761" stop-color="#ed5a5f"/><stop offset=".772" stop-color="#f8745c"/><stop offset=".783" stop-color="#fe9d6c"/><stop offset=".793" stop-color="#fea571"/><stop offset=".804" stop-color="#fd9a6a"/><stop offset=".815" stop-color="#feb47b"/><stop offset=".826" stop-color="#febf84"/><stop offset=".902" stop-color="#fecf92"/><stop offset="1" stop-color="#fed395"/></linearGradient>
<linearGradient id="h137" gradientUnits="userSpaceOnUse" x1="0" x2="0" y1="55.5" y2="147.5"><stop offset="0" stop-color="#fed395"/><stop offset=".467" stop-color="#fed395"/><stop offset=".478" stop-color="#fed194"/><stop offset=".511" stop-color="#febd82"/><stop offset=".543" stop-color="#fed194"/><stop offset=".62" stop-color="#fed395"/><stop offset=".63" stop-color="#fec185"/><stop offset=".641" stop-color="#f66c5c"/><stop offset=".652" stop-color="#bf3a77"/><stop offset=".663" stop-color="#b3367a"/><stop offset=".674" stop-color="#df4a68"/><stop offset=".685" stop-color="#f9795d"/><stop offset=".696" stop-color="#fa815f"/><stop offset=".707" stop-color="#fa7f5e"/><stop offset=".717" stop-color="#f3655c"/><stop offset=".728" stop-color="#f05f5e"/><stop offset=".739" stop-color="#fc9065"/><stop offset=".75" stop-color="#fd9869"/><stop offset=".761" stop-color="#fb8560"/><stop offset=".772" stop-color="#fea16e"/><stop offset=".783" stop-color="#feb47b"/><stop offset=".848" stop-color="#fecc8f"/><stop offset="1" stop-color="#fed395"/></linearGradient>
<linearGradient id="h138" gradientUnits="userSpaceOnUse" x1="0" x2="0" y1="55.5" y2="147.5"><stop offset="0" stop-color="#fed194"/><stop offset=".467" stop-color="#fed194"/><stop offset=".489" stop-color="#feca8d"/><stop offset=".511" stop-color="#febb81"/><stop offset=".543" stop-color="#fed194"/><stop offset=".62" stop-color="#fed194"/><stop offset=".63" stop-color="#feb77e"/><stop offset=".641" stop-color="#e44f64"/><stop offset=".652" stop-color="#912b81"/><stop offset=".663" stop-color="#8c2981"/><stop offset=".674" stop-color="#d5446d"/><stop offset=".685" stop-color="#fc8a62"/><stop offset=".696" stop-color="#fe9d6c"/><stop offset=".707" stop-color="#fc9065"/><stop offset=".717" stop-color="#ef5d5e"/><stop offset=".728" stop-color="#ea5661"/><stop offset=".739" stop-color="#fc8e64"/><stop offset=".75" stop-color="#fd9b6b"/><stop offset=".761" stop-color="#fc8e64"/><stop offset=".772" stop-color="#feac76"/><stop offset=".783" stop-color="#feb97f"/><stop offset=".848" stop-color="#fecc8f"/><stop offset="1" stop-color="#fed194"/></linearGradient>
<linearGradient id="h139" gradientUnits="userSpaceOnUse" x1="0" x2="0" y1="55.5" y2="147.5"><stop offset="0" stop-color="#fed194"/><stop offset=".467" stop-color="#fed194"/><stop offset=".511" stop-color="#febb81"/><stop offset=".533" stop-color="#fecc8f"/><stop offset=".543" stop-color="#fecf92"/><stop offset=".62" stop-color="#fecf92"/><stop offset=".63" stop-color="#feb078"/><stop offset=".641" stop-color="#db476a"/><stop offset=".652" stop-color="#8b2981"/><stop offset=".663" stop-color="#8e2a81"/><stop offset=".674" stop-color="#db476a"/><stop offset=".685" stop-color="#fc8c63"/><stop offset=".696" stop-color="#fd9b6b"/><stop offset=".707" stop-color="#fc8e64"/><stop offset=".717" stop-color="#ec5860"/><stop offset=".728" stop-color="#ec5860"/><stop offset=".739" stop-color="#fc9065"/><stop offset=".75" stop-color="#fd9b6b"/><stop offset=".761" stop-color="#fc8c63"/><stop offset=".772" stop-color="#feac76"/><stop offset=".783" stop-color="#feb97f"/><stop offset=".837" stop-color="#feca8d"/><stop offset="1" stop-color="#fed194"/></linearGradient>
<linearGradient id="h140" gradientUnits="userSpaceOnUse" x1="0" x2="0" y1="55.5" y2="147.5"><stop offset="0" stop-color="#fed194"/><stop offset=".467" stop-color="#fed194"/><stop offset=".511" stop-color="#febb81"/><stop offset=".533" stop-color="#fecc8f"/><stop offset=".543" stop-color="#fecf92"/><stop offset=".609" stop-color="#fed194"/><stop offset=".62" stop-color="#fecd90"/><stop offset=".63" stop-color="#fea772"/><stop offset=".641" stop-color="#d2426f"/><stop offset=".652" stop-color="#882781"/><stop offset=".663" stop-color="#912b81"/><stop offset=".674" stop-color="#e34e65"/><stop offset=".685" stop-color="#fc8e64"/><stop offset=".696" stop-color="#fd9b6b"/><stop offset=".707" stop-color="#fc8c63"/><stop offset=".717" stop-color="#ea5661"/><stop offset=".728" stop-color="#ef5d5e"/><stop offset=".739" stop-color="#fc9065"/><stop offset=".75" stop-color="#fd9b6b"/><stop offset=".761" stop-color="#fc8e64"/><stop offset=".772" stop-color="#feac76"/><stop offset=".783" stop-color="#feb97f"/><stop offset=".837" stop-color="#feca8d"/><stop offset="1" stop-color="#fed194"/></linearGradient>
<linearGradient id="h141" gradientUnits="userSpaceOnUse" x1="0" x2="0" y1="55.5" y2="147.5"><stop offset="0" stop-color="#fecf92"/><stop offset=".467" stop-color="#fecf92"/><stop offset=".489" stop-color="#fec88c"/><stop offset=".511" stop-color="#feb97f"/><stop offset=".533" stop-color="#fecc8f"/><stop offset=".543" stop-color="#fecf92"/><stop offset=".609" stop-color="#fecf92"/><stop offset=".62" stop-color="#fecc8f"/><stop offset=".63" stop-color="#fe9f6d"/><stop offset=".641" stop-color="#ca3e72"/><stop offset=".652" stop-color="#862781"/><stop offset=".663" stop-color="#962c80"/><stop offset=".674" stop-color="#e85362"/><stop offset=".685" stop-color="#fc9065"/><stop offset=".696" stop-color="#fd9b6b"/><stop offset=".707" stop-color="#fc8a62"/><stop offset=".717" stop-color="#e85362"/><stop offset=".728" stop-color="#f2625d"/><stop offset=".739" stop-color="#fd9266"/><stop offset=".75" stop-color="#fd9b6b"/><stop offset=".761" stop-color="#fc9065"/><stop offset=".772" stop-color="#feac76"/><stop offset=".783" stop-color="#feb97f"/><stop offset=".859" stop-color="#fecc8f"/><stop offset="1" stop-color="#fecf92"/></linearGradient>
<linearGradient id="h142" gradientUnits="userSpaceOnUse" x1="0" x2="0" y1="55.5" y2="147.5"><stop offset="0" stop-color="#fecf92"/><stop offset=".467" stop-color="#fecf92"/><stop offset=".511" stop-color="#feb97f"/><stop offset=".533" stop-color="#feca8d"/><stop offset=".543" stop-color="#fecd90"/><stop offset=".609" stop-color="#fecf92"/><stop offset=".62" stop-color="#feca8d"/><stop offset=".63" stop-color="#fd9869"/><stop offset=".641" stop-color="#c43c75"/><stop offset=".652" stop-color="#842681"/><stop offset=".663" stop-color="#9b2e7f"/><stop offset=".674" stop-color="#ed5a5f"/><stop offset=".685" stop-color="#fd9266"/><stop offset=".696" stop-color="#fd9b6b"/><stop offset=".707" stop-color="#fc8a62"/><stop offset=".717" stop-color="#e75263"/><stop offset=".728" stop-color="#f3655c"/><stop offset=".739" stop-color="#fd9467"/><stop offset=".75" stop-color="#fe9d6c"/><stop offset=".761" stop-color="#fd9266"/><stop offset=".772" stop-color="#feac76"/><stop offset=".783" stop-color="#feb97f"/><stop offset=".848" stop-color="#feca8d"/><stop offset="1" stop-color="#fecf92"/></linearGradient>
<linearGradient id="h143" gradientUnits="userSpaceOnUse" x1="0" x2="0" y1="55.5" y2="147.5"><stop offset="0" stop-color="#fecf92"/><stop offset=".467" stop-color="#fecf92"/><stop offset=".489" stop-color="#fec88c"/><stop offset=".511" stop-color="#feb97f"/><stop offset=".533" stop-color="#feca8d"/><stop offset=".543" stop-color="#fecd90"/><stop offset=".609" stop-color="#fecf92"/><stop offset=".62" stop-color="#fec88c"/><stop offset=".63" stop-color="#fd9266"/><stop offset=".641" stop-color="#bd3977"/><stop offset=".652" stop-color="#842681"/><stop offset=".663" stop-color="#a02f7f"/><stop offset=".674" stop-color="#f1605d"/><stop offset=".685" stop-color="#fd9467"/><stop offset=".696" stop-color="#fd9b6b"/><stop offset=".707" stop-color="#fc8961"/><stop offset=".717" stop-color="#e75263"/><stop offset=".728" stop-color="#f56b5c"/><stop offset=".739" stop-color="#fd9467"/><stop offset=".75" stop-color="#fe9d6c"/><stop offset=".761" stop-color="#fd9467"/><stop offset=".772" stop-color="#feae77"/><stop offset=".783" stop-color="#feb97f"/><stop offset=".848" stop-color="#feca8d"/><stop offset="1" stop-color="#fecf92"/></linearGradient>
<linearGradient id="h144" gradientUnits="userSpaceOnUse" x1="0" x2="0" y1="55.5" y2="147.5"><stop offset="0" stop-color="#fed194"/><stop offset=".457" stop-color="#fed194"/><stop offset=".478" stop-color="#fecd90"/><stop offset=".511" stop-color="#febb81"/><stop offset=".533" stop-color="#fecc8f"/><stop offset=".543" stop-color="#fecf92"/><stop offset=".609" stop-color="#fed194"/><stop offset=".62" stop-color="#fec88c"/><stop offset=".63" stop-color="#fc8a62"/><stop offset=".641" stop-color="#b83779"/><stop offset=".652" stop-color="#832681"/><stop offset=".663" stop-color="#a3307e"/><stop offset=".674" stop-color="#f4675c"/><stop offset=".685" stop-color="#fd9668"/><stop offset=".696" stop-color="#fd9b6b"/><stop offset=".707" stop-color="#fb8560"/><stop offset=".717" stop-color="#e75263"/><stop offset=".728" stop-color="#f7705c"/><stop offset=".739" stop-color="#fd9668"/><stop offset=".75" stop-color="#fe9d6c"/><stop offset=".761" stop-color="#fd9668"/><stop offset=".772" stop-color="#feb078"/><stop offset=".783" stop-color="#febb81"/><stop offset=".837" stop-color="#feca8d"/><stop offset="1" stop-color="#fecf92"/></linearGradient>
<linearGradient id="h145" gradientUnits="userSpaceOnUse" x1="0" x2="0" y1="55.5" y2="147.5"><stop offset="0" stop-color="#fed194"/><stop offset=".467" stop-color="#fed194"/><stop offset=".489" stop-color="#feca8d"/><stop offset=".511" stop-color="#febb81"/><stop offset=".543" stop-color="#fed194"/><stop offset=".609" stop-color="#fed194"/><stop offset=".62" stop-color="#fec68a"/><stop offset=".63" stop-color="#fb835f"/><stop offset=".641" stop-color="#b0357b"/><stop offset=".652" stop-color="#832681"/><stop offset=".663" stop-color="#aa337d"/><stop offset=".674" stop-color="#f7705c"/><stop offset=".685" stop-color="#fd9a6a"/><stop offset=".696" stop-color="#fd9a6a"/><stop offset=".707" stop-color="#fa7f5e"/><stop offset=".717" stop-color="#e55064"/><stop offset=".728" stop-color="#f9785d"/><stop offset=".739" stop-color="#fd9869"/><stop offset=".761" stop-color="#fd9a6a"/><stop offset=".772" stop-color="#feb27a"/><stop offset=".783" stop-color="#febd82"/><stop offset=".837" stop-color="#fecc8f"/><stop offset="1" stop-color="#fed194"/></linearGradient>
<linearGradient id="h146" gradientUnits="userSpaceOnUse" x1="0" x2="0" y1="55.5" y2="147.5"><stop offset="0" stop-color="#fed194"/><stop offset=".467" stop-color="#fed194"/><stop offset=".489" stop-color="#feca8d"/><stop offset=".511" stop-color="#febb81"/><stop offset=".533" stop-color="#fecc8f"/><stop offset=".543" stop-color="#fecf92"/><stop offset=".609" stop-color="#fed194"/><stop offset=".62" stop-color="#fec68a"/><stop offset=".63" stop-color="#fa7d5e"/><stop offset=".641" stop-color="#ad347c"/><stop offset=".652" stop-color="#832681"/><stop offset=".663" stop-color="#ad347c"/><stop offset=".674" stop-color="#f8745c"/><stop offset=".685" stop-color="#fd9a6a"/><stop offset=".696" stop-color="#fd9a6a"/><stop offset=".707" stop-color="#f97b5d"/><stop offset=".717" stop-color="#e55064"/><stop offset=".728" stop-color="#f9795d"/><stop offset=".739" stop-color="#fd9869"/><stop offset=".761" stop-color="#fd9b6b"/><stop offset=".772" stop-color="#feb27a"/><stop offset=".793" stop-color="#fec185"/><stop offset=".859" stop-color="#fecd90"/><stop offset="1" stop-color="#fed194"/></linearGradient>
<linearGradient id="h147" gradientUnits="userSpaceOnUse" x1="0" x2="0" y1="55.5" y2="147.5"><stop offset="0" stop-color="#fed194"/><stop offset=".467" stop-color="#fed194"/><stop offset=".489" stop-color="#feca8d"/><stop offset=".511" stop-color="#febb81"/><stop offset=".543" stop-color="#fed194"/><stop offset=".609" stop-color="#fed194"/><stop offset=".62" stop-color="#fec68a"/><stop offset=".63" stop-color="#fb835f"/><stop offset=".641" stop-color="#b2357b"/><stop offset=".652" stop-color="#832681"/><stop offset=".663" stop-color="#aa337d"/><stop offset=".674" stop-color="#f7705c"/><stop offset=".685" stop-color="#fd9a6a"/><stop offset=".696" stop-color="#fd9a6a"/><stop offset=".707" stop-color="#fa7f5e"/><stop offset=".717" stop-color="#e55064"/><stop offset=".728" stop-color="#f9785d"/><stop offset=".739" stop-color="#fd9869"/><stop offset=".761" stop-color="#fd9a6a"/><stop offset=".772" stop-color="#feb27a"/><stop offset=".783" stop-color="#febd82"/><stop offset=".848" stop-color="#fecc8f"/><stop offset="1" stop-color="#fed194"/></linearGradient>
<linearGradient id="h148" gradientUnits="userSpaceOnUse" x1="0" x2="0" y1="55.5" y2="147.5"><stop offset="0" stop-color="#fed395"/><stop offset=".457" stop-color="#fed395"/><stop offset=".478" stop-color="#fecf92"/><stop offset=".511" stop-color="#febd82"/><stop offset=".543" stop-color="#fed194"/><stop offset=".609" stop-color="#fed395"/><stop offset=".62" stop-color="#feca8d"/><stop offset=".63" stop-color="#fc8e64"/><stop offset=".641" stop-color="#c23b75"/><stop offset=".652" stop-color="#942c80"/><stop offset=".663" stop-color="#b5367a"/><stop offset=".674" stop-color="#f8745c"/><stop offset=".685" stop-color="#fe9d6c"/><stop offset=".696" stop-color="#fe9f6d"/><stop offset=".707" stop-color="#fc8961"/><stop offset=".717" stop-color="#ec5860"/><stop offset=".728" stop-color="#f97b5d"/><stop offset=".739" stop-color="#fd9b6b"/><stop offset=".761" stop-color="#fe9f6d"/><stop offset=".772" stop-color="#feb47b"/><stop offset=".793" stop-color="#fec287"/><stop offset=".87" stop-color="#fecf92"/><stop offset="1" stop-color="#fed194"/></linearGradient>
<linearGradient id="h149" gradientUnits="userSpaceOnUse" x1="0" x2="0" y1="55.5" y2="147.5"><stop offset="0" stop-color="#fed395"/><stop offset=".467" stop-color="#fed395"/><stop offset=".478" stop-color="#fed194"/><stop offset=".511" stop-color="#febd82"/><stop offset=".543" stop-color="#fed194"/><stop offset=".609" stop-color="#fed395"/><stop offset=".62" stop-color="#fecd90"/><stop offset=".63" stop-color="#feac76"/><stop offset=".641" stop-color="#ef5d5e"/><stop offset=".652" stop-color="#d3436e"/><stop offset=".663" stop-color="#e75263"/><stop offset=".674" stop-color="#fd9467"/><stop offset=".685" stop-color="#feac76"/><stop offset=".696" stop-color="#feae77"/><stop offset=".707" stop-color="#fea36f"/><stop offset=".717" stop-color="#fa815f"/><stop offset=".728" stop-color="#fd9b6b"/><stop offset=".739" stop-color="#feac76"/><stop offset=".793" stop-color="#fec68a"/><stop offset=".88" stop-color="#fed194"/><stop offset="1" stop-color="#fed395"/></linearGradient>
<linearGradient id="h150" gradientUnits="userSpaceOnUse" x1="0" x2="0" y1="55.5" y2="147.5"><stop offset="0" stop-color="#fed395"/><stop offset=".457" stop-color="#fed395"/><stop offset=".478" stop-color="#fecf92"/><stop offset=".511" stop-color="#febd82"/><stop offset=".543" stop-color="#fed194"/><stop offset=".62" stop-color="#fecf92"/><stop offset=".63" stop-color="#feb27a"/><stop offset=".641" stop-color="#f2625d"/><stop offset=".652" stop-color="#d3436e"/><stop offset=".663" stop-color="#e34e65"/><stop offset=".674" stop-color="#fc8c63"/><stop offset=".685" stop-color="#feaa74"/><stop offset=".696" stop-color="#feae77"/><stop offset=".707" stop-color="#fea571"/><stop offset=".717" stop-color="#fb835f"/><stop offset=".739" stop-color="#feaa74"/><stop offset=".75" stop-color="#feb27a"/><stop offset=".761" stop-color="#feb078"/><stop offset=".772" stop-color="#febd82"/><stop offset=".793" stop-color="#fec68a"/><stop offset=".891" stop-color="#fed194"/><stop offset="1" stop-color="#fed194"/></linearGradient>
<linearGradient id="h151" gradientUnits="userSpaceOnUse" x1="0" x2="0" y1="55.5" y2="147.5"><stop offset="0" stop-color="#fed194"/><stop offset=".467" stop-color="#fed194"/><stop offset=".489" stop-color="#feca8d"/><stop offset=".511" stop-color="#febb81"/><stop offset=".543" stop-color="#fed194"/><stop offset=".609" stop-color="#fed194"/><stop offset=".62" stop-color="#fecd90"/><stop offset=".63" stop-color="#fea571"/><stop offset=".641" stop-color="#d6456c"/><stop offset=".652" stop-color="#962c80"/><stop offset=".663" stop-color="#a5317e"/><stop offset=".674" stop-color="#ec5860"/><stop offset=".685" stop-color="#fd9668"/><stop offset=".696" stop-color="#fea16e"/><stop offset=".707" stop-color="#fd9266"/><stop offset=".717" stop-color="#f05f5e"/><stop offset=".728" stop-color="#f3655c"/><stop offset=".739" stop-color="#fd9668"/><stop offset=".75" stop-color="#fea16e"/><stop offset=".761" stop-color="#fd9668"/><stop offset=".772" stop-color="#feb078"/><stop offset=".793" stop-color="#fec185"/><stop offset=".88" stop-color="#fecf92"/><stop offset="1" stop-color="#fed194"/></linearGradient>
<linearGradient id="h152" gradientUnits="userSpaceOnUse" x1="0" x2="0" y1="55.5" y2="147.5"><stop offset="0" stop-color="#fed194"/><stop offset=".467" stop-color="#fed194"/><stop offset=".489" stop-color="#feca8d"/><stop offset=".511" stop-color="#febb81"/><stop offset=".543" stop-color="#fed194"/><stop offset=".62" stop-color="#fecf92"/><stop offset=".63" stop-color="#feae77"/><stop offset=".641" stop-color="#db476a"/><stop offset=".652" stop-color="#8c2981"/><stop offset=".663" stop-color="#8c2981"/><stop offset=".674" stop-color="#d8456c"/><stop offset=".685" stop-color="#fc8c63"/><stop offset=".696" stop-color="#fe9d6c"/><stop offset=".707" stop-color="#fc9065"/><stop offset=".717" stop-color="#f05f5e"/><stop offset=".728" stop-color="#ea5661"/><stop offset=".739" stop-color="#fc8c63"/><stop offset=".75" stop-color="#fd9b6b"/><stop offset=".761" stop-color="#fc9065"/><stop offset=".772" stop-color="#fea973"/><stop offset=".783" stop-color="#feb77e"/><stop offset=".793" stop-color="#febd82"/><stop offset=".859" stop-color="#fecc8f"/><stop offset="1" stop-color="#fed194"/></linearGradient>
<linearGradient id="h153" gradientUnits="userSpaceOnUse" x1="0" x2="0" y1="55.5" y2="147.5"><stop offset="0" stop-color="#fed194"/><stop offset=".467" stop-color="#fed194"/><stop offset=".511" stop-color="#febb81"/><stop offset=".533" stop-color="#fecc8f"/><stop offset=".543" stop-color="#fecf92"/><stop offset=".62" stop-color="#fecf92"/><stop offset=".63" stop-color="#febb81"/><stop offset=".641" stop-color="#ec5860"/><stop offset=".652" stop-color="#962c80"/><stop offset=".663" stop-color="#862781"/><stop offset=".674" stop-color="#c43c75"/><stop offset=".685" stop-color="#fb835f"/><stop offset=".696" stop-color="#fd9b6b"/><stop offset=".707" stop-color="#fd9668"/><stop offset=".717" stop-color="#f66e5c"/><stop offset=".728" stop-color="#e55064"/><stop offset=".739" stop-color="#fa815f"/><stop offset=".75" stop-color="#fd9a6a"/><stop offset=".761" stop-color="#fd9668"/><stop offset=".772" stop-color="#fe9d6c"/><stop offset=".783" stop-color="#feb27a"/><stop offset=".793" stop-color="#febb81"/><stop offset=".859" stop-color="#fecc8f"/><stop offset="1" stop-color="#fed194"/></linearGradient>
<linearGradient id="h154" gradientUnits="userSpaceOnUse" x1="0" x2="0" y1="55.5" y2="147.5"><stop offset="0" stop-color="#fed194"/><stop offset=".457" stop-color="#fed194"/><stop offset=".478" stop-color="#fecf92"/><stop offset=".511" stop-color="#febb81"/><stop offset=".533" stop-color="#fecc8f"/><stop offset=".543" stop-color="#fecf92"/><stop offset=".62" stop-color="#fed194"/><stop offset=".63" stop-color="#fec287"/><stop offset=".641" stop-color="#f7725c"/><stop offset=".652" stop-color="#a8327d"/><stop offset=".663" stop-color="#832681"/><stop offset=".674" stop-color="#ae347b"/><stop offset=".685" stop-color="#f7725c"/><stop offset=".696" stop-color="#fd9869"/><stop offset=".707" stop-color="#fd9a6a"/><stop offset=".717" stop-color="#fb835f"/><stop offset=".728" stop-color="#e75263"/><stop offset=".739" stop-color="#f66c5c"/><stop offset=".75" stop-color="#fd9668"/><stop offset=".761" stop-color="#fd9b6b"/><stop offset=".772" stop-color="#fd9266"/><stop offset=".783" stop-color="#feae77"/><stop offset=".804" stop-color="#febf84"/><stop offset=".87" stop-color="#fecc8f"/><stop offset="1" stop-color="#fecf92"/></linearGradient>
<linearGradient id="h155" gradientUnits="userSpaceOnUse" x1="0" x2="0" y1="55.5" y2="147.5"><stop offset="0" stop-color="#fed194"/><stop offset=".457" stop-color="#fed194"/><stop offset=".478" stop-color="#fecd90"/><stop offset=".511" stop-color="#febb81"/><stop offset=".533" stop-color="#fecc8f"/><stop offset=".543" stop-color="#fecf92"/><stop offset=".62" stop-color="#fecf92"/><stop offset=".63" stop-color="#fec88c"/><stop offset=".641" stop-color="#fc8e64"/><stop offset=".652" stop-color="#bd3977"/><stop offset=".663" stop-color="#842681"/><stop offset=".674" stop-color="#9b2e7f"/><stop offset=".685" stop-color="#eb5760"/><stop offset=".696" stop-color="#fd9266"/><stop offset=".707" stop-color="#fd9b6b"/><stop offset=".717" stop-color="#fc8c63"/><stop offset=".728" stop-color="#ea5661"/><stop offset=".739" stop-color="#ef5d5e"/><stop offset=".75" stop-color="#fc9065"/><stop offset=".761" stop-color="#fd9b6b"/><stop offset=".772" stop-color="#fc8e64"/><stop offset=".783" stop-color="#feaa74"/><stop offset=".804" stop-color="#febd82"/><stop offset=".87" stop-color="#fecc8f"/><stop offset="1" stop-color="#fecf92"/></linearGradient>
<linearGradient id="h156" gradientUnits="userSpaceOnUse" x1="0" x2="0" y1="55.5" y2="147.5"><stop offset="0" stop-color="#fed194"/><stop offset=".467" stop-color="#fed194"/><stop offset=".511" stop-color="#febb81"/><stop offset=".533" stop-color="#fecc8f"/><stop offset=".543" stop-color="#fecf92"/><stop offset=".62" stop-color="#fed194"/><stop offset=".63" stop-color="#fecd90"/><stop offset=".641" stop-color="#fea973"/><stop offset=".652" stop-color="#d6456c"/><stop offset=".663" stop-color="#8b2981"/><stop offset=".674" stop-color="#8e2a81"/><stop offset=".685" stop-color="#d8456c"/><stop offset=".696" stop-color="#fc8c63"/><stop offset=".707" stop-color="#fd9b6b"/><stop offset=".717" stop-color="#fc9065"/><stop offset=".728" stop-color="#f05f5e"/><stop offset=".739" stop-color="#e95462"/><stop offset=".75" stop-color="#fc8c63"/><stop offset=".761" stop-color="#fd9a6a"/><stop offset=".772" stop-color="#fc9065"/><stop offset=".793" stop-color="#feb67c"/><stop offset=".815" stop-color="#fec185"/><stop offset=".87" stop-color="#fecc8f"/><stop offset="1" stop-color="#fecf92"/></linearGradient>
<linearGradient id="h157" gradientUnits="userSpaceOnUse" x1="0" x2="0" y1="55.5" y2="147.5"><stop offset="0" stop-color="#fed194"/><stop offset=".467" stop-color="#fed194"/><stop offset=".489" stop-color="#feca8d"/><stop offset=".511" stop-color="#febb81"/><stop offset=".533" stop-color="#fecc8f"/><stop offset=".543" stop-color="#fecf92"/><stop offset=".63" stop-color="#fed194"/><stop offset=".641" stop-color="#febb81"/><stop offset=".652" stop-color="#ec5860"/><stop offset=".663" stop-color="#962c80"/><stop offset=".674" stop-color="#862781"/><stop offset=".685" stop-color="#c43c75"/><stop offset=".696" stop-color="#fb8560"/><stop offset=".707" stop-color="#fd9b6b"/><stop offset=".717" stop-color="#fd9668"/><stop offset=".728" stop-color="#f66e5c"/><stop offset=".739" stop-color="#e55064"/><stop offset=".75" stop-color="#fb835f"/><stop offset=".761" stop-color="#fd9a6a"/><stop offset=".772" stop-color="#fd9668"/><stop offset=".783" stop-color="#fe9d6c"/><stop offset=".793" stop-color="#feb27a"/><stop offset=".815" stop-color="#fec185"/><stop offset=".87" stop-color="#fecc8f"/><stop offset="1" stop-color="#fed194"/></linearGradient>
<linearGradient id="h158" gradientUnits="userSpaceOnUse" x1="0" x2="0" y1="55.5" y2="147.5"><stop offset="0" stop-color="#fed194"/><stop offset=".467" stop-color="#fed194"/><stop offset=".489" stop-color="#feca8d"/><stop offset=".511" stop-color="#febb81"/><stop offset=".543" stop-color="#fed194"/><stop offset=".63" stop-color="#fed194"/><stop offset=".641" stop-color="#fec287"/><stop offset=".652" stop-color="#f7705c"/><stop offset=".663" stop-color="#a6317d"/><stop offset=".674" stop-color="#832681"/><stop offset=".685" stop-color="#b2357b"/><stop offset=".696" stop-color="#f8765c"/><stop offset=".707" stop-color="#fd9a6a"/><stop offset=".717" stop-color="#fd9a6a"/><stop offset=".728" stop-color="#fa7d5e"/><stop offset=".739" stop-color="#e55064"/><stop offset=".75" stop-color="#f8745c"/><stop offset=".761" stop-color="#fd9869"/><stop offset=".772" stop-color="#fd9b6b"/><stop offset=".783" stop-color="#fd9668"/><stop offset=".793" stop-color="#feb078"/><stop offset=".804" stop-color="#febb81"/><stop offset=".87" stop-color="#fecc8f"/><stop offset="1" stop-color="#fed194"/></linearGradient>
<linearGradient id="h159" gradientUnits="userSpaceOnUse" x1="0" x2="0" y1="55.5" y2="147.5"><stop offset="0" stop-color="#fed194"/><stop offset=".467" stop-color="#fed194"/><stop offset=".511" stop-color="#febd82"/><stop offset=".543" stop-color="#fed194"/><stop offset=".63" stop-color="#fed194"/><stop offset=".641" stop-color="#fec88c"/><stop offset=".652" stop-color="#fc8961"/><stop offset=".663" stop-color="#b83779"/><stop offset=".674" stop-color="#832681"/><stop offset=".685" stop-color="#a02f7f"/><stop offset=".696" stop-color="#f1605d"/><stop offset=".707" stop-color="#fd9668"/><stop offset=".717" stop-color="#fe9d6c"/><stop offset=".728" stop-color="#fc8a62"/><stop offset=".739" stop-color="#e85362"/><stop offset=".75" stop-color="#f2645c"/><stop offset=".761" stop-color="#fd9467"/><stop offset=".772" stop-color="#fe9d6c"/><stop offset=".783" stop-color="#fc9065"/><stop offset=".793" stop-color="#feae77"/><stop offset=".804" stop-color="#febb81"/><stop offset=".87" stop-color="#fecc8f"/><stop offset="1" stop-color="#fed194"/></linearGradient>
<linearGradient id="h160" gradientUnits="userSpaceOnUse" x1="0" x2="0" y1="55.5" y2="147.5"><stop offset="0" stop-color="#fed194"/><stop offset=".467" stop-color="#fed194"/><stop offset=".489" stop-color="#feca8d"/><stop offset=".511" stop-color="#febb81"/><stop offset=".543" stop-color="#fed194"/><stop offset=".63" stop-color="#fed194"/><stop offset=".641" stop-color="#fecc8f"/><stop offset=".652" stop-color="#fe9f6d"/><stop offset=".663" stop-color="#cd4071"/><stop offset=".674" stop-color="#882781"/><stop offset=".685" stop-color="#932b80"/><stop offset=".696" stop-color="#e34e65"/><stop offset=".707" stop-color="#fc9065"/><stop offset=".717" stop-color="#fe9d6c"/><stop offset=".728" stop-color="#fc8e64"/><stop offset=".739" stop-color="#ec5860"/><stop offset=".75" stop-color="#ed5a5f"/><stop offset=".761" stop-color="#fc9065"/><stop offset=".772" stop-color="#fd9b6b"/><stop offset=".783" stop-color="#fc8e64"/><stop offset=".793" stop-color="#feaa74"/><stop offset=".804" stop-color="#feb97f"/><stop offset=".815" stop-color="#febf84"/><stop offset=".87" stop-color="#fecc8f"/><stop offset="1" stop-color="#fed194"/></linearGradient>
<linearGradient id="h161" gradientUnits="userSpaceOnUse" x1="0" x2="0" y1="55.5" y2="147.5"><stop offset="0" stop-color="#fed194"/><stop offset=".467" stop-color="#fed194"/><stop offset=".489" stop-color="#feca8d"/><stop offset=".511" stop-color="#febb81"/><stop offset=".543" stop-color="#fed194"/><stop offset=".641" stop-color="#fecf92"/><stop offset=".652" stop-color="#feb47b"/><stop offset=".663" stop-color="#e24d66"/><stop offset=".674" stop-color="#902a81"/><stop offset=".685" stop-color="#892881"/><stop offset=".696" stop-color="#d0416f"/><stop offset=".707" stop-color="#fc8a62"/><stop offset=".717" stop-color="#fe9d6c"/><stop offset=".728" stop-color="#fd9266"/><stop offset=".739" stop-color="#f2645c"/><stop offset=".75" stop-color="#e85362"/><stop offset=".761" stop-color="#fc8a62"/><stop offset=".772" stop-color="#fd9b6b"/><stop offset=".783" stop-color="#fd9266"/><stop offset=".804" stop-color="#feb67c"/><stop offset=".815" stop-color="#febd82"/><stop offset=".859" stop-color="#feca8d"/><stop offset="1" stop-color="#fed194"/></linearGradient>
<linearGradient id="h162" gradientUnits="userSpaceOnUse" x1="0" x2="0" y1="55.5" y2="147.5"><stop offset="0" stop-color="#fed194"/><stop offset=".467" stop-color="#fed194"/><stop offset=".489" stop-color="#feca8d"/><stop offset=".511" stop-color="#febb81"/><stop offset=".543" stop-color="#fed194"/><stop offset=".641" stop-color="#fed194"/><stop offset=".652" stop-color="#febf84"/><stop offset=".663" stop-color="#f1605d"/><stop offset=".674" stop-color="#9b2e7f"/><stop offset=".685" stop-color="#842681"/><stop offset=".696" stop-color="#bd3977"/><stop offset=".707" stop-color="#fa815f"/><stop offset=".717" stop-color="#fd9b6b"/><stop offset=".728" stop-color="#fd9869"/><stop offset=".739" stop-color="#f8745c"/><stop offset=".75" stop-color="#e55064"/><stop offset=".761" stop-color="#f97b5d"/><stop offset=".772" stop-color="#fd9a6a"/><stop offset=".793" stop-color="#fd9a6a"/><stop offset=".804" stop-color="#feb27a"/><stop offset=".826" stop-color="#fec185"/><stop offset=".88" stop-color="#fecc8f"/><stop offset="1" stop-color="#fed194"/></linearGradient>
<linearGradient id="h163" gradientUnits="userSpaceOnUse" x1="0" x2="0" y1="55.5" y2="147.5"><stop offset="0" stop-color="#fed194"/><stop offset=".467" stop-color="#fed194"/><stop offset=".489" stop-color="#feca8d"/><stop offset=".511" stop-color="#febb81"/><stop offset=".533" stop-color="#fecc8f"/><stop offset=".554" stop-color="#fed194"/><stop offset=".641" stop-color="#fed194"/><stop offset=".652" stop-color="#fec488"/><stop offset=".663" stop-color="#f9795d"/><stop offset=".674" stop-color="#ad347c"/><stop offset=".685" stop-color="#832681"/><stop offset=".696" stop-color="#a8327d"/><stop offset=".707" stop-color="#f56b5c"/><stop offset=".717" stop-color="#fd9869"/><stop offset=".728" stop-color="#fd9b6b"/><stop offset=".739" stop-color="#fb8761"/><stop offset=".75" stop-color="#e75263"/><stop offset=".761" stop-color="#f4695c"/><stop offset=".772" stop-color="#fd9467"/><stop offset=".783" stop-color="#fd9b6b"/><stop offset=".793" stop-color="#fd9266"/><stop offset=".804" stop-color="#feae77"/><stop offset=".826" stop-color="#febf84"/><stop offset=".88" stop-color="#fecc8f"/><stop offset="1" stop-color="#fed194"/></linearGradient>
<linearGradient id="h164" gradientUnits="userSpaceOnUse" x1="0" x2="0" y1="55.5" y2="147.5"><stop offset="0" stop-color="#fed194"/><stop offset=".467" stop-color="#fed194"/><stop offset=".511" stop-color="#febb81"/><stop offset=".533" stop-color="#fecc8f"/><stop offset=".554" stop-color="#fed194"/><stop offset=".641" stop-color="#fed194"/><stop offset=".652" stop-color="#feca8d"/><stop offset=".663" stop-color="#fd9668"/><stop offset=".674" stop-color="#c43c75"/><stop offset=".685" stop-color="#862781"/><stop offset=".696" stop-color="#962c80"/><stop offset=".707" stop-color="#e75263"/><stop offset=".717" stop-color="#fc9065"/><stop offset=".728" stop-color="#fd9b6b"/><stop offset=".739" stop-color="#fc8e64"/><stop offset=".75" stop-color="#ec5860"/><stop offset=".761" stop-color="#ec5860"/><stop offset=".772" stop-color="#fc8e64"/><stop offset=".783" stop-color="#fd9b6b"/><stop offset=".793" stop-color="#fc8e64"/><stop offset=".804" stop-color="#fea973"/><stop offset=".815" stop-color="#feb77e"/><stop offset=".826" stop-color="#febd82"/><stop offset=".891" stop-color="#fecc8f"/><stop offset="1" stop-color="#fecf92"/></linearGradient>
<linearGradient id="h165" gradientUnits="userSpaceOnUse" x1="0" x2="0" y1="55.5" y2="147.5"><stop offset="0" stop-color="#fed194"/><stop offset=".467" stop-color="#fed194"/><stop offset=".511" stop-color="#febb81"/><stop offset=".533" stop-color="#fecc8f"/><stop offset=".554" stop-color="#fed194"/><stop offset=".641" stop-color="#fed194"/><stop offset=".652" stop-color="#fecd90"/><stop offset=".663" stop-color="#feae77"/><stop offset=".674" stop-color="#df4a68"/><stop offset=".685" stop-color="#8e2a81"/><stop offset=".696" stop-color="#892881"/><stop offset=".707" stop-color="#cf4070"/><stop offset=".717" stop-color="#fb8761"/><stop offset=".728" stop-color="#fd9b6b"/><stop offset=".739" stop-color="#fd9467"/><stop offset=".75" stop-color="#f4695c"/><stop offset=".761" stop-color="#e75263"/><stop offset=".772" stop-color="#fb8560"/><stop offset=".783" stop-color="#fd9a6a"/><stop offset=".793" stop-color="#fd9467"/><stop offset=".804" stop-color="#fe9d6c"/><stop offset=".815" stop-color="#feb27a"/><stop offset=".826" stop-color="#febb81"/><stop offset=".88" stop-color="#feca8d"/><stop offset="1" stop-color="#fecf92"/></linearGradient>
<linearGradient id="h166" gradientUnits="userSpaceOnUse" x1="0" x2="0" y1="55.5" y2="147.5"><stop offset="0" stop-color="#fed194"/><stop offset=".467" stop-color="#fed194"/><stop offset=".489" stop-color="#feca8d"/><stop offset=".511" stop-color="#febb81"/><stop offset=".543" stop-color="#fed194"/><stop offset=".652" stop-color="#fed194"/><stop offset=".663" stop-color="#febf84"/><stop offset=".674" stop-color="#f3655c"/><stop offset=".685" stop-color="#a1307e"/><stop offset=".696" stop-color="#842681"/><stop offset=".707" stop-color="#b5367a"/><stop offset=".717" stop-color="#f8765c"/><stop offset=".728" stop-color="#fd9a6a"/><stop offset=".739" stop-color="#fd9a6a"/><stop offset=".75" stop-color="#fa7f5e"/><stop offset=".761" stop-color="#e55064"/><stop offset=".772" stop-color="#f66c5c"/><stop offset=".783" stop-color="#fd9668"/><stop offset=".793" stop-color="#fd9b6b"/><stop offset=".804" stop-color="#fd9266"/><stop offset=".815" stop-color="#feac76"/><stop offset=".837" stop-color="#febf84"/><stop offset=".891" stop-color="#fecc8f"/><stop offset="1" stop-color="#fed194"/></linearGradient>
<linearGradient id="h167" gradientUnits="userSpaceOnUse" x1="0" x2="0" y1="55.5" y2="147.5"><stop offset="0" stop-color="#fed395"/><stop offset=".457" stop-color="#fed395"/><stop offset=".478" stop-color="#fecf92"/><stop offset=".511" stop-color="#febd82"/><stop offset=".543" stop-color="#fed194"/><stop offset=".652" stop-color="#fed194"/><stop offset=".663" stop-color="#fec88c"/><stop offset=".674" stop-color="#fc8961"/><stop offset=".685" stop-color="#bd3977"/><stop offset=".696" stop-color="#882781"/><stop offset=".707" stop-color="#9c2e7f"/><stop offset=".717" stop-color="#e95462"/><stop offset=".728" stop-color="#fd9266"/><stop offset=".739" stop-color="#fe9d6c"/><stop offset=".75" stop-color="#fc8e64"/><stop offset=".761" stop-color="#ec5860"/><stop offset=".772" stop-color="#ec5860"/><stop offset=".783" stop-color="#fc8e64"/><stop offset=".793" stop-color="#fd9b6b"/><stop offset=".804" stop-color="#fd9266"/><stop offset=".826" stop-color="#feb67c"/><stop offset=".837" stop-color="#febd82"/><stop offset=".902" stop-color="#fecc8f"/><stop offset="1" stop-color="#fed194"/></linearGradient>
<linearGradient id="h168" gradientUnits="userSpaceOnUse" x1="0" x2="0" y1="55.5" y2="147.5"><stop offset="0" stop-color="#fed194"/><stop offset=".467" stop-color="#fed194"/><stop offset=".511" stop-color="#febd82"/><stop offset=".543" stop-color="#fed194"/><stop offset=".652" stop-color="#fed194"/><stop offset=".663" stop-color="#fecd90"/><stop offset=".674" stop-color="#feac76"/><stop offset=".685" stop-color="#e04c67"/><stop offset=".696" stop-color="#942c80"/><stop offset=".707" stop-color="#8e2a81"/><stop offset=".717" stop-color="#ca3e72"/><stop offset=".728" stop-color="#fb835f"/><stop offset=".739" stop-color="#fd9b6b"/><stop offset=".75" stop-color="#fd9668"/><stop offset=".761" stop-color="#f66c5c"/><stop offset=".772" stop-color="#e55064"/><stop offset=".783" stop-color="#f97b5d"/><stop offset=".793" stop-color="#fd9a6a"/><stop offset=".815" stop-color="#fd9668"/><stop offset=".826" stop-color="#feae77"/><stop offset=".837" stop-color="#feb97f"/><stop offset=".902" stop-color="#fecc8f"/><stop offset="1" stop-color="#fed194"/></linearGradient>
<linearGradient id="h169" gradientUnits="userSpaceOnUse" x1="0" x2="0" y1="55.5" y2="147.5"><stop offset="0" stop-color="#fed194"/><stop offset=".467" stop-color="#fed194"/><stop offset=".511" stop-color="#febd82"/><stop offset=".543" stop-color="#fed194"/><stop offset=".663" stop-color="#fed194"/><stop offset=".674" stop-color="#fec185"/><stop offset=".685" stop-color="#f7725c"/><stop offset=".696" stop-color="#b0357b"/><stop offset=".707" stop-color="#8b2981"/><stop offset=".717" stop-color="#ab337c"/><stop offset=".728" stop-color="#f1605d"/><stop offset=".739" stop-color="#fd9668"/><stop offset=".75" stop-color="#fd9b6b"/><stop offset=".761" stop-color="#fc8961"/><stop offset=".772" stop-color="#e95462"/><stop offset=".783" stop-color="#f05f5e"/><stop offset=".793" stop-color="#fc9065"/><stop offset=".804" stop-color="#fd9b6b"/><stop offset=".815" stop-color="#fc9065"/><stop offset=".826" stop-color="#fea772"/><stop offset=".837" stop-color="#feb67c"/><stop offset=".859" stop-color="#fec185"/><stop offset=".913" stop-color="#fecc8f"/><stop offset="1" stop-color="#fed194"/></linearGradient>
<linearGradient id="h170" gradientUnits="userSpaceOnUse" x1="0" x2="0" y1="55.5" y2="147.5"><stop offset="0" stop-color="#fed395"/><stop offset=".457" stop-color="#fed395"/><stop offset=".478" stop-color="#fecf92"/><stop offset=".511" stop-color="#febd82"/><stop offset=".533" stop-color="#fecd90"/><stop offset=".554" stop-color="#fed395"/><stop offset=".663" stop-color="#fed395"/><stop offset=".674" stop-color="#fecc8f"/><stop offset=".685" stop-color="#fe9f6d"/><stop offset=".696" stop-color="#d6456c"/><stop offset=".707" stop-color="#962c80"/><stop offset=".717" stop-color="#942c80"/><stop offset=".728" stop-color="#d3436e"/><stop offset=".739" stop-color="#fb8761"/><stop offset=".75" stop-color="#fe9d6c"/><stop offset=".761" stop-color="#fd9467"/><stop offset=".772" stop-color="#f3655c"/><stop offset=".783" stop-color="#e75263"/><stop offset=".793" stop-color="#fa815f"/><stop offset=".804" stop-color="#fd9a6a"/><stop offset=".826" stop-color="#fd9668"/><stop offset=".837" stop-color="#feae77"/><stop offset=".848" stop-color="#feb97f"/><stop offset=".902" stop-color="#feca8d"/><stop offset="1" stop-color="#fed194"/></linearGradient>
<linearGradient id="h171" gradientUnits="userSpaceOnUse" x1="0" x2="0" y1="55.5" y2="147.5"><stop offset="0" stop-color="#fed395"/><stop offset=".467" stop-color="#fed395"/><stop offset=".478" stop-color="#fed194"/><stop offset=".511" stop-color="#febd82"/><stop offset=".533" stop-color="#fecd90"/><stop offset=".554" stop-color="#fed395"/><stop offset=".674" stop-color="#fed194"/><stop offset=".685" stop-color="#febf84"/><stop offset=".696" stop-color="#f66c5c"/><stop offset=".707" stop-color="#b0357b"/><stop offset=".717" stop-color="#902a81"/><stop offset=".728" stop-color="#b0357b"/><stop offset=".739" stop-color="#f2645c"/><stop offset=".75" stop-color="#fd9668"/><stop offset=".761" stop-color="#fd9b6b"/><stop offset=".772" stop-color="#fb835f"/><stop offset=".783" stop-color="#e75263"/><stop offset=".793" stop-color="#f2625d"/><stop offset=".804" stop-color="#fd9266"/><stop offset=".815" stop-color="#fd9b6b"/><stop offset=".826" stop-color="#fc9065"/><stop offset=".848" stop-color="#feb47b"/><stop offset=".859" stop-color="#febb81"/><stop offset=".924" stop-color="#fecc8f"/><stop offset="1" stop-color="#fed194"/></linearGradient>
<linearGradient id="h172" gradientUnits="userSpaceOnUse" x1="0" x2="0" y1="55.5" y2="147.5"><stop offset="0" stop-color="#fed395"/><stop offset=".467" stop-color="#fed395"/><stop offset=".489" stop-color="#fecc8f"/><stop offset=".511" stop-color="#febd82"/><stop offset=".543" stop-color="#fed395"/><stop offset=".674" stop-color="#fed395"/><stop offset=".685" stop-color="#fecc8f"/><stop offset=".696" stop-color="#fe9d6c"/><stop offset=".707" stop-color="#d8456c"/><stop offset=".717" stop-color="#992d80"/><stop offset=".728" stop-color="#992d80"/><stop offset=".739" stop-color="#d5446d"/><stop offset=".75" stop-color="#fb8761"/><stop offset=".761" stop-color="#fe9d6c"/><stop offset=".772" stop-color="#fd9266"/><stop offset=".783" stop-color="#f2625d"/><stop offset=".793" stop-color="#e75263"/><stop offset=".804" stop-color="#fb835f"/><stop offset=".815" stop-color="#fd9b6b"/><stop offset=".837" stop-color="#fd9467"/><stop offset=".848" stop-color="#feac76"/><stop offset=".859" stop-color="#feb97f"/><stop offset=".924" stop-color="#fecc8f"/><stop offset="1" stop-color="#fed194"/></linearGradient>
<linearGradient id="h173" gradientUnits="userSpaceOnUse" x1="0" x2="0" y1="55.5" y2="147.5"><stop offset="0" stop-color="#fed395"/><stop offset=".467" stop-color="#fed395"/><stop offset=".489" stop-color="#fecc8f"/><stop offset=".511" stop-color="#febd82"/><stop offset=".543" stop-color="#fed395"/><stop offset=".685" stop-color="#fed395"/><stop offset=".696" stop-color="#febf84"/><stop offset=".707" stop-color="#f7705c"/><stop offset=".717" stop-color="#b73779"/><stop offset=".728" stop-color="#942c80"/><stop offset=".739" stop-color="#b0357b"/><stop offset=".75" stop-color="#f1605d"/><stop offset=".761" stop-color="#fd9668"/><stop offset=".772" stop-color="#fd9b6b"/><stop offset=".783" stop-color="#fa7f5e"/><stop offset=".793" stop-color="#e75263"/><stop offset=".804" stop-color="#f2645c"/><stop offset=".815" stop-color="#fd9467"/><stop offset=".826" stop-color="#fd9b6b"/><stop offset=".837" stop-color="#fc9065"/><stop offset=".859" stop-color="#feb47b"/><stop offset=".87" stop-color="#febb81"/><stop offset=".935" stop-color="#fecc8f"/><stop offset="1" stop-color="#fed194"/></linearGradient>
<linearGradient id="h174" gradientUnits="userSpaceOnUse" x1="0" x2="0" y1="55.5" y2="147.5"><stop offset="0" stop-color="#fed395"/><stop offset=".467" stop-color="#fed395"/><stop offset=".489" stop-color="#fecc8f"/><stop offset=".511" stop-color="#febd82"/><stop offset=".543" stop-color="#fed395"/><stop offset=".685" stop-color="#fed395"/><stop offset=".696" stop-color="#fecd90"/><stop offset=".707" stop-color="#fea36f"/><stop offset=".717" stop-color="#e04c67"/><stop offset=".728" stop-color="#a1307e"/><stop offset=".739" stop-color="#9c2e7f"/><stop offset=".75" stop-color="#d0416f"/><stop offset=".761" stop-color="#fb835f"/><stop offset=".772" stop-color="#fe9d6c"/><stop offset=".783" stop-color="#fd9266"/><stop offset=".793" stop-color="#f1605d"/><stop offset=".804" stop-color="#e85362"/><stop offset=".815" stop-color="#fb835f"/><stop offset=".826" stop-color="#fd9b6b"/><stop offset=".848" stop-color="#fd9668"/><stop offset=".859" stop-color="#feac76"/><stop offset=".87" stop-color="#feb77e"/><stop offset=".891" stop-color="#fec185"/><stop offset=".935" stop-color="#fecc8f"/><stop offset="1" stop-color="#fed194"/></linearGradient>
<linearGradient id="h175" gradientUnits="userSpaceOnUse" x1="0" x2="0" y1="55.5" y2="147.5"><stop offset="0" stop-color="#fed395"/><stop offset=".467" stop-color="#fed395"/><stop offset=".489" stop-color="#fecc8f"/><stop offset=".511" stop-color="#febd82"/><stop offset=".543" stop-color="#fed395"/><stop offset=".696" stop-color="#fed395"/><stop offset=".707" stop-color="#fec287"/><stop offset=".717" stop-color="#f97b5d"/><stop offset=".728" stop-color="#c23b75"/><stop offset=".739" stop-color="#9c2e7f"/><stop offset=".75" stop-color="#b2357b"/><stop offset=".761" stop-color="#ed5a5f"/><stop offset=".772" stop-color="#fd9266"/><stop offset=".783" stop-color="#fd9b6b"/><stop offset=".793" stop-color="#fb835f"/><stop offset=".804" stop-color="#e95462"/><stop offset=".815" stop-color="#f2625d"/><stop offset=".826" stop-color="#fd9266"/><stop offset=".837" stop-color="#fe9d6c"/><stop offset=".848" stop-color="#fd9869"/><stop offset=".87" stop-color="#feb27a"/><stop offset=".88" stop-color="#feb97f"/><stop offset=".924" stop-color="#fec88c"/><stop offset="1" stop-color="#fed194"/></linearGradient>
<linearGradient id="h176" gradientUnits="userSpaceOnUse" x1="0" x2="0" y1="55.5" y2="147.5"><stop offset="0" stop-color="#fed395"/><stop offset=".467" stop-color="#fed395"/><stop offset=".511" stop-color="#febf84"/><stop offset=".543" stop-color="#fed395"/><stop offset=".696" stop-color="#fed395"/><stop offset=".707" stop-color="#fecf92"/><stop offset=".717" stop-color="#feb27a"/><stop offset=".728" stop-color="#f4675c"/><stop offset=".739" stop-color="#cd4071"/><stop offset=".75" stop-color="#c53c74"/><stop offset=".761" stop-color="#e75263"/><stop offset=".772" stop-color="#fc9065"/><stop offset=".783" stop-color="#fea772"/><stop offset=".793" stop-color="#fe9f6d"/><stop offset=".804" stop-color="#f9795d"/><stop offset=".815" stop-color="#f4675c"/><stop offset=".826" stop-color="#fc8e64"/><stop offset=".837" stop-color="#fea571"/><stop offset=".859" stop-color="#fea772"/><stop offset=".88" stop-color="#febb81"/><stop offset=".913" stop-color="#fec68a"/><stop offset="1" stop-color="#fed194"/></linearGradient>
<linearGradient id="h177" gradientUnits="userSpaceOnUse" x1="0" x2="0" y1="55.5" y2="147.5"><stop offset="0" stop-color="#fed395"/><stop offset=".467" stop-color="#fed395"/><stop offset=".511" stop-color="#febf84"/><stop offset=".543" stop-color="#fed395"/><stop offset=".707" stop-color="#fed395"/><stop offset=".717" stop-color="#fecf92"/><stop offset=".728" stop-color="#febb81"/><stop offset=".739" stop-color="#fd9a6a"/><stop offset=".75" stop-color="#fa7f5e"/><stop offset=".761" stop-color="#fa815f"/><stop offset=".783" stop-color="#feae77"/><stop offset=".793" stop-color="#feb77e"/><stop offset=".815" stop-color="#fea772"/><stop offset=".826" stop-color="#fea571"/><stop offset=".848" stop-color="#feb77e"/><stop offset=".902" stop-color="#fec88c"/><stop offset="1" stop-color="#fed194"/></linearGradient>
<linearGradient id="h178" gradientUnits="userSpaceOnUse" x1="0" x2="0" y1="55.5" y2="147.5"><stop offset="0" stop-color="#fed597"/><stop offset=".457" stop-color="#fed597"/><stop offset=".478" stop-color="#fed194"/><stop offset=".511" stop-color="#febf84"/><stop offset=".543" stop-color="#fed395"/><stop offset=".717" stop-color="#fed395"/><stop offset=".728" stop-color="#fec88c"/><stop offset=".739" stop-color="#fc8a62"/><stop offset=".75" stop-color="#de4968"/><stop offset=".761" stop-color="#c03a76"/><stop offset=".772" stop-color="#cd4071"/><stop offset=".783" stop-color="#f3655c"/><stop offset=".793" stop-color="#fd9869"/><stop offset=".804" stop-color="#fea36f"/><stop offset=".815" stop-color="#fc9065"/><stop offset=".826" stop-color="#f2645c"/><stop offset=".837" stop-color="#f66c5c"/><stop offset=".848" stop-color="#fd9869"/><stop offset=".859" stop-color="#fea772"/><stop offset=".913" stop-color="#febf84"/><stop offset="1" stop-color="#fecf92"/></linearGradient>
<linearGradient id="h179" gradientUnits="userSpaceOnUse" x1="0" x2="0" y1="55.5" y2="147.5"><stop offset="0" stop-color="#fed597"/><stop offset=".467" stop-color="#fed597"/><stop offset=".511" stop-color="#febf84"/><stop offset=".533" stop-color="#fecf92"/><stop offset=".554" stop-color="#fed597"/><stop offset=".717" stop-color="#fed597"/><stop offset=".728" stop-color="#fecf92"/><stop offset=".739" stop-color="#fea973"/><stop offset=".75" stop-color="#ec5860"/><stop offset=".761" stop-color="#b5367a"/><stop offset=".772" stop-color="#a6317d"/><stop offset=".783" stop-color="#c83e73"/><stop offset=".793" stop-color="#f7705c"/><stop offset=".804" stop-color="#fd9869"/><stop offset=".815" stop-color="#fd9467"/><stop offset=".826" stop-color="#f4695c"/><stop offset=".837" stop-color="#e55064"/><stop offset=".848" stop-color="#f7725c"/><stop offset=".859" stop-color="#fd9869"/><stop offset=".87" stop-color="#fea16e"/><stop offset=".935" stop-color="#fec185"/><stop offset="1" stop-color="#fecd90"/></linearGradient>
<linearGradient id="h180" gradientUnits="userSpaceOnUse" x1="0" x2="0" y1="55.5" y2="147.5"><stop offset="0" stop-color="#fed597"/><stop offset=".467" stop-color="#fed597"/><stop offset=".511" stop-color="#febf84"/><stop offset=".543" stop-color="#fed597"/><stop offset=".728" stop-color="#fed597"/><stop offset=".739" stop-color="#fec88c"/><stop offset=".75" stop-color="#fd9467"/><stop offset=".761" stop-color="#dc4869"/><stop offset=".772" stop-color="#ad347c"/><stop offset=".783" stop-color="#ad347c"/><stop offset=".793" stop-color="#db476a"/><stop offset=".804" stop-color="#fb8560"/><stop offset=".815" stop-color="#fd9b6b"/><stop offset=".826" stop-color="#fc8c63"/><stop offset=".837" stop-color="#ed5a5f"/><stop offset=".848" stop-color="#e95462"/><stop offset=".859" stop-color="#fb8560"/><stop offset=".87" stop-color="#fe9d6c"/><stop offset=".935" stop-color="#febf84"/><stop offset="1" stop-color="#fecd90"/></linearGradient>
<linearGradient id="h181" gradientUnits="userSpaceOnUse" x1="0" x2="0" y1="55.5" y2="147.5"><stop offset="0" stop-color="#fed597"/><stop offset=".467" stop-color="#fed597"/><stop offset=".511" stop-color="#febf84"/><stop offset=".543" stop-color="#fed597"/><stop offset=".739" stop-color="#fed395"/><stop offset=".75" stop-color="#fec185"/><stop offset=".761" stop-color="#fa7f5e"/><stop offset=".772" stop-color="#cf4070"/><stop offset=".783" stop-color="#ab337c"/><stop offset=".793" stop-color="#b83779"/><stop offset=".804" stop-color="#e95462"/><stop offset=".815" stop-color="#fc8e64"/><stop offset=".826" stop-color="#fd9a6a"/><stop offset=".837" stop-color="#f9795d"/><stop offset=".848" stop-color="#e75263"/><stop offset=".859" stop-color="#f1605d"/><stop offset=".87" stop-color="#fc9065"/><stop offset=".88" stop-color="#fe9f6d"/><stop offset=".935" stop-color="#febb81"/><stop offset="1" stop-color="#fecc8f"/></linearGradient>
<linearGradient id="h182" gradientUnits="userSpaceOnUse" x1="0" x2="0" y1="55.5" y2="147.5"><stop offset="0" stop-color="#fed597"/><stop offset=".467" stop-color="#fed597"/><stop offset=".511" stop-color="#fec185"/><stop offset=".543" stop-color="#fed597"/><stop offset=".739" stop-color="#fed597"/><stop offset=".75" stop-color="#fed194"/><stop offset=".761" stop-color="#feb67c"/><stop offset=".772" stop-color="#f56b5c"/><stop offset=".783" stop-color="#c43c75"/><stop offset=".793" stop-color="#ae347b"/><stop offset=".804" stop-color="#c53c74"/><stop offset=".815" stop-color="#f3655c"/><stop offset=".826" stop-color="#fd9467"/><stop offset=".837" stop-color="#fd9467"/><stop offset=".848" stop-color="#f4675c"/><stop offset=".859" stop-color="#e44f64"/><stop offset=".87" stop-color="#f7705c"/><stop offset=".88" stop-color="#fd9869"/><stop offset=".946" stop-color="#febd82"/><stop offset="1" stop-color="#fecc8f"/></linearGradient>
<linearGradient id="h183" gradientUnits="userSpaceOnUse" x1="0" x2="0" y1="55.5" y2="147.5"><stop offset="0" stop-color="#fed799"/><stop offset=".467" stop-color="#fed799"/><stop offset=".511" stop-color="#fec185"/><stop offset=".533" stop-color="#fed194"/><stop offset=".554" stop-color="#fed799"/><stop offset=".75" stop-color="#fed799"/><stop offset=".761" stop-color="#fecd90"/><stop offset=".772" stop-color="#fea571"/><stop offset=".783" stop-color="#ec5860"/><stop offset=".793" stop-color="#bd3977"/><stop offset=".804" stop-color="#b3367a"/><stop offset=".815" stop-color="#d5446d"/><stop offset=".826" stop-color="#f9795d"/><stop offset=".837" stop-color="#fd9b6b"/><stop offset=".848" stop-color="#fc8c63"/><stop offset=".859" stop-color="#ec5860"/><stop offset=".87" stop-color="#e95462"/><stop offset=".88" stop-color="#fb8761"/><stop offset=".891" stop-color="#fe9f6d"/><stop offset=".957" stop-color="#febf84"/><stop offset="1" stop-color="#feca8d"/></linearGradient>
<linearGradient id="h184" gradientUnits="userSpaceOnUse" x1="0" x2="0" y1="55.5" y2="147.5"><stop offset="0" stop-color="#fed799"/><stop offset=".467" stop-color="#fed799"/><stop offset=".511" stop-color="#fec287"/><stop offset=".543" stop-color="#fed799"/><stop offset=".761" stop-color="#fed799"/><stop offset=".772" stop-color="#feca8d"/><stop offset=".783" stop-color="#fd9668"/><stop offset=".793" stop-color="#e24d66"/><stop offset=".804" stop-color="#b83779"/><stop offset=".815" stop-color="#ba3878"/><stop offset=".826" stop-color="#e44f64"/><stop offset=".837" stop-color="#fc8a62"/><stop offset=".848" stop-color="#fd9b6b"/><stop offset=".859" stop-color="#f9795d"/><stop offset=".87" stop-color="#e55064"/><stop offset=".88" stop-color="#f1605d"/><stop offset=".891" stop-color="#fd9266"/><stop offset=".902" stop-color="#fea16e"/><stop offset=".967" stop-color="#fec185"/><stop offset="1" stop-color="#feca8d"/></linearGradient>
<linearGradient id="h185" gradientUnits="userSpaceOnUse" x1="0" x2="0" y1="55.5" y2="147.5"><stop offset="0" stop-color="#fed89a"/><stop offset=".467" stop-color="#fed89a"/><stop offset=".478" stop-color="#fed799"/><stop offset=".511" stop-color="#fec287"/><stop offset=".543" stop-color="#fed89a"/><stop offset=".772" stop-color="#fed799"/><stop offset=".783" stop-color="#fec488"/><stop offset=".793" stop-color="#fb835f"/><stop offset=".804" stop-color="#d8456c"/><stop offset=".815" stop-color="#b83779"/><stop offset=".826" stop-color="#c53c74"/><stop offset=".837" stop-color="#ef5d5e"/><stop offset=".848" stop-color="#fc9065"/><stop offset=".859" stop-color="#fd9467"/><stop offset=".87" stop-color="#f4675c"/><stop offset=".88" stop-color="#e44f64"/><stop offset=".891" stop-color="#f7705c"/><stop offset=".902" stop-color="#fd9a6a"/><stop offset=".913" stop-color="#fea571"/><stop offset=".935" stop-color="#feaa74"/><stop offset=".967" stop-color="#febd82"/><stop offset="1" stop-color="#fec88c"/></linearGradient>
<linearGradient id="h186" gradientUnits="userSpaceOnUse" x1="0" x2="0" y1="55.5" y2="147.5"><stop offset="0" stop-color="#fdda9c"/><stop offset=".467" stop-color="#fdda9c"/><stop offset=".511" stop-color="#fec488"/><stop offset=".533" stop-color="#fed597"/><stop offset=".554" stop-color="#fdda9c"/><stop offset=".772" stop-color="#fdda9c"/><stop offset=".783" stop-color="#fed597"/><stop offset=".793" stop-color="#feb77e"/><stop offset=".804" stop-color="#f7705c"/><stop offset=".815" stop-color="#cf4070"/><stop offset=".826" stop-color="#bc3978"/><stop offset=".837" stop-color="#d0416f"/><stop offset=".848" stop-color="#f56b5c"/><stop offset=".859" stop-color="#fd9668"/><stop offset=".87" stop-color="#fc8e64"/><stop offset=".88" stop-color="#ed5a5f"/><stop offset=".891" stop-color="#e85362"/><stop offset=".902" stop-color="#fb835f"/><stop offset=".913" stop-color="#fea16e"/><stop offset="1" stop-color="#fec68a"/></linearGradient>
<linearGradient id="h187" gradientUnits="userSpaceOnUse" x1="0" x2="0" y1="55.5" y2="147.5"><stop offset="0" stop-color="#fdda9c"/><stop offset=".467" stop-color="#fdda9c"/><stop offset=".489" stop-color="#fed395"/><stop offset=".511" stop-color="#fec488"/><stop offset=".533" stop-color="#fed799"/><stop offset=".543" stop-color="#fdda9c"/><stop offset=".783" stop-color="#fdda9c"/><stop offset=".793" stop-color="#fed194"/><stop offset=".804" stop-color="#feaa74"/><stop offset=".815" stop-color="#f2625d"/><stop offset=".826" stop-color="#ca3e72"/><stop offset=".837" stop-color="#bf3a77"/><stop offset=".848" stop-color="#db476a"/><stop offset=".859" stop-color="#f9785d"/><stop offset=".87" stop-color="#fd9869"/><stop offset=".88" stop-color="#fa7d5e"/><stop offset=".891" stop-color="#e85362"/><stop offset=".902" stop-color="#f05f5e"/><stop offset=".913" stop-color="#fd9266"/><stop offset=".924" stop-color="#fea571"/><stop offset=".946" stop-color="#fea973"/><stop offset="1" stop-color="#fec488"/></linearGradient>
<linearGradient id="h188" gradientUnits="userSpaceOnUse" x1="0" x2="0" y1="55.5" y2="147.5"><stop offset="0" stop-color="#fddc9e"/><stop offset=".467" stop-color="#fddc9e"/><stop offset=".511" stop-color="#fec68a"/><stop offset=".533" stop-color="#fed799"/><stop offset=".554" stop-color="#fddc9e"/><stop offset=".793" stop-color="#fdda9c"/><stop offset=".804" stop-color="#fecf92"/><stop offset=".815" stop-color="#fe9f6d"/><stop offset=".826" stop-color="#ec5860"/><stop offset=".837" stop-color="#c83e73"/><stop offset=".848" stop-color="#c43c75"/><stop offset=".859" stop-color="#e44f64"/><stop offset=".87" stop-color="#fb835f"/><stop offset=".88" stop-color="#fd9668"/><stop offset=".891" stop-color="#f7725c"/><stop offset=".902" stop-color="#eb5760"/><stop offset=".913" stop-color="#f8745c"/><stop offset=".924" stop-color="#fe9d6c"/><stop offset=".935" stop-color="#fea973"/><stop offset=".957" stop-color="#feaa74"/><stop offset="1" stop-color="#fec185"/></linearGradient>
<linearGradient id="h189" gradientUnits="userSpaceOnUse" x1="0" x2="0" y1="55.5" y2="147.5"><stop offset="0" stop-color="#fddea0"/><stop offset=".457" stop-color="#fddea0"/><stop offset=".478" stop-color="#fddc9e"/><stop offset=".511" stop-color="#fec88c"/><stop offset=".533" stop-color="#fed89a"/><stop offset=".554" stop-color="#fddea0"/><stop offset=".804" stop-color="#fddc9e"/><stop offset=".815" stop-color="#fecc8f"/><stop offset=".826" stop-color="#fd9266"/><stop offset=".837" stop-color="#e75263"/><stop offset=".848" stop-color="#c73d73"/><stop offset=".859" stop-color="#ca3e72"/><stop offset=".87" stop-color="#eb5760"/><stop offset=".88" stop-color="#fc8c63"/><stop offset=".891" stop-color="#fd9869"/><stop offset=".902" stop-color="#f8745c"/><stop offset=".913" stop-color="#f4695c"/><stop offset=".924" stop-color="#fc8c63"/><stop offset=".935" stop-color="#fea772"/><stop offset=".967" stop-color="#feae77"/><stop offset="1" stop-color="#febf84"/></linearGradient>
<linearGradient id="h190" gradientUnits="userSpaceOnUse" x1="0" x2="0" y1="55.5" y2="147.5"><stop offset="0" stop-color="#fddea0"/><stop offset=".467" stop-color="#fddea0"/><stop offset=".489" stop-color="#fed799"/><stop offset=".511" stop-color="#fec88c"/><stop offset=".543" stop-color="#fddea0"/><stop offset=".804" stop-color="#fddea0"/><stop offset=".815" stop-color="#fdda9c"/><stop offset=".826" stop-color="#fec488"/><stop offset=".837" stop-color="#fc8961"/><stop offset=".848" stop-color="#e34e65"/><stop offset=".859" stop-color="#c83e73"/><stop offset=".87" stop-color="#d0416f"/><stop offset=".88" stop-color="#f05f5e"/><stop offset=".891" stop-color="#fd9467"/><stop offset=".902" stop-color="#fe9d6c"/><stop offset=".913" stop-color="#fa815f"/><stop offset=".924" stop-color="#fb835f"/><stop offset=".935" stop-color="#fea36f"/><stop offset=".946" stop-color="#feb078"/><stop offset=".978" stop-color="#feb27a"/><stop offset="1" stop-color="#febd82"/></linearGradient>
<linearGradient id="h191" gradientUnits="userSpaceOnUse" x1="0" x2="0" y1="55.5" y2="147.5"><stop offset="0" stop-color="#fde0a1"/><stop offset=".457" stop-color="#fde0a1"/><stop offset=".478" stop-color="#fddea0"/><stop offset=".5" stop-color="#fecd90"/><stop offset=".511" stop-color="#feca8d"/><stop offset=".533" stop-color="#fdda9c"/><stop offset=".554" stop-color="#fde0a1"/><stop offset=".804" stop-color="#fde0a1"/><stop offset=".826" stop-color="#fdda9c"/><stop offset=".837" stop-color="#febf84"/><stop offset=".848" stop-color="#fa815f"/><stop offset=".859" stop-color="#e24d66"/><stop offset=".87" stop-color="#cd4071"/><stop offset=".88" stop-color="#d6456c"/><stop offset=".891" stop-color="#f3655c"/><stop offset=".902" stop-color="#fd9a6a"/><stop offset=".913" stop-color="#fea571"/><stop offset=".924" stop-color="#fd9668"/><stop offset=".935" stop-color="#fe9d6c"/><stop offset=".946" stop-color="#feb078"/><stop offset=".957" stop-color="#feb67c"/><stop offset="1" stop-color="#febb81"/></linearGradient>
<linearGradient id="h192" gradientUnits="userSpaceOnUse" x1="0" x2="0" y1="55.5" y2="147.5"><stop offset="0" stop-color="#fde0a1"/><stop offset=".467" stop-color="#fde0a1"/><stop offset=".478" stop-color="#fddea0"/><stop offset=".5" stop-color="#fecd90"/><stop offset=".511" stop-color="#feca8d"/><stop offset=".543" stop-color="#fde0a1"/><stop offset=".826" stop-color="#fde0a1"/><stop offset=".837" stop-color="#fed89a"/><stop offset=".848" stop-color="#feb97f"/><stop offset=".859" stop-color="#fa7d5e"/><stop offset=".87" stop-color="#e34e65"/><stop offset=".88" stop-color="#d2426f"/><stop offset=".891" stop-color="#db476a"/><stop offset=".902" stop-color="#f56b5c"/><stop offset=".913" stop-color="#fe9d6c"/><stop offset=".924" stop-color="#feae77"/><stop offset=".935" stop-color="#feac76"/><stop offset=".957" stop-color="#febb81"/><stop offset="1" stop-color="#febd82"/></linearGradient>
<linearGradient id="h193" gradientUnits="userSpaceOnUse" x1="0" x2="0" y1="55.5" y2="147.5"><stop offset="0" stop-color="#fde2a3"/><stop offset=".467" stop-color="#fde2a3"/><stop offset=".511" stop-color="#fecc8f"/><stop offset=".533" stop-color="#fddc9e"/><stop offset=".554" stop-color="#fde2a3"/><stop offset=".826" stop-color="#fde2a3"/><stop offset=".848" stop-color="#fed89a"/><stop offset=".859" stop-color="#feb77e"/><stop offset=".87" stop-color="#fa7f5e"/><stop offset=".88" stop-color="#e55064"/><stop offset=".891" stop-color="#d6456c"/><stop offset=".902" stop-color="#df4a68"/><stop offset=".913" stop-color="#f66c5c"/><stop offset=".924" stop-color="#fe9f6d"/><stop offset=".935" stop-color="#feb97f"/><stop offset=".957" stop-color="#fec488"/><stop offset="1" stop-color="#fec488"/></linearGradient>
<linearGradient id="h194" gradientUnits="userSpaceOnUse" x1="0" x2="0" y1="55.5" y2="147.5"><stop offset="0" stop-color="#fde3a5"/><stop offset=".467" stop-color="#fde3a5"/><stop offset=".478" stop-color="#fde2a3"/><stop offset=".511" stop-color="#fecd90"/><stop offset=".533" stop-color="#fddea0"/><stop offset=".554" stop-color="#fde3a5"/><stop offset=".848" stop-color="#fde2a3"/><stop offset=".859" stop-color="#fed89a"/><stop offset=".87" stop-color="#feb97f"/><stop offset=".88" stop-color="#fb835f"/><stop offset=".891" stop-color="#ea5661"/><stop offset=".902" stop-color="#db476a"/><stop offset=".913" stop-color="#e34e65"/><stop offset=".924" stop-color="#f66c5c"/><stop offset=".935" stop-color="#fe9f6d"/><stop offset=".946" stop-color="#fec185"/><stop offset=".957" stop-color="#feca8d"/><stop offset="1" stop-color="#fecc8f"/></linearGradient>
<linearGradient id="h195" gradientUnits="userSpaceOnUse" x1="0" x2="0" y1="55.5" y2="147.5"><stop offset="0" stop-color="#fde5a7"/><stop offset=".457" stop-color="#fde5a7"/><stop offset=".478" stop-color="#fde2a3"/><stop offset=".511" stop-color="#fecf92"/><stop offset=".533" stop-color="#fde0a1"/><stop offset=".565" stop-color="#fde5a7"/><stop offset=".848" stop-color="#fde5a7"/><stop offset=".87" stop-color="#fdda9c"/><stop offset=".88" stop-color="#febd82"/><stop offset=".891" stop-color="#fc8961"/><stop offset=".902" stop-color="#ee5b5e"/><stop offset=".913" stop-color="#e04c67"/><stop offset=".924" stop-color="#e55064"/><stop offset=".935" stop-color="#f66c5c"/><stop offset=".946" stop-color="#fe9d6c"/><stop offset=".957" stop-color="#fec488"/><stop offset=".967" stop-color="#fed194"/><stop offset="1" stop-color="#fed597"/></linearGradient>
<linearGradient id="h196" gradientUnits="userSpaceOnUse" x1="0" x2="0" y1="55.5" y2="147.5"><stop offset="0" stop-color="#fde5a7"/><stop offset=".467" stop-color="#fde5a7"/><stop offset=".511" stop-color="#fed194"/><stop offset=".533" stop-color="#fde2a3"/><stop offset=".543" stop-color="#fde5a7"/><stop offset=".87" stop-color="#fde5a7"/><stop offset=".88" stop-color="#fddea0"/><stop offset=".891" stop-color="#fec287"/><stop offset=".902" stop-color="#fd9266"/><stop offset=".913" stop-color="#f2645c"/><stop offset=".924" stop-color="#e55064"/><stop offset=".935" stop-color="#e85362"/><stop offset=".946" stop-color="#f56b5c"/><stop offset=".957" stop-color="#fd9b6b"/><stop offset=".967" stop-color="#fec68a"/><stop offset=".978" stop-color="#fed799"/><stop offset="1" stop-color="#fddc9e"/></linearGradient>
<linearGradient id="h197" gradientUnits="userSpaceOnUse" x1="0" x2="0" y1="55.5" y2="147.5"><stop offset="0" stop-color="#fde7a9"/><stop offset=".467" stop-color="#fde7a9"/><stop offset=".489" stop-color="#fde0a1"/><stop offset=".511" stop-color="#fed194"/><stop offset=".543" stop-color="#fde7a9"/><stop offset=".88" stop-color="#fde7a9"/><stop offset=".891" stop-color="#fde0a1"/><stop offset=".902" stop-color="#fec88c"/><stop offset=".913" stop-color="#fd9b6b"/><stop offset=".924" stop-color="#f66c5c"/><stop offset=".935" stop-color="#ea5661"/><stop offset=".946" stop-color="#ea5661"/><stop offset=".957" stop-color="#f56b5c"/><stop offset=".967" stop-color="#fd9869"/><stop offset=".978" stop-color="#fec287"/><stop offset=".989" stop-color="#fed89a"/><stop offset="1" stop-color="#fde0a1"/></linearGradient>
<linearGradient id="h198" gradientUnits="userSpaceOnUse" x1="0" x2="0" y1="55.5" y2="147.5"><stop offset="0" stop-color="#fde9aa"/><stop offset=".457" stop-color="#fde9aa"/><stop offset=".478" stop-color="#fde5a7"/><stop offset=".511" stop-color="#fed395"/><stop offset=".533" stop-color="#fde3a5"/><stop offset=".554" stop-color="#fde9aa"/><stop offset=".88" stop-color="#fde9aa"/><stop offset=".902" stop-color="#fde2a3"/><stop offset=".913" stop-color="#fecf92"/><stop offset=".924" stop-color="#fea571"/><stop offset=".935" stop-color="#f9785d"/><stop offset=".946" stop-color="#ef5d5e"/><stop offset=".957" stop-color="#ec5860"/><stop offset=".967" stop-color="#f4695c"/><stop offset=".978" stop-color="#fd9266"/><stop offset=".989" stop-color="#febf84"/><stop offset="1" stop-color="#fdda9c"/></linearGradient>
<linearGradient id="h199" gradientUnits="userSpaceOnUse" x1="0" x2="0" y1="55.5" y2="147.5"><stop offset="0" stop-color="#fde9aa"/><stop offset=".467" stop-color="#fde9aa"/><stop offset=".478" stop-color="#fde7a9"/><stop offset=".511" stop-color="#fed395"/><stop offset=".533" stop-color="#fde3a5"/><stop offset=".554" stop-color="#fde9aa"/><stop offset=".902" stop-color="#fde9aa"/><stop offset=".913" stop-color="#fde5a7"/><stop offset=".924" stop-color="#fed597"/><stop offset=".935" stop-color="#feb078"/><stop offset=".946" stop-color="#fb835f"/><stop offset=".957" stop-color="#f3655c"/><stop offset=".967" stop-color="#ef5d5e"/><stop offset=".978" stop-color="#f56b5c"/><stop offset=".989" stop-color="#fc8c63"/><stop offset="1" stop-color="#feb47b"/></linearGradient>
<linearGradient id="h200" gradientUnits="userSpaceOnUse" x1="0" x2="0" y1="55.5" y2="147.5"><stop offset="0" stop-color="#fde9aa"/><stop offset=".467" stop-color="#fde9aa"/><stop offset=".478" stop-color="#fde7a9"/><stop offset=".511" stop-color="#fed395"/><stop offset=".543" stop-color="#fde9aa"/><stop offset=".913" stop-color="#fde9aa"/><stop offset=".924" stop-color="#fde7a9"/><stop offset=".935" stop-color="#fdda9c"/><stop offset=".946" stop-color="#febb81"/><stop offset=".957" stop-color="#fc9065"/><stop offset=".967" stop-color="#f66e5c"/><stop offset=".978" stop-color="#f2625d"/><stop offset=".989" stop-color="#f56b5c"/><stop offset="1" stop-color="#fa815f"/></linearGradient>
<linearGradient id="h201" gradientUnits="userSpaceOnUse" x1="0" x2="0" y1="55.5" y2="147.5"><stop offset="0" stop-color="#fde9aa"/><stop offset=".467" stop-color="#fde9aa"/><stop offset=".478" stop-color="#fde7a9"/><stop offset=".511" stop-color="#fed395"/><stop offset=".533" stop-color="#fde3a5"/><stop offset=".554" stop-color="#fde9aa"/><stop offset=".924" stop-color="#fde9aa"/><stop offset=".935" stop-color="#fde7a9"/><stop offset=".946" stop-color="#fddea0"/><stop offset=".957" stop-color="#fec287"/><stop offset=".967" stop-color="#fd9b6b"/><stop offset=".978" stop-color="#f9795d"/><stop offset=".989" stop-color="#f4695c"/><stop offset="1" stop-color="#f4695c"/></linearGradient>
<linearGradient id="h202" gradientUnits="userSpaceOnUse" x1="0" x2="0" y1="55.5" y2="147.5"><stop offset="0" stop-color="#fde9aa"/><stop offset=".467" stop-color="#fde9aa"/><stop offset=".478" stop-color="#fde7a9"/><stop offset=".511" stop-color="#fed395"/><stop offset=".543" stop-color="#fde9aa"/><stop offset=".946" stop-color="#fde9aa"/><stop offset=".957" stop-color="#fde2a3"/><stop offset=".967" stop-color="#feca8d"/><stop offset=".978" stop-color="#fea772"/><stop offset=".989" stop-color="#fb8560"/><stop offset="1" stop-color="#f7725c"/></linearGradient>
<linearGradient id="h203" gradientUnits="userSpaceOnUse" x1="0" x2="0" y1="55.5" y2="147.5"><stop offset="0" stop-color="#fde9aa"/><stop offset=".467" stop-color="#fde9aa"/><stop offset=".478" stop-color="#fde7a9"/><stop offset=".511" stop-color="#fed597"/><stop offset=".543" stop-color="#fde9aa"/><stop offset=".957" stop-color="#fde9aa"/><stop offset=".967" stop-color="#fde3a5"/><stop offset=".978" stop-color="#fed395"/><stop offset="1" stop-color="#fd9668"/></linearGradient>
<linearGradient id="h204" gradientUnits="userSpaceOnUse" x1="0" x2="0" y1="55.5" y2="147.5"><stop offset="0" stop-color="#fdebac"/><stop offset=".467" stop-color="#fdebac"/><stop offset=".511" stop-color="#fed597"/><stop offset=".533" stop-color="#fde5a7"/><stop offset=".554" stop-color="#fdebac"/><stop offset=".957" stop-color="#fdebac"/><stop offset=".978" stop-color="#fde7a9"/><stop offset="1" stop-color="#fec68a"/></linearGradient>
<linearGradient id="h205" gradientUnits="userSpaceOnUse" x1="0" x2="0" y1="55.5" y2="147.5"><stop offset="0" stop-color="#fde9aa"/><stop offset=".467" stop-color="#fde9aa"/><stop offset=".478" stop-color="#fde7a9"/><stop offset=".511" stop-color="#fed395"/><stop offset=".533" stop-color="#fde3a5"/><stop offset=".554" stop-color="#fde9aa"/><stop offset="1" stop-color="#fde9aa"/></linearGradient>
<linearGradient id="h206" gradientUnits="userSpaceOnUse" x1="0" x2="0" y1="55.5" y2="147.5"><stop offset="0" stop-color="#fdebac"/><stop offset=".467" stop-color="#fdebac"/><stop offset=".511" stop-color="#fed597"/><stop offset=".533" stop-color="#fde5a7"/><stop offset=".554" stop-color="#fdebac"/><stop offset="1" stop-color="#fdebac"/></linearGradient>
<filter id="nzd" x="0" y="0" width="100%" height="100%" color-interpolation-filters="sRGB"><feTurbulence type="fractalNoise" baseFrequency="0.9" numOctaves="2" seed="7"/><feColorMatrix type="matrix" values="0 0 0 0 0.93  0 0 0 0 0.35  0 0 0 0 0.30  0.7 0 0 0 -0.35"/><feGaussianBlur stdDeviation="0.5"/></filter>
<filter id="nzl" x="0" y="0" width="100%" height="100%" color-interpolation-filters="sRGB"><feTurbulence type="fractalNoise" baseFrequency="0.9" numOctaves="2" seed="7"/><feColorMatrix type="matrix" values="0 0 0 0 1  0 0 0 0 0.97  0 0 0 0 0.78  -0.6 0 0 0 0.3"/><feGaussianBlur stdDeviation="0.5"/></filter>
<linearGradient id="cbm" x1="0" x2="1" y1="0" y2="0"><stop offset="0.000" stop-color="#fcfdbf"/><stop offset="0.050" stop-color="#fde7a9"/><stop offset="0.100" stop-color="#fecf92"/><stop offset="0.150" stop-color="#feb77e"/><stop offset="0.200" stop-color="#fe9f6d"/><stop offset="0.250" stop-color="#fb8761"/><stop offset="0.300" stop-color="#f7705c"/><stop offset="0.350" stop-color="#ed5a5f"/><stop offset="0.400" stop-color="#de4968"/><stop offset="0.450" stop-color="#ca3e72"/><stop offset="0.500" stop-color="#b5367a"/><stop offset="0.550" stop-color="#a1307e"/><stop offset="0.600" stop-color="#8c2981"/><stop offset="0.650" stop-color="#782281"/><stop offset="0.700" stop-color="#641a80"/><stop offset="0.750" stop-color="#4f127b"/><stop offset="0.800" stop-color="#3b0f70"/><stop offset="0.850" stop-color="#251255"/><stop offset="0.900" stop-color="#140e36"/><stop offset="0.950" stop-color="#06051a"/><stop offset="1.000" stop-color="#000004"/></linearGradient>
<linearGradient id="cbp" x1="0" x2="1" y1="0" y2="0"><stop offset="0.000" stop-color="#c0640a"/><stop offset="0.042" stop-color="#dc7f13"/><stop offset="0.083" stop-color="#ef9e3c"/><stop offset="0.125" stop-color="#fdbd6e"/><stop offset="0.167" stop-color="#fed7a2"/><stop offset="0.208" stop-color="#fbe9cf"/><stop offset="0.250" stop-color="#f6f6f7"/><stop offset="0.292" stop-color="#eeeef3"/><stop offset="0.333" stop-color="#e5e7f0"/><stop offset="0.375" stop-color="#dddfed"/><stop offset="0.417" stop-color="#d4d4e8"/><stop offset="0.458" stop-color="#c9c8e1"/><stop offset="0.500" stop-color="#bfbbda"/><stop offset="0.542" stop-color="#b4aed3"/><stop offset="0.583" stop-color="#a79fca"/><stop offset="0.625" stop-color="#988dbe"/><stop offset="0.667" stop-color="#8a7eb3"/><stop offset="0.708" stop-color="#7d6da9"/><stop offset="0.750" stop-color="#70589f"/><stop offset="0.792" stop-color="#644395"/><stop offset="0.833" stop-color="#582e8c"/><stop offset="0.875" stop-color="#4d207d"/><stop offset="0.917" stop-color="#42156c"/><stop offset="0.958" stop-color="#380b5c"/><stop offset="1.000" stop-color="#2d004b"/></linearGradient>
<clipPath id="bclip"><rect x="68.8" y="238.9" width="133.60000000000002" height="31.49999999999997"/></clipPath>
<filter id="bb3" x="-30%" y="-30%" width="160%" height="160%"><feGaussianBlur stdDeviation="3"/></filter>
<filter id="bb2" x="-30%" y="-30%" width="160%" height="160%"><feGaussianBlur stdDeviation="2"/></filter>
<linearGradient id="p0" gradientUnits="userSpaceOnUse" x1="0" x2="0" y1="238.5" y2="271.5"><stop offset="0" stop-color="#fbead2"/><stop offset=".242" stop-color="#f7f7f6"/><stop offset=".333" stop-color="#f3f3f5"/><stop offset=".515" stop-color="#dcddec"/><stop offset=".697" stop-color="#b1aad1"/><stop offset=".818" stop-color="#8477af"/><stop offset=".939" stop-color="#552889"/><stop offset=".97" stop-color="#4c1f7b"/><stop offset="1" stop-color="#4c1f7b"/></linearGradient>
<linearGradient id="p1" gradientUnits="userSpaceOnUse" x1="0" x2="0" y1="238.5" y2="271.5"><stop offset="0" stop-color="#fbead2"/><stop offset=".121" stop-color="#f9f1e6"/><stop offset=".273" stop-color="#f6f6f7"/><stop offset=".394" stop-color="#eeeef3"/><stop offset=".545" stop-color="#d8daeb"/><stop offset=".697" stop-color="#b4aed3"/><stop offset=".818" stop-color="#867ab0"/><stop offset=".939" stop-color="#572b8a"/><stop offset=".97" stop-color="#4c1f7b"/><stop offset="1" stop-color="#4c1f7b"/></linearGradient>
<linearGradient id="p2" gradientUnits="userSpaceOnUse" x1="0" x2="0" y1="238.5" y2="271.5"><stop offset="0" stop-color="#fbead2"/><stop offset=".273" stop-color="#f7f7f6"/><stop offset=".394" stop-color="#eff0f4"/><stop offset=".576" stop-color="#d5d6e9"/><stop offset=".636" stop-color="#c8c6e0"/><stop offset=".727" stop-color="#ada6ce"/><stop offset=".848" stop-color="#7d6da9"/><stop offset=".939" stop-color="#572b8a"/><stop offset=".97" stop-color="#4c1f7b"/><stop offset="1" stop-color="#4c1f7b"/></linearGradient>
<linearGradient id="p3" gradientUnits="userSpaceOnUse" x1="0" x2="0" y1="238.5" y2="271.5"><stop offset="0" stop-color="#fbead2"/><stop offset=".273" stop-color="#f7f7f6"/><stop offset=".394" stop-color="#f0f1f4"/><stop offset=".545" stop-color="#dddfed"/><stop offset=".606" stop-color="#d1d1e6"/><stop offset=".727" stop-color="#b1aad1"/><stop offset=".848" stop-color="#7e70ab"/><stop offset=".939" stop-color="#572b8a"/><stop offset=".97" stop-color="#4c1f7b"/><stop offset="1" stop-color="#4c1f7b"/></linearGradient>
<linearGradient id="p4" gradientUnits="userSpaceOnUse" x1="0" x2="0" y1="238.5" y2="271.5"><stop offset="0" stop-color="#fbead2"/><stop offset=".273" stop-color="#f7f7f6"/><stop offset=".394" stop-color="#f2f2f5"/><stop offset=".576" stop-color="#d9dbeb"/><stop offset=".667" stop-color="#c5c2de"/><stop offset=".758" stop-color="#a9a1cb"/><stop offset=".848" stop-color="#8073ac"/><stop offset=".939" stop-color="#572b8a"/><stop offset=".97" stop-color="#4c1f7b"/><stop offset="1" stop-color="#4c1f7b"/></linearGradient>
<linearGradient id="p5" gradientUnits="userSpaceOnUse" x1="0" x2="0" y1="238.5" y2="271.5"><stop offset="0" stop-color="#fbead2"/><stop offset=".182" stop-color="#f8f3ec"/><stop offset=".303" stop-color="#f7f7f6"/><stop offset=".455" stop-color="#ededf3"/><stop offset=".606" stop-color="#d7d8ea"/><stop offset=".758" stop-color="#ada6ce"/><stop offset=".848" stop-color="#8477af"/><stop offset=".939" stop-color="#582e8c"/><stop offset=".97" stop-color="#4c1f7b"/><stop offset="1" stop-color="#4c1f7b"/></linearGradient>
<linearGradient id="p6" gradientUnits="userSpaceOnUse" x1="0" x2="0" y1="238.5" y2="271.5"><stop offset="0" stop-color="#fbead2"/><stop offset=".303" stop-color="#f7f7f6"/><stop offset=".424" stop-color="#f2f2f5"/><stop offset=".606" stop-color="#dadcec"/><stop offset=".758" stop-color="#b3acd2"/><stop offset=".848" stop-color="#887cb2"/><stop offset=".939" stop-color="#5a318d"/><stop offset=".97" stop-color="#4c1f7b"/><stop offset="1" stop-color="#4c1f7b"/></linearGradient>
<linearGradient id="p7" gradientUnits="userSpaceOnUse" x1="0" x2="0" y1="238.5" y2="271.5"><stop offset="0" stop-color="#fbead2"/><stop offset=".303" stop-color="#f7f7f6"/><stop offset=".424" stop-color="#f3f3f5"/><stop offset=".545" stop-color="#e5e7f0"/><stop offset=".636" stop-color="#d7d8ea"/><stop offset=".697" stop-color="#c8c6e0"/><stop offset=".788" stop-color="#a9a1cb"/><stop offset=".879" stop-color="#7b6aa8"/><stop offset=".939" stop-color="#5a318d"/><stop offset=".97" stop-color="#4c1f7b"/><stop offset="1" stop-color="#4c1f7b"/></linearGradient>
<linearGradient id="p8" gradientUnits="userSpaceOnUse" x1="0" x2="0" y1="238.5" y2="271.5"><stop offset="0" stop-color="#fbead2"/><stop offset=".182" stop-color="#f9f2e9"/><stop offset=".333" stop-color="#f7f7f6"/><stop offset=".485" stop-color="#eeeef3"/><stop offset=".636" stop-color="#d9dbeb"/><stop offset=".697" stop-color="#cbc9e2"/><stop offset=".788" stop-color="#ada6ce"/><stop offset=".879" stop-color="#7d6da9"/><stop offset=".939" stop-color="#5a318d"/><stop offset=".97" stop-color="#4c1f7b"/><stop offset="1" stop-color="#4c1f7b"/></linearGradient>
<linearGradient id="p9" gradientUnits="userSpaceOnUse" x1="0" x2="0" y1="238.5" y2="271.5"><stop offset="0" stop-color="#fbead2"/><stop offset=".212" stop-color="#f8f3ec"/><stop offset=".333" stop-color="#f7f7f6"/><stop offset=".515" stop-color="#ededf3"/><stop offset=".636" stop-color="#dcddec"/><stop offset=".697" stop-color="#cecde4"/><stop offset=".788" stop-color="#b1aad1"/><stop offset=".879" stop-color="#8073ac"/><stop offset=".939" stop-color="#5c348e"/><stop offset=".97" stop-color="#4c1f7b"/><stop offset="1" stop-color="#4c1f7b"/></linearGradient>
<linearGradient id="p10" gradientUnits="userSpaceOnUse" x1="0" x2="0" y1="238.5" y2="271.5"><stop offset="0" stop-color="#fbead2"/><stop offset=".364" stop-color="#f7f7f6"/><stop offset=".515" stop-color="#eeeef3"/><stop offset=".667" stop-color="#d8daeb"/><stop offset=".697" stop-color="#d2d3e7"/><stop offset=".788" stop-color="#b6b0d4"/><stop offset=".879" stop-color="#8275ad"/><stop offset=".939" stop-color="#5d3790"/><stop offset=".97" stop-color="#4c1f7b"/><stop offset="1" stop-color="#4c1f7b"/></linearGradient>
<linearGradient id="p11" gradientUnits="userSpaceOnUse" x1="0" x2="0" y1="238.5" y2="271.5"><stop offset="0" stop-color="#fbead2"/><stop offset=".364" stop-color="#f7f7f6"/><stop offset=".545" stop-color="#ededf3"/><stop offset=".667" stop-color="#dcddec"/><stop offset=".727" stop-color="#cecde4"/><stop offset=".818" stop-color="#ada6ce"/><stop offset=".879" stop-color="#887cb2"/><stop offset=".939" stop-color="#5f3a91"/><stop offset=".97" stop-color="#4c1f7b"/><stop offset="1" stop-color="#4c1f7b"/></linearGradient>
<linearGradient id="p12" gradientUnits="userSpaceOnUse" x1="0" x2="0" y1="238.5" y2="271.5"><stop offset="0" stop-color="#fbead2"/><stop offset=".242" stop-color="#f8f3ec"/><stop offset=".394" stop-color="#f7f7f6"/><stop offset=".515" stop-color="#f2f2f5"/><stop offset=".697" stop-color="#d9dbeb"/><stop offset=".758" stop-color="#c9c8e1"/><stop offset=".818" stop-color="#b3acd2"/><stop offset=".879" stop-color="#8e82b6"/><stop offset=".909" stop-color="#7764a5"/><stop offset=".939" stop-color="#613d93"/><stop offset=".97" stop-color="#4c1f7b"/><stop offset="1" stop-color="#4c1f7b"/></linearGradient>
<linearGradient id="p13" gradientUnits="userSpaceOnUse" x1="0" x2="0" y1="238.5" y2="271.5"><stop offset="0" stop-color="#fbead2"/><stop offset=".394" stop-color="#f7f7f6"/><stop offset=".576" stop-color="#eeeef3"/><stop offset=".727" stop-color="#d8daeb"/><stop offset=".788" stop-color="#c6c4df"/><stop offset=".848" stop-color="#a9a1cb"/><stop offset=".909" stop-color="#7d6da9"/><stop offset=".939" stop-color="#634094"/><stop offset=".97" stop-color="#4c1f7b"/><stop offset="1" stop-color="#4c1f7b"/></linearGradient>
<linearGradient id="p14" gradientUnits="userSpaceOnUse" x1="0" x2="0" y1="238.5" y2="271.5"><stop offset="0" stop-color="#fbead2"/><stop offset=".424" stop-color="#f7f7f6"/><stop offset=".606" stop-color="#eeeef3"/><stop offset=".727" stop-color="#dddfed"/><stop offset=".758" stop-color="#d7d8ea"/><stop offset=".848" stop-color="#b4aed3"/><stop offset=".909" stop-color="#8477af"/><stop offset=".939" stop-color="#664697"/><stop offset=".97" stop-color="#4c1f7b"/><stop offset="1" stop-color="#4c1f7b"/></linearGradient>
<linearGradient id="p15" gradientUnits="userSpaceOnUse" x1="0" x2="0" y1="238.5" y2="271.5"><stop offset="0" stop-color="#fbead2"/><stop offset=".182" stop-color="#f9f0e4"/><stop offset=".455" stop-color="#f7f7f6"/><stop offset=".636" stop-color="#eeeef3"/><stop offset=".758" stop-color="#dcddec"/><stop offset=".818" stop-color="#cbc9e2"/><stop offset=".879" stop-color="#aba3cd"/><stop offset=".909" stop-color="#8e82b6"/><stop offset=".939" stop-color="#6d529c"/><stop offset=".97" stop-color="#4c1f7b"/><stop offset="1" stop-color="#4c1f7b"/></linearGradient>
<linearGradient id="p16" gradientUnits="userSpaceOnUse" x1="0" x2="0" y1="238.5" y2="271.5"><stop offset="0" stop-color="#fbead2"/><stop offset=".303" stop-color="#f8f3ec"/><stop offset=".485" stop-color="#f7f7f6"/><stop offset=".667" stop-color="#eeeef3"/><stop offset=".788" stop-color="#dddfed"/><stop offset=".848" stop-color="#c8c6e0"/><stop offset=".879" stop-color="#b9b3d6"/><stop offset=".909" stop-color="#9d94c2"/><stop offset=".939" stop-color="#7661a4"/><stop offset=".97" stop-color="#4c1f7b"/><stop offset="1" stop-color="#4c1f7b"/></linearGradient>
<linearGradient id="p17" gradientUnits="userSpaceOnUse" x1="0" x2="0" y1="238.5" y2="271.5"><stop offset="0" stop-color="#fbead2"/><stop offset=".212" stop-color="#f9f0e4"/><stop offset=".515" stop-color="#f7f7f6"/><stop offset=".667" stop-color="#f2f2f5"/><stop offset=".818" stop-color="#dee0ed"/><stop offset=".879" stop-color="#c8c6e0"/><stop offset=".909" stop-color="#b4aed3"/><stop offset=".939" stop-color="#8c80b5"/><stop offset=".97" stop-color="#4c1f7b"/><stop offset="1" stop-color="#4c1f7b"/></linearGradient>
<linearGradient id="p18" gradientUnits="userSpaceOnUse" x1="0" x2="0" y1="238.5" y2="271.5"><stop offset="0" stop-color="#fbead2"/><stop offset=".545" stop-color="#f7f7f6"/><stop offset=".758" stop-color="#eff0f4"/><stop offset=".818" stop-color="#e8e9f1"/><stop offset=".879" stop-color="#d9dbeb"/><stop offset=".909" stop-color="#cecde4"/><stop offset=".97" stop-color="#a198c5"/><stop offset="1" stop-color="#a198c5"/></linearGradient>
<linearGradient id="p19" gradientUnits="userSpaceOnUse" x1="0" x2="0" y1="238.5" y2="271.5"><stop offset="0" stop-color="#fbead2"/><stop offset=".242" stop-color="#f9f0e4"/><stop offset=".636" stop-color="#f7f7f6"/><stop offset=".788" stop-color="#f3f3f5"/><stop offset=".97" stop-color="#d8daeb"/><stop offset="1" stop-color="#d8daeb"/></linearGradient>
<linearGradient id="p20" gradientUnits="userSpaceOnUse" x1="0" x2="0" y1="238.5" y2="271.5"><stop offset="0" stop-color="#fbead2"/><stop offset=".273" stop-color="#f9f0e4"/><stop offset=".576" stop-color="#f8f5f1"/><stop offset=".788" stop-color="#f6f6f7"/><stop offset="1" stop-color="#eff0f4"/></linearGradient>
<linearGradient id="p21" gradientUnits="userSpaceOnUse" x1="0" x2="0" y1="238.5" y2="271.5"><stop offset="0" stop-color="#fbead2"/><stop offset=".515" stop-color="#f8f3ec"/><stop offset="1" stop-color="#f8f5f1"/></linearGradient>
<linearGradient id="p22" gradientUnits="userSpaceOnUse" x1="0" x2="0" y1="238.5" y2="271.5"><stop offset="0" stop-color="#fbead2"/><stop offset=".364" stop-color="#f9f0e4"/><stop offset=".576" stop-color="#f9f2e9"/><stop offset=".758" stop-color="#f9f2e9"/><stop offset="1" stop-color="#faedda"/></linearGradient>
<linearGradient id="p23" gradientUnits="userSpaceOnUse" x1="0" x2="0" y1="238.5" y2="271.5"><stop offset="0" stop-color="#fbead2"/><stop offset=".333" stop-color="#f9efe1"/><stop offset=".667" stop-color="#f9f0e4"/><stop offset=".848" stop-color="#fbebd5"/><stop offset=".909" stop-color="#fde5c3"/><stop offset=".97" stop-color="#fed8a6"/><stop offset="1" stop-color="#fed8a6"/></linearGradient>
<linearGradient id="p24" gradientUnits="userSpaceOnUse" x1="0" x2="0" y1="238.5" y2="271.5"><stop offset="0" stop-color="#fbead2"/><stop offset=".303" stop-color="#faeedf"/><stop offset=".606" stop-color="#faeedf"/><stop offset=".788" stop-color="#fbead2"/><stop offset=".848" stop-color="#fde5c3"/><stop offset=".879" stop-color="#fee0b6"/><stop offset=".909" stop-color="#fed299"/><stop offset=".939" stop-color="#fdba68"/><stop offset=".97" stop-color="#dc7f13"/><stop offset="1" stop-color="#dc7f13"/></linearGradient>
<linearGradient id="p25" gradientUnits="userSpaceOnUse" x1="0" x2="0" y1="238.5" y2="271.5"><stop offset="0" stop-color="#fbead2"/><stop offset=".152" stop-color="#faedda"/><stop offset=".515" stop-color="#faeedc"/><stop offset=".606" stop-color="#faedda"/><stop offset=".758" stop-color="#fce7ca"/><stop offset=".818" stop-color="#fde2bb"/><stop offset=".848" stop-color="#fedbac"/><stop offset=".879" stop-color="#fecf92"/><stop offset=".909" stop-color="#fdbc6b"/><stop offset=".939" stop-color="#e78f27"/><stop offset=".97" stop-color="#a85206"/><stop offset="1" stop-color="#a85206"/></linearGradient>
<linearGradient id="p26" gradientUnits="userSpaceOnUse" x1="0" x2="0" y1="238.5" y2="271.5"><stop offset="0" stop-color="#fbead2"/><stop offset=".182" stop-color="#faedda"/><stop offset=".485" stop-color="#faedda"/><stop offset=".727" stop-color="#fce5c5"/><stop offset=".788" stop-color="#fee0b6"/><stop offset=".848" stop-color="#fecf92"/><stop offset=".879" stop-color="#fdc175"/><stop offset=".909" stop-color="#f3a649"/><stop offset=".939" stop-color="#d97b12"/><stop offset=".97" stop-color="#a85206"/><stop offset="1" stop-color="#a85206"/></linearGradient>
<linearGradient id="p27" gradientUnits="userSpaceOnUse" x1="0" x2="0" y1="238.5" y2="271.5"><stop offset="0" stop-color="#fbead2"/><stop offset=".212" stop-color="#faedda"/><stop offset=".455" stop-color="#faecd7"/><stop offset=".636" stop-color="#fce7ca"/><stop offset=".727" stop-color="#fde2bb"/><stop offset=".788" stop-color="#fed8a6"/><stop offset=".848" stop-color="#fdc47b"/><stop offset=".879" stop-color="#fab35b"/><stop offset=".909" stop-color="#ea9530"/><stop offset=".939" stop-color="#d0730f"/><stop offset=".97" stop-color="#a85206"/><stop offset="1" stop-color="#a85206"/></linearGradient>
<linearGradient id="p28" gradientUnits="userSpaceOnUse" x1="0" x2="0" y1="238.5" y2="271.5"><stop offset="0" stop-color="#fbead2"/><stop offset=".091" stop-color="#faecd7"/><stop offset=".424" stop-color="#fbebd5"/><stop offset=".606" stop-color="#fce6c8"/><stop offset=".697" stop-color="#fee1b9"/><stop offset=".758" stop-color="#fed8a6"/><stop offset=".818" stop-color="#fdc782"/><stop offset=".848" stop-color="#fdba68"/><stop offset=".879" stop-color="#f3a649"/><stop offset=".909" stop-color="#e58a20"/><stop offset=".939" stop-color="#c96d0d"/><stop offset=".97" stop-color="#a85206"/><stop offset="1" stop-color="#a85206"/></linearGradient>
<linearGradient id="p29" gradientUnits="userSpaceOnUse" x1="0" x2="0" y1="238.5" y2="271.5"><stop offset="0" stop-color="#fbead2"/><stop offset=".091" stop-color="#faecd7"/><stop offset=".364" stop-color="#fbebd5"/><stop offset=".606" stop-color="#fde5c3"/><stop offset=".667" stop-color="#fee1b9"/><stop offset=".758" stop-color="#fed299"/><stop offset=".818" stop-color="#fdbf72"/><stop offset=".848" stop-color="#f9b158"/><stop offset=".909" stop-color="#e08214"/><stop offset=".97" stop-color="#a85206"/><stop offset="1" stop-color="#a85206"/></linearGradient>
<linearGradient id="p30" gradientUnits="userSpaceOnUse" x1="0" x2="0" y1="238.5" y2="271.5"><stop offset="0" stop-color="#fbead2"/><stop offset=".091" stop-color="#faecd7"/><stop offset=".333" stop-color="#fbebd5"/><stop offset=".545" stop-color="#fce5c5"/><stop offset=".636" stop-color="#fee0b6"/><stop offset=".697" stop-color="#fed8a6"/><stop offset=".758" stop-color="#fdcc8c"/><stop offset=".818" stop-color="#fdb965"/><stop offset=".909" stop-color="#db7d12"/><stop offset=".97" stop-color="#a85206"/><stop offset="1" stop-color="#a85206"/></linearGradient>
<linearGradient id="p31" gradientUnits="userSpaceOnUse" x1="0" x2="0" y1="238.5" y2="271.5"><stop offset="0" stop-color="#fbead2"/><stop offset=".061" stop-color="#faecd7"/><stop offset=".303" stop-color="#fbebd5"/><stop offset=".515" stop-color="#fce5c5"/><stop offset=".606" stop-color="#fee0b6"/><stop offset=".667" stop-color="#fed8a6"/><stop offset=".727" stop-color="#fecd8f"/><stop offset=".788" stop-color="#fdbd6e"/><stop offset=".818" stop-color="#f9b158"/><stop offset=".879" stop-color="#e68d23"/><stop offset=".909" stop-color="#d57811"/><stop offset=".97" stop-color="#a85206"/><stop offset="1" stop-color="#a85206"/></linearGradient>
<linearGradient id="p32" gradientUnits="userSpaceOnUse" x1="0" x2="0" y1="238.5" y2="271.5"><stop offset="0" stop-color="#fbebd5"/><stop offset=".061" stop-color="#faedda"/><stop offset=".242" stop-color="#faecd7"/><stop offset=".455" stop-color="#fce6c8"/><stop offset=".576" stop-color="#fee1b9"/><stop offset=".667" stop-color="#fed59f"/><stop offset=".788" stop-color="#fdb965"/><stop offset=".879" stop-color="#e2861a"/><stop offset=".909" stop-color="#d27510"/><stop offset=".97" stop-color="#a85206"/><stop offset="1" stop-color="#a85206"/></linearGradient>
<linearGradient id="p33" gradientUnits="userSpaceOnUse" x1="0" x2="0" y1="238.5" y2="271.5"><stop offset="0" stop-color="#faeedc"/><stop offset=".121" stop-color="#faeedc"/><stop offset=".273" stop-color="#fbebd5"/><stop offset=".485" stop-color="#fde5c3"/><stop offset=".576" stop-color="#fedeb3"/><stop offset=".667" stop-color="#fed299"/><stop offset=".727" stop-color="#fdc57f"/><stop offset=".788" stop-color="#fab35b"/><stop offset=".818" stop-color="#f3a649"/><stop offset=".879" stop-color="#e08214"/><stop offset=".97" stop-color="#a85206"/><stop offset="1" stop-color="#a85206"/></linearGradient>
<linearGradient id="p34" gradientUnits="userSpaceOnUse" x1="0" x2="0" y1="238.5" y2="271.5"><stop offset="0" stop-color="#f9efe1"/><stop offset=".273" stop-color="#fbebd5"/><stop offset=".485" stop-color="#fde4c0"/><stop offset=".545" stop-color="#fee0b6"/><stop offset=".667" stop-color="#fecf92"/><stop offset=".727" stop-color="#fdc278"/><stop offset=".788" stop-color="#f8ae55"/><stop offset=".879" stop-color="#de8013"/><stop offset=".97" stop-color="#a85206"/><stop offset="1" stop-color="#a85206"/></linearGradient>
<linearGradient id="p35" gradientUnits="userSpaceOnUse" x1="0" x2="0" y1="238.5" y2="271.5"><stop offset="0" stop-color="#f9f2e9"/><stop offset=".273" stop-color="#fbebd5"/><stop offset=".485" stop-color="#fde3be"/><stop offset=".545" stop-color="#fedeb3"/><stop offset=".667" stop-color="#fdcc8c"/><stop offset=".727" stop-color="#fdbf72"/><stop offset=".788" stop-color="#f6aa4f"/><stop offset=".848" stop-color="#e68d23"/><stop offset=".879" stop-color="#db7d12"/><stop offset=".97" stop-color="#a85206"/><stop offset="1" stop-color="#a85206"/></linearGradient>
<linearGradient id="p36" gradientUnits="userSpaceOnUse" x1="0" x2="0" y1="238.5" y2="271.5"><stop offset="0" stop-color="#f8f3ec"/><stop offset=".273" stop-color="#fbebd5"/><stop offset=".455" stop-color="#fde4c0"/><stop offset=".515" stop-color="#fee0b6"/><stop offset=".636" stop-color="#fecf92"/><stop offset=".758" stop-color="#fab35b"/><stop offset=".848" stop-color="#e58a20"/><stop offset=".879" stop-color="#d97b12"/><stop offset=".97" stop-color="#a85206"/><stop offset="1" stop-color="#a85206"/></linearGradient>
<linearGradient id="p37" gradientUnits="userSpaceOnUse" x1="0" x2="0" y1="238.5" y2="271.5"><stop offset="0" stop-color="#f8f4ee"/><stop offset=".424" stop-color="#fde5c3"/><stop offset=".515" stop-color="#fedeb3"/><stop offset=".576" stop-color="#fed7a2"/><stop offset=".636" stop-color="#fecd8f"/><stop offset=".697" stop-color="#fdc175"/><stop offset=".758" stop-color="#f8ae55"/><stop offset=".848" stop-color="#e2861a"/><stop offset=".879" stop-color="#d77a11"/><stop offset=".97" stop-color="#a85206"/><stop offset="1" stop-color="#a85206"/></linearGradient>
<linearGradient id="p38" gradientUnits="userSpaceOnUse" x1="0" x2="0" y1="238.5" y2="271.5"><stop offset="0" stop-color="#f8f4ee"/><stop offset=".364" stop-color="#fce7ca"/><stop offset=".545" stop-color="#fedaa9"/><stop offset=".667" stop-color="#fdc57f"/><stop offset=".727" stop-color="#fcb761"/><stop offset=".758" stop-color="#f7ac52"/><stop offset=".848" stop-color="#e18417"/><stop offset=".939" stop-color="#b75c07"/><stop offset=".97" stop-color="#a85206"/><stop offset="1" stop-color="#a85206"/></linearGradient>
<linearGradient id="p39" gradientUnits="userSpaceOnUse" x1="0" x2="0" y1="238.5" y2="271.5"><stop offset="0" stop-color="#f8f4ee"/><stop offset=".273" stop-color="#fbebd5"/><stop offset=".455" stop-color="#fee1b9"/><stop offset=".515" stop-color="#fedbac"/><stop offset=".606" stop-color="#fecd8f"/><stop offset=".697" stop-color="#fdba68"/><stop offset=".758" stop-color="#f4a84c"/><stop offset=".848" stop-color="#de8013"/><stop offset=".97" stop-color="#a85206"/><stop offset="1" stop-color="#a85206"/></linearGradient>
<linearGradient id="p40" gradientUnits="userSpaceOnUse" x1="0" x2="0" y1="238.5" y2="271.5"><stop offset="0" stop-color="#f8f4ee"/><stop offset=".273" stop-color="#fbebd5"/><stop offset=".424" stop-color="#fde3be"/><stop offset=".606" stop-color="#fdca88"/><stop offset=".697" stop-color="#fcb761"/><stop offset=".848" stop-color="#dc7f13"/><stop offset=".939" stop-color="#b65a07"/><stop offset=".97" stop-color="#a85206"/><stop offset="1" stop-color="#a85206"/></linearGradient>
<linearGradient id="p41" gradientUnits="userSpaceOnUse" x1="0" x2="0" y1="238.5" y2="271.5"><stop offset="0" stop-color="#f8f4ee"/><stop offset=".182" stop-color="#faeedf"/><stop offset=".424" stop-color="#fde2bb"/><stop offset=".545" stop-color="#fed299"/><stop offset=".667" stop-color="#fdbc6b"/><stop offset=".758" stop-color="#f0a03f"/><stop offset=".818" stop-color="#e2861a"/><stop offset=".848" stop-color="#d97b12"/><stop offset=".97" stop-color="#a85206"/><stop offset="1" stop-color="#a85206"/></linearGradient>
<linearGradient id="p42" gradientUnits="userSpaceOnUse" x1="0" x2="0" y1="238.5" y2="271.5"><stop offset="0" stop-color="#f8f4ee"/><stop offset=".182" stop-color="#faeedf"/><stop offset=".424" stop-color="#fde3be"/><stop offset=".606" stop-color="#fdca88"/><stop offset=".697" stop-color="#fcb761"/><stop offset=".727" stop-color="#f8ae55"/><stop offset=".818" stop-color="#e58a20"/><stop offset=".848" stop-color="#dc7f13"/><stop offset=".939" stop-color="#b65a07"/><stop offset=".97" stop-color="#a85206"/><stop offset="1" stop-color="#a85206"/></linearGradient>
<linearGradient id="p43" gradientUnits="userSpaceOnUse" x1="0" x2="0" y1="238.5" y2="271.5"><stop offset="0" stop-color="#f8f4ee"/><stop offset=".242" stop-color="#faecd7"/><stop offset=".455" stop-color="#fee1b9"/><stop offset=".576" stop-color="#fed299"/><stop offset=".697" stop-color="#fdba68"/><stop offset=".758" stop-color="#f3a649"/><stop offset=".848" stop-color="#de8013"/><stop offset=".97" stop-color="#a85206"/><stop offset="1" stop-color="#a85206"/></linearGradient>
<linearGradient id="p44" gradientUnits="userSpaceOnUse" x1="0" x2="0" y1="238.5" y2="271.5"><stop offset="0" stop-color="#f8f4ee"/><stop offset=".394" stop-color="#fce5c5"/><stop offset=".485" stop-color="#fee0b6"/><stop offset=".606" stop-color="#fecf92"/><stop offset=".727" stop-color="#fbb55e"/><stop offset=".758" stop-color="#f6aa4f"/><stop offset=".848" stop-color="#e08214"/><stop offset=".97" stop-color="#a85206"/><stop offset="1" stop-color="#a85206"/></linearGradient>
<linearGradient id="p45" gradientUnits="userSpaceOnUse" x1="0" x2="0" y1="238.5" y2="271.5"><stop offset="0" stop-color="#f8f4ee"/><stop offset=".424" stop-color="#fde5c3"/><stop offset=".515" stop-color="#fedeb3"/><stop offset=".576" stop-color="#fed7a2"/><stop offset=".636" stop-color="#fecd8f"/><stop offset=".727" stop-color="#fdba68"/><stop offset=".788" stop-color="#f2a446"/><stop offset=".848" stop-color="#e3881d"/><stop offset=".879" stop-color="#d77a11"/><stop offset=".97" stop-color="#a85206"/><stop offset="1" stop-color="#a85206"/></linearGradient>
<linearGradient id="p46" gradientUnits="userSpaceOnUse" x1="0" x2="0" y1="238.5" y2="271.5"><stop offset="0" stop-color="#f9f2e9"/><stop offset=".455" stop-color="#fde4c0"/><stop offset=".545" stop-color="#feddaf"/><stop offset=".636" stop-color="#fecf92"/><stop offset=".697" stop-color="#fdc47b"/><stop offset=".758" stop-color="#fab35b"/><stop offset=".848" stop-color="#e58a20"/><stop offset=".879" stop-color="#d97b12"/><stop offset=".97" stop-color="#a85206"/><stop offset="1" stop-color="#a85206"/></linearGradient>
<linearGradient id="p47" gradientUnits="userSpaceOnUse" x1="0" x2="0" y1="238.5" y2="271.5"><stop offset="0" stop-color="#f9f0e4"/><stop offset=".273" stop-color="#fbebd5"/><stop offset=".485" stop-color="#fde3be"/><stop offset=".545" stop-color="#fedeb3"/><stop offset=".636" stop-color="#fed299"/><stop offset=".758" stop-color="#fcb761"/><stop offset=".818" stop-color="#ef9e3c"/><stop offset=".879" stop-color="#db7d12"/><stop offset=".97" stop-color="#a85206"/><stop offset="1" stop-color="#a85206"/></linearGradient>
<linearGradient id="p48" gradientUnits="userSpaceOnUse" x1="0" x2="0" y1="238.5" y2="271.5"><stop offset="0" stop-color="#faeedc"/><stop offset=".121" stop-color="#faeedc"/><stop offset=".273" stop-color="#fbebd5"/><stop offset=".424" stop-color="#fce6c8"/><stop offset=".545" stop-color="#fee0b6"/><stop offset=".667" stop-color="#fecf92"/><stop offset=".727" stop-color="#fdc278"/><stop offset=".788" stop-color="#f8ae55"/><stop offset=".818" stop-color="#f1a242"/><stop offset=".879" stop-color="#de8013"/><stop offset=".97" stop-color="#a85206"/><stop offset="1" stop-color="#a85206"/></linearGradient>
<linearGradient id="p49" gradientUnits="userSpaceOnUse" x1="0" x2="0" y1="238.5" y2="271.5"><stop offset="0" stop-color="#fbebd5"/><stop offset=".061" stop-color="#faedda"/><stop offset=".273" stop-color="#fbebd5"/><stop offset=".485" stop-color="#fde5c3"/><stop offset=".576" stop-color="#fedeb3"/><stop offset=".697" stop-color="#fecd8f"/><stop offset=".758" stop-color="#fdbf72"/><stop offset=".788" stop-color="#fbb55e"/><stop offset=".848" stop-color="#eb9733"/><stop offset=".879" stop-color="#e18417"/><stop offset=".97" stop-color="#a85206"/><stop offset="1" stop-color="#a85206"/></linearGradient>
<linearGradient id="p50" gradientUnits="userSpaceOnUse" x1="0" x2="0" y1="238.5" y2="271.5"><stop offset="0" stop-color="#fbead2"/><stop offset=".061" stop-color="#faecd7"/><stop offset=".333" stop-color="#fbead2"/><stop offset=".485" stop-color="#fce5c5"/><stop offset=".606" stop-color="#fedeb3"/><stop offset=".727" stop-color="#fdca88"/><stop offset=".788" stop-color="#fdba68"/><stop offset=".818" stop-color="#f7ac52"/><stop offset=".879" stop-color="#e3881d"/><stop offset=".909" stop-color="#d47610"/><stop offset=".97" stop-color="#a85206"/><stop offset="1" stop-color="#a85206"/></linearGradient>
<linearGradient id="p51" gradientUnits="userSpaceOnUse" x1="0" x2="0" y1="238.5" y2="271.5"><stop offset="0" stop-color="#fbead2"/><stop offset=".091" stop-color="#faecd7"/><stop offset=".303" stop-color="#fbebd5"/><stop offset=".515" stop-color="#fce5c5"/><stop offset=".636" stop-color="#fedeb3"/><stop offset=".727" stop-color="#fecf92"/><stop offset=".788" stop-color="#fdbf72"/><stop offset=".818" stop-color="#fab35b"/><stop offset=".879" stop-color="#e78f27"/><stop offset=".909" stop-color="#d77a11"/><stop offset=".97" stop-color="#a85206"/><stop offset="1" stop-color="#a85206"/></linearGradient>
<linearGradient id="p52" gradientUnits="userSpaceOnUse" x1="0" x2="0" y1="238.5" y2="271.5"><stop offset="0" stop-color="#fbead2"/><stop offset=".091" stop-color="#faecd7"/><stop offset=".333" stop-color="#fbebd5"/><stop offset=".576" stop-color="#fde5c3"/><stop offset=".667" stop-color="#fedeb3"/><stop offset=".788" stop-color="#fdc57f"/><stop offset=".818" stop-color="#fdba68"/><stop offset=".848" stop-color="#f6aa4f"/><stop offset=".909" stop-color="#db7d12"/><stop offset=".97" stop-color="#a85206"/><stop offset="1" stop-color="#a85206"/></linearGradient>
<linearGradient id="p53" gradientUnits="userSpaceOnUse" x1="0" x2="0" y1="238.5" y2="271.5"><stop offset="0" stop-color="#fbead2"/><stop offset=".121" stop-color="#faecd7"/><stop offset=".394" stop-color="#fbebd5"/><stop offset=".576" stop-color="#fce6c8"/><stop offset=".697" stop-color="#fedeb3"/><stop offset=".788" stop-color="#fdcc8c"/><stop offset=".848" stop-color="#fbb55e"/><stop offset=".909" stop-color="#e18417"/><stop offset=".97" stop-color="#a85206"/><stop offset="1" stop-color="#a85206"/></linearGradient>
<linearGradient id="p54" gradientUnits="userSpaceOnUse" x1="0" x2="0" y1="238.5" y2="271.5"><stop offset="0" stop-color="#fbead2"/><stop offset=".121" stop-color="#faecd7"/><stop offset=".455" stop-color="#fbebd5"/><stop offset=".576" stop-color="#fce8cd"/><stop offset=".697" stop-color="#fde2bb"/><stop offset=".758" stop-color="#fedaa9"/><stop offset=".788" stop-color="#fed299"/><stop offset=".848" stop-color="#fdbd6e"/><stop offset=".879" stop-color="#f6aa4f"/><stop offset=".909" stop-color="#e68d23"/><stop offset=".939" stop-color="#cb6e0d"/><stop offset=".97" stop-color="#a85206"/><stop offset="1" stop-color="#a85206"/></linearGradient>
<linearGradient id="p55" gradientUnits="userSpaceOnUse" x1="0" x2="0" y1="238.5" y2="271.5"><stop offset="0" stop-color="#fbead2"/><stop offset=".212" stop-color="#faedda"/><stop offset=".364" stop-color="#faedda"/><stop offset=".576" stop-color="#fbead2"/><stop offset=".727" stop-color="#fde3be"/><stop offset=".758" stop-color="#fee0b6"/><stop offset=".818" stop-color="#fed299"/><stop offset=".848" stop-color="#fdc782"/><stop offset=".879" stop-color="#fcb761"/><stop offset=".909" stop-color="#ed9936"/><stop offset=".939" stop-color="#d27510"/><stop offset=".97" stop-color="#a85206"/><stop offset="1" stop-color="#a85206"/></linearGradient>
<linearGradient id="p56" gradientUnits="userSpaceOnUse" x1="0" x2="0" y1="238.5" y2="271.5"><stop offset="0" stop-color="#fbead2"/><stop offset=".182" stop-color="#faedda"/><stop offset=".515" stop-color="#faedda"/><stop offset=".697" stop-color="#fce8cd"/><stop offset=".758" stop-color="#fde5c3"/><stop offset=".788" stop-color="#fde2bb"/><stop offset=".848" stop-color="#fed299"/><stop offset=".879" stop-color="#fdc57f"/><stop offset=".909" stop-color="#f7ac52"/><stop offset=".939" stop-color="#de8013"/><stop offset=".97" stop-color="#a85206"/><stop offset="1" stop-color="#a85206"/></linearGradient>
<linearGradient id="p57" gradientUnits="userSpaceOnUse" x1="0" x2="0" y1="238.5" y2="271.5"><stop offset="0" stop-color="#fbead2"/><stop offset=".242" stop-color="#faeedc"/><stop offset=".576" stop-color="#faeedc"/><stop offset=".697" stop-color="#fbebd5"/><stop offset=".788" stop-color="#fce6c8"/><stop offset=".848" stop-color="#fedeb3"/><stop offset=".879" stop-color="#fed39c"/><stop offset=".909" stop-color="#fdc278"/><stop offset=".939" stop-color="#ed9936"/><stop offset=".97" stop-color="#a85206"/><stop offset="1" stop-color="#a85206"/></linearGradient>
<linearGradient id="p58" gradientUnits="userSpaceOnUse" x1="0" x2="0" y1="238.5" y2="271.5"><stop offset="0" stop-color="#fbead2"/><stop offset=".455" stop-color="#f9efe1"/><stop offset=".667" stop-color="#faeedf"/><stop offset=".788" stop-color="#fbebd5"/><stop offset=".879" stop-color="#fde3be"/><stop offset=".909" stop-color="#fedaa9"/><stop offset=".939" stop-color="#fdc782"/><stop offset=".97" stop-color="#f6aa4f"/><stop offset="1" stop-color="#f6aa4f"/></linearGradient>
<linearGradient id="p59" gradientUnits="userSpaceOnUse" x1="0" x2="0" y1="238.5" y2="271.5"><stop offset="0" stop-color="#fbead2"/><stop offset=".424" stop-color="#f9f0e4"/><stop offset=".727" stop-color="#f9f0e4"/><stop offset=".818" stop-color="#faeedf"/><stop offset=".879" stop-color="#fbebd5"/><stop offset=".939" stop-color="#fde5c3"/><stop offset="1" stop-color="#fde3be"/></linearGradient>
<linearGradient id="p60" gradientUnits="userSpaceOnUse" x1="0" x2="0" y1="238.5" y2="271.5"><stop offset="0" stop-color="#fbead2"/><stop offset=".212" stop-color="#faeedf"/><stop offset=".667" stop-color="#f8f3ec"/><stop offset=".788" stop-color="#f8f3ec"/><stop offset="1" stop-color="#f9efe1"/></linearGradient>
<linearGradient id="p61" gradientUnits="userSpaceOnUse" x1="0" x2="0" y1="238.5" y2="271.5"><stop offset="0" stop-color="#fbead2"/><stop offset=".424" stop-color="#f9f2e9"/><stop offset="1" stop-color="#f7f7f6"/></linearGradient>
<linearGradient id="p62" gradientUnits="userSpaceOnUse" x1="0" x2="0" y1="238.5" y2="271.5"><stop offset="0" stop-color="#fbead2"/><stop offset=".364" stop-color="#f9f2e9"/><stop offset=".667" stop-color="#f7f7f6"/><stop offset=".848" stop-color="#f3f3f5"/><stop offset="1" stop-color="#eaebf2"/></linearGradient>
<linearGradient id="p63" gradientUnits="userSpaceOnUse" x1="0" x2="0" y1="238.5" y2="271.5"><stop offset="0" stop-color="#fbead2"/><stop offset=".242" stop-color="#f9f0e4"/><stop offset=".667" stop-color="#f6f6f7"/><stop offset=".818" stop-color="#eeeef3"/><stop offset=".909" stop-color="#dddfed"/><stop offset=".97" stop-color="#cccbe3"/><stop offset="1" stop-color="#cccbe3"/></linearGradient>
<linearGradient id="p64" gradientUnits="userSpaceOnUse" x1="0" x2="0" y1="238.5" y2="271.5"><stop offset="0" stop-color="#fbead2"/><stop offset=".545" stop-color="#f7f7f6"/><stop offset=".697" stop-color="#f3f3f5"/><stop offset=".788" stop-color="#e9eaf2"/><stop offset=".848" stop-color="#dee0ed"/><stop offset=".879" stop-color="#d5d6e9"/><stop offset=".909" stop-color="#c5c2de"/><stop offset=".939" stop-color="#ada6ce"/><stop offset=".97" stop-color="#8275ad"/><stop offset="1" stop-color="#8275ad"/></linearGradient>
<linearGradient id="p65" gradientUnits="userSpaceOnUse" x1="0" x2="0" y1="238.5" y2="271.5"><stop offset="0" stop-color="#fbead2"/><stop offset=".212" stop-color="#f9f0e4"/><stop offset=".515" stop-color="#f7f7f6"/><stop offset=".697" stop-color="#eeeef3"/><stop offset=".818" stop-color="#dcddec"/><stop offset=".848" stop-color="#d2d3e7"/><stop offset=".879" stop-color="#c3c0dd"/><stop offset=".909" stop-color="#ada6ce"/><stop offset=".939" stop-color="#8275ad"/><stop offset=".97" stop-color="#4c1f7b"/><stop offset="1" stop-color="#4c1f7b"/></linearGradient>
<linearGradient id="p66" gradientUnits="userSpaceOnUse" x1="0" x2="0" y1="238.5" y2="271.5"><stop offset="0" stop-color="#fbead2"/><stop offset=".303" stop-color="#f8f3ec"/><stop offset=".485" stop-color="#f7f7f6"/><stop offset=".636" stop-color="#f0f1f4"/><stop offset=".788" stop-color="#dadcec"/><stop offset=".848" stop-color="#c5c2de"/><stop offset=".879" stop-color="#b4aed3"/><stop offset=".909" stop-color="#988dbe"/><stop offset=".939" stop-color="#725ba1"/><stop offset=".97" stop-color="#4c1f7b"/><stop offset="1" stop-color="#4c1f7b"/></linearGradient>
<linearGradient id="p67" gradientUnits="userSpaceOnUse" x1="0" x2="0" y1="238.5" y2="271.5"><stop offset="0" stop-color="#fbead2"/><stop offset=".424" stop-color="#f7f7f6"/><stop offset=".636" stop-color="#ededf3"/><stop offset=".758" stop-color="#dadcec"/><stop offset=".788" stop-color="#d2d3e7"/><stop offset=".848" stop-color="#bab5d7"/><stop offset=".879" stop-color="#a59dc8"/><stop offset=".909" stop-color="#8a7eb3"/><stop offset=".939" stop-color="#6b4f9b"/><stop offset=".97" stop-color="#4c1f7b"/><stop offset="1" stop-color="#4c1f7b"/></linearGradient>
<linearGradient id="p68" gradientUnits="userSpaceOnUse" x1="0" x2="0" y1="238.5" y2="271.5"><stop offset="0" stop-color="#fbead2"/><stop offset=".424" stop-color="#f7f7f6"/><stop offset=".606" stop-color="#ededf3"/><stop offset=".727" stop-color="#dcddec"/><stop offset=".788" stop-color="#cbc9e2"/><stop offset=".848" stop-color="#b1aad1"/><stop offset=".879" stop-color="#9b92c1"/><stop offset=".909" stop-color="#8073ac"/><stop offset=".939" stop-color="#664697"/><stop offset=".97" stop-color="#4c1f7b"/><stop offset="1" stop-color="#4c1f7b"/></linearGradient>
<linearGradient id="p69" gradientUnits="userSpaceOnUse" x1="0" x2="0" y1="238.5" y2="271.5"><stop offset="0" stop-color="#fbead2"/><stop offset=".394" stop-color="#f7f7f6"/><stop offset=".515" stop-color="#f3f3f5"/><stop offset=".697" stop-color="#dddfed"/><stop offset=".758" stop-color="#cecde4"/><stop offset=".848" stop-color="#a79fca"/><stop offset=".909" stop-color="#7b6aa8"/><stop offset=".939" stop-color="#634094"/><stop offset=".97" stop-color="#4c1f7b"/><stop offset="1" stop-color="#4c1f7b"/></linearGradient>
<linearGradient id="p70" gradientUnits="userSpaceOnUse" x1="0" x2="0" y1="238.5" y2="271.5"><stop offset="0" stop-color="#fbead2"/><stop offset=".364" stop-color="#f7f7f6"/><stop offset=".545" stop-color="#eeeef3"/><stop offset=".697" stop-color="#d8daeb"/><stop offset=".758" stop-color="#c8c6e0"/><stop offset=".818" stop-color="#b1aad1"/><stop offset=".879" stop-color="#8c80b5"/><stop offset=".909" stop-color="#7661a4"/><stop offset=".939" stop-color="#5f3a91"/><stop offset=".97" stop-color="#4c1f7b"/><stop offset="1" stop-color="#4c1f7b"/></linearGradient>
<linearGradient id="p71" gradientUnits="userSpaceOnUse" x1="0" x2="0" y1="238.5" y2="271.5"><stop offset="0" stop-color="#fbead2"/><stop offset=".364" stop-color="#f7f7f6"/><stop offset=".485" stop-color="#f2f2f5"/><stop offset=".667" stop-color="#dadcec"/><stop offset=".758" stop-color="#c3c0dd"/><stop offset=".818" stop-color="#aba3cd"/><stop offset=".879" stop-color="#867ab0"/><stop offset=".939" stop-color="#5d3790"/><stop offset=".97" stop-color="#4c1f7b"/><stop offset="1" stop-color="#4c1f7b"/></linearGradient>
<linearGradient id="p72" gradientUnits="userSpaceOnUse" x1="0" x2="0" y1="238.5" y2="271.5"><stop offset="0" stop-color="#fbead2"/><stop offset=".333" stop-color="#f7f7f6"/><stop offset=".455" stop-color="#f3f3f5"/><stop offset=".576" stop-color="#e7e8f1"/><stop offset=".667" stop-color="#d8daeb"/><stop offset=".788" stop-color="#b4aed3"/><stop offset=".879" stop-color="#8275ad"/><stop offset=".909" stop-color="#70589f"/><stop offset=".939" stop-color="#5c348e"/><stop offset=".97" stop-color="#4c1f7b"/><stop offset="1" stop-color="#4c1f7b"/></linearGradient>
<linearGradient id="p73" gradientUnits="userSpaceOnUse" x1="0" x2="0" y1="238.5" y2="271.5"><stop offset="0" stop-color="#fbead2"/><stop offset=".182" stop-color="#f9f2e9"/><stop offset=".333" stop-color="#f7f7f6"/><stop offset=".455" stop-color="#f2f2f5"/><stop offset=".636" stop-color="#dadcec"/><stop offset=".727" stop-color="#c5c2de"/><stop offset=".788" stop-color="#afa8d0"/><stop offset=".879" stop-color="#7e70ab"/><stop offset=".939" stop-color="#5c348e"/><stop offset=".97" stop-color="#4c1f7b"/><stop offset="1" stop-color="#4c1f7b"/></linearGradient>
<linearGradient id="p74" gradientUnits="userSpaceOnUse" x1="0" x2="0" y1="238.5" y2="271.5"><stop offset="0" stop-color="#fbead2"/><stop offset=".182" stop-color="#f9f2e9"/><stop offset=".333" stop-color="#f7f7f6"/><stop offset=".485" stop-color="#eeeef3"/><stop offset=".636" stop-color="#d8daeb"/><stop offset=".758" stop-color="#b7b1d5"/><stop offset=".818" stop-color="#9d94c2"/><stop offset=".879" stop-color="#7d6da9"/><stop offset=".939" stop-color="#5a318d"/><stop offset=".97" stop-color="#4c1f7b"/><stop offset="1" stop-color="#4c1f7b"/></linearGradient>
<linearGradient id="p75" gradientUnits="userSpaceOnUse" x1="0" x2="0" y1="238.5" y2="271.5"><stop offset="0" stop-color="#fbead2"/><stop offset=".303" stop-color="#f7f7f6"/><stop offset=".485" stop-color="#ededf3"/><stop offset=".606" stop-color="#dcddec"/><stop offset=".667" stop-color="#cfcfe5"/><stop offset=".758" stop-color="#b4aed3"/><stop offset=".848" stop-color="#8a7eb3"/><stop offset=".939" stop-color="#5a318d"/><stop offset=".97" stop-color="#4c1f7b"/><stop offset="1" stop-color="#4c1f7b"/></linearGradient>
<linearGradient id="p76" gradientUnits="userSpaceOnUse" x1="0" x2="0" y1="238.5" y2="271.5"><stop offset="0" stop-color="#fbead2"/><stop offset=".303" stop-color="#f7f7f6"/><stop offset=".424" stop-color="#f2f2f5"/><stop offset=".606" stop-color="#d9dbeb"/><stop offset=".727" stop-color="#bcb7d8"/><stop offset=".788" stop-color="#a59dc8"/><stop offset=".879" stop-color="#7764a5"/><stop offset=".939" stop-color="#582e8c"/><stop offset=".97" stop-color="#4c1f7b"/><stop offset="1" stop-color="#4c1f7b"/></linearGradient>
<linearGradient id="p77" gradientUnits="userSpaceOnUse" x1="0" x2="0" y1="238.5" y2="271.5"><stop offset="0" stop-color="#fbead2"/><stop offset=".121" stop-color="#f9f0e4"/><stop offset=".303" stop-color="#f7f7f6"/><stop offset=".424" stop-color="#f0f1f4"/><stop offset=".606" stop-color="#d8daeb"/><stop offset=".758" stop-color="#afa8d0"/><stop offset=".848" stop-color="#8477af"/><stop offset=".939" stop-color="#582e8c"/><stop offset=".97" stop-color="#4c1f7b"/><stop offset="1" stop-color="#4c1f7b"/></linearGradient>
<linearGradient id="p78" gradientUnits="userSpaceOnUse" x1="0" x2="0" y1="238.5" y2="271.5"><stop offset="0" stop-color="#fbead2"/><stop offset=".182" stop-color="#f8f3ec"/><stop offset=".303" stop-color="#f7f7f6"/><stop offset=".455" stop-color="#ededf3"/><stop offset=".606" stop-color="#d7d8ea"/><stop offset=".727" stop-color="#b7b1d5"/><stop offset=".788" stop-color="#9f96c4"/><stop offset=".848" stop-color="#8275ad"/><stop offset=".939" stop-color="#582e8c"/><stop offset=".97" stop-color="#4c1f7b"/><stop offset="1" stop-color="#4c1f7b"/></linearGradient>
<linearGradient id="p79" gradientUnits="userSpaceOnUse" x1="0" x2="0" y1="238.5" y2="271.5"><stop offset="0" stop-color="#fbead2"/><stop offset=".273" stop-color="#f7f7f6"/><stop offset=".394" stop-color="#f2f2f5"/><stop offset=".576" stop-color="#d9dbeb"/><stop offset=".667" stop-color="#c5c2de"/><stop offset=".788" stop-color="#9b92c1"/><stop offset=".848" stop-color="#8073ac"/><stop offset=".939" stop-color="#572b8a"/><stop offset=".97" stop-color="#4c1f7b"/><stop offset="1" stop-color="#4c1f7b"/></linearGradient>
<linearGradient id="p80" gradientUnits="userSpaceOnUse" x1="0" x2="0" y1="238.5" y2="271.5"><stop offset="0" stop-color="#fbead2"/><stop offset=".273" stop-color="#f7f7f6"/><stop offset=".364" stop-color="#f3f3f5"/><stop offset=".545" stop-color="#dcddec"/><stop offset=".606" stop-color="#cfcfe5"/><stop offset=".727" stop-color="#afa8d0"/><stop offset=".848" stop-color="#7d6da9"/><stop offset=".939" stop-color="#572b8a"/><stop offset=".97" stop-color="#4c1f7b"/><stop offset="1" stop-color="#4c1f7b"/></linearGradient>
<linearGradient id="p81" gradientUnits="userSpaceOnUse" x1="0" x2="0" y1="238.5" y2="271.5"><stop offset="0" stop-color="#fbead2"/><stop offset=".121" stop-color="#f9f1e6"/><stop offset=".273" stop-color="#f6f6f7"/><stop offset=".364" stop-color="#f2f2f5"/><stop offset=".545" stop-color="#d8daeb"/><stop offset=".667" stop-color="#bdb9d9"/><stop offset=".758" stop-color="#9f96c4"/><stop offset=".848" stop-color="#7b6aa8"/><stop offset=".939" stop-color="#572b8a"/><stop offset=".97" stop-color="#4c1f7b"/><stop offset="1" stop-color="#4c1f7b"/></linearGradient>
<linearGradient id="p82" gradientUnits="userSpaceOnUse" x1="0" x2="0" y1="238.5" y2="271.5"><stop offset="0" stop-color="#fbead2"/><stop offset=".242" stop-color="#f7f7f6"/><stop offset=".364" stop-color="#f0f1f4"/><stop offset=".545" stop-color="#d7d8ea"/><stop offset=".727" stop-color="#a79fca"/><stop offset=".818" stop-color="#8477af"/><stop offset=".939" stop-color="#552889"/><stop offset=".97" stop-color="#4c1f7b"/><stop offset="1" stop-color="#4c1f7b"/></linearGradient>
<linearGradient id="p83" gradientUnits="userSpaceOnUse" x1="0" x2="0" y1="238.5" y2="271.5"><stop offset="0" stop-color="#fbead2"/><stop offset=".152" stop-color="#f8f3ec"/><stop offset=".242" stop-color="#f7f7f6"/><stop offset=".333" stop-color="#f3f3f5"/><stop offset=".545" stop-color="#d5d6e9"/><stop offset=".697" stop-color="#b1aad1"/><stop offset=".818" stop-color="#8275ad"/><stop offset=".879" stop-color="#6d529c"/><stop offset=".939" stop-color="#552889"/><stop offset=".97" stop-color="#4c1f7b"/><stop offset="1" stop-color="#4c1f7b"/></linearGradient>
<clipPath id="cclip"><rect x="268.3" y="208.1" width="134.95" height="77.35"/></clipPath>
<clipPath id="dclip"><rect x="68.45" y="318.5" width="334.2" height="93.05"/></clipPath>
</defs>
<rect width="415" height="457" fill="#fff"/>
<g clip-path="url(#aclip)">
<g shape-rendering="crispEdges">
<rect x="68" y="54" width="1" height="96" fill="url(#h0)"/>
<rect x="69" y="54" width="1" height="96" fill="url(#h1)"/>
<rect x="70" y="54" width="1" height="96" fill="url(#h2)"/>
<rect x="71" y="54" width="1" height="96" fill="url(#h3)"/>
<rect x="72" y="54" width="1" height="96" fill="url(#h4)"/>
<rect x="73" y="54" width="1" height="96" fill="url(#h5)"/>
<rect x="74" y="54" width="1" height="96" fill="url(#h6)"/>
<rect x="75" y="54" width="1" height="96" fill="url(#h7)"/>
<rect x="76" y="54" width="1" height="96" fill="url(#h8)"/>
<rect x="77" y="54" width="1" height="96" fill="url(#h9)"/>
<rect x="78" y="54" width="1" height="96" fill="url(#h10)"/>
<rect x="79" y="54" width="1" height="96" fill="url(#h11)"/>
<rect x="80" y="54" width="1" height="96" fill="url(#h12)"/>
<rect x="81" y="54" width="1" height="96" fill="url(#h13)"/>
<rect x="82" y="54" width="1" height="96" fill="url(#h14)"/>
<rect x="83" y="54" width="1" height="96" fill="url(#h15)"/>
<rect x="84" y="54" width="1" height="96" fill="url(#h16)"/>
<rect x="85" y="54" width="1" height="96" fill="url(#h17)"/>
<rect x="86" y="54" width="1" height="96" fill="url(#h18)"/>
<rect x="87" y="54" width="1" height="96" fill="url(#h19)"/>
<rect x="88" y="54" width="1" height="96" fill="url(#h20)"/>
<rect x="89" y="54" width="1" height="96" fill="url(#h21)"/>
<rect x="90" y="54" width="1" height="96" fill="url(#h22)"/>
<rect x="91" y="54" width="1" height="96" fill="url(#h23)"/>
<rect x="92" y="54" width="1" height="96" fill="url(#h24)"/>
<rect x="93" y="54" width="1" height="96" fill="url(#h25)"/>
<rect x="94" y="54" width="1" height="96" fill="url(#h26)"/>
<rect x="95" y="54" width="1" height="96" fill="url(#h27)"/>
<rect x="96" y="54" width="1" height="96" fill="url(#h28)"/>
<rect x="97" y="54" width="1" height="96" fill="url(#h29)"/>
<rect x="98" y="54" width="1" height="96" fill="url(#h30)"/>
<rect x="99" y="54" width="1" height="96" fill="url(#h31)"/>
<rect x="100" y="54" width="1" height="96" fill="url(#h32)"/>
<rect x="101" y="54" width="1" height="96" fill="url(#h33)"/>
<rect x="102" y="54" width="1" height="96" fill="url(#h34)"/>
<rect x="103" y="54" width="1" height="96" fill="url(#h35)"/>
<rect x="104" y="54" width="1" height="96" fill="url(#h36)"/>
<rect x="105" y="54" width="1" height="96" fill="url(#h37)"/>
<rect x="106" y="54" width="1" height="96" fill="url(#h38)"/>
<rect x="107" y="54" width="1" height="96" fill="url(#h39)"/>
<rect x="108" y="54" width="1" height="96" fill="url(#h40)"/>
<rect x="109" y="54" width="1" height="96" fill="url(#h41)"/>
<rect x="110" y="54" width="1" height="96" fill="url(#h42)"/>
<rect x="111" y="54" width="1" height="96" fill="url(#h43)"/>
<rect x="112" y="54" width="1" height="96" fill="url(#h44)"/>
<rect x="113" y="54" width="1" height="96" fill="url(#h45)"/>
<rect x="114" y="54" width="1" height="96" fill="url(#h46)"/>
<rect x="115" y="54" width="1" height="96" fill="url(#h47)"/>
<rect x="116" y="54" width="1" height="96" fill="url(#h48)"/>
<rect x="117" y="54" width="1" height="96" fill="url(#h49)"/>
<rect x="118" y="54" width="1" height="96" fill="url(#h50)"/>
<rect x="119" y="54" width="1" height="96" fill="url(#h51)"/>
<rect x="120" y="54" width="1" height="96" fill="url(#h52)"/>
<rect x="121" y="54" width="1" height="96" fill="url(#h53)"/>
<rect x="122" y="54" width="1" height="96" fill="url(#h54)"/>
<rect x="123" y="54" width="1" height="96" fill="url(#h55)"/>
<rect x="124" y="54" width="1" height="96" fill="url(#h56)"/>
<rect x="125" y="54" width="1" height="96" fill="url(#h57)"/>
<rect x="126" y="54" width="1" height="96" fill="url(#h58)"/>
<rect x="127" y="54" width="1" height="96" fill="url(#h59)"/>
<rect x="128" y="54" width="1" height="96" fill="url(#h60)"/>
<rect x="129" y="54" width="1" height="96" fill="url(#h61)"/>
<rect x="130" y="54" width="1" height="96" fill="url(#h62)"/>
<rect x="131" y="54" width="1" height="96" fill="url(#h63)"/>
<rect x="132" y="54" width="1" height="96" fill="url(#h64)"/>
<rect x="133" y="54" width="1" height="96" fill="url(#h65)"/>
<rect x="134" y="54" width="1" height="96" fill="url(#h66)"/>
<rect x="135" y="54" width="1" height="96" fill="url(#h67)"/>
<rect x="136" y="54" width="1" height="96" fill="url(#h68)"/>
<rect x="137" y="54" width="1" height="96" fill="url(#h69)"/>
<rect x="138" y="54" width="1" height="96" fill="url(#h70)"/>
<rect x="139" y="54" width="1" height="96" fill="url(#h71)"/>
<rect x="140" y="54" width="1" height="96" fill="url(#h72)"/>
<rect x="141" y="54" width="1" height="96" fill="url(#h73)"/>
<rect x="142" y="54" width="1" height="96" fill="url(#h74)"/>
<rect x="143" y="54" width="1" height="96" fill="url(#h75)"/>
<rect x="144" y="54" width="1" height="96" fill="url(#h76)"/>
<rect x="145" y="54" width="1" height="96" fill="url(#h77)"/>
<rect x="146" y="54" width="1" height="96" fill="url(#h78)"/>
<rect x="147" y="54" width="1" height="96" fill="url(#h79)"/>
<rect x="148" y="54" width="1" height="96" fill="url(#h80)"/>
<rect x="149" y="54" width="1" height="96" fill="url(#h81)"/>
<rect x="150" y="54" width="1" height="96" fill="url(#h82)"/>
<rect x="151" y="54" width="1" height="96" fill="url(#h83)"/>
<rect x="152" y="54" width="1" height="96" fill="url(#h84)"/>
<rect x="153" y="54" width="1" height="96" fill="url(#h85)"/>
<rect x="154" y="54" width="1" height="96" fill="url(#h86)"/>
<rect x="155" y="54" width="1" height="96" fill="url(#h87)"/>
<rect x="156" y="54" width="7" height="96" fill="url(#h88)"/>
<rect x="163" y="54" width="35" height="96" fill="url(#h89)"/>
<rect x="198" y="54" width="19" height="96" fill="url(#h90)"/>
<rect x="217" y="54" width="1" height="96" fill="url(#h91)"/>
<rect x="218" y="54" width="1" height="96" fill="url(#h92)"/>
<rect x="219" y="54" width="1" height="96" fill="url(#h93)"/>
<rect x="220" y="54" width="1" height="96" fill="url(#h94)"/>
<rect x="221" y="54" width="1" height="96" fill="url(#h95)"/>
<rect x="222" y="54" width="1" height="96" fill="url(#h96)"/>
<rect x="223" y="54" width="1" height="96" fill="url(#h97)"/>
<rect x="224" y="54" width="1" height="96" fill="url(#h98)"/>
<rect x="225" y="54" width="1" height="96" fill="url(#h99)"/>
<rect x="226" y="54" width="1" height="96" fill="url(#h100)"/>
<rect x="227" y="54" width="1" height="96" fill="url(#h101)"/>
<rect x="228" y="54" width="1" height="96" fill="url(#h102)"/>
<rect x="229" y="54" width="1" height="96" fill="url(#h103)"/>
<rect x="230" y="54" width="1" height="96" fill="url(#h104)"/>
<rect x="231" y="54" width="1" height="96" fill="url(#h105)"/>
<rect x="232" y="54" width="1" height="96" fill="url(#h106)"/>
<rect x="233" y="54" width="1" height="96" fill="url(#h107)"/>
<rect x="234" y="54" width="1" height="96" fill="url(#h108)"/>
<rect x="235" y="54" width="1" height="96" fill="url(#h109)"/>
<rect x="236" y="54" width="1" height="96" fill="url(#h110)"/>
<rect x="237" y="54" width="1" height="96" fill="url(#h111)"/>
<rect x="238" y="54" width="1" height="96" fill="url(#h112)"/>
<rect x="239" y="54" width="1" height="96" fill="url(#h113)"/>
<rect x="240" y="54" width="1" height="96" fill="url(#h114)"/>
<rect x="241" y="54" width="1" height="96" fill="url(#h115)"/>
<rect x="242" y="54" width="1" height="96" fill="url(#h116)"/>
<rect x="243" y="54" width="1" height="96" fill="url(#h117)"/>
<rect x="244" y="54" width="1" height="96" fill="url(#h118)"/>
<rect x="245" y="54" width="1" height="96" fill="url(#h119)"/>
<rect x="246" y="54" width="1" height="96" fill="url(#h120)"/>
<rect x="247" y="54" width="1" height="96" fill="url(#h121)"/>
<rect x="248" y="54" width="1" height="96" fill="url(#h122)"/>
<rect x="249" y="54" width="1" height="96" fill="url(#h123)"/>
<rect x="250" y="54" width="1" height="96" fill="url(#h124)"/>
<rect x="251" y="54" width="1" height="96" fill="url(#h125)"/>
<rect x="252" y="54" width="1" height="96" fill="url(#h126)"/>
<rect x="253" y="54" width="1" height="96" fill="url(#h127)"/>
<rect x="254" y="54" width="1" height="96" fill="url(#h128)"/>
<rect x="255" y="54" width="1" height="96" fill="url(#h129)"/>
<rect x="256" y="54" width="1" height="96" fill="url(#h130)"/>
<rect x="257" y="54" width="1" height="96" fill="url(#h131)"/>
<rect x="258" y="54" width="1" height="96" fill="url(#h132)"/>
<rect x="259" y="54" width="1" height="96" fill="url(#h133)"/>
<rect x="260" y="54" width="1" height="96" fill="url(#h134)"/>
<rect x="261" y="54" width="1" height="96" fill="url(#h135)"/>
<rect x="262" y="54" width="1" height="96" fill="url(#h136)"/>
<rect x="263" y="54" width="1" height="96" fill="url(#h137)"/>
<rect x="264" y="54" width="1" height="96" fill="url(#h138)"/>
<rect x="265" y="54" width="1" height="96" fill="url(#h139)"/>
<rect x="266" y="54" width="1" height="96" fill="url(#h140)"/>
<rect x="267" y="54" width="1" height="96" fill="url(#h141)"/>
<rect x="268" y="54" width="1" height="96" fill="url(#h142)"/>
<rect x="269" y="54" width="1" height="96" fill="url(#h143)"/>
<rect x="270" y="54" width="2" height="96" fill="url(#h144)"/>
<rect x="272" y="54" width="2" height="96" fill="url(#h145)"/>
<rect x="274" y="54" width="6" height="96" fill="url(#h146)"/>
<rect x="280" y="54" width="2" height="96" fill="url(#h147)"/>
<rect x="282" y="54" width="1" height="96" fill="url(#h148)"/>
<rect x="283" y="54" width="1" height="96" fill="url(#h149)"/>
<rect x="284" y="54" width="1" height="96" fill="url(#h150)"/>
<rect x="285" y="54" width="1" height="96" fill="url(#h151)"/>
<rect x="286" y="54" width="1" height="96" fill="url(#h152)"/>
<rect x="287" y="54" width="1" height="96" fill="url(#h153)"/>
<rect x="288" y="54" width="1" height="96" fill="url(#h154)"/>
<rect x="289" y="54" width="1" height="96" fill="url(#h155)"/>
<rect x="290" y="54" width="1" height="96" fill="url(#h156)"/>
<rect x="291" y="54" width="1" height="96" fill="url(#h157)"/>
<rect x="292" y="54" width="1" height="96" fill="url(#h158)"/>
<rect x="293" y="54" width="1" height="96" fill="url(#h159)"/>
<rect x="294" y="54" width="1" height="96" fill="url(#h160)"/>
<rect x="295" y="54" width="1" height="96" fill="url(#h161)"/>
<rect x="296" y="54" width="1" height="96" fill="url(#h162)"/>
<rect x="297" y="54" width="1" height="96" fill="url(#h163)"/>
<rect x="298" y="54" width="1" height="96" fill="url(#h164)"/>
<rect x="299" y="54" width="1" height="96" fill="url(#h165)"/>
<rect x="300" y="54" width="1" height="96" fill="url(#h166)"/>
<rect x="301" y="54" width="1" height="96" fill="url(#h167)"/>
<rect x="302" y="54" width="1" height="96" fill="url(#h168)"/>
<rect x="303" y="54" width="1" height="96" fill="url(#h169)"/>
<rect x="304" y="54" width="1" height="96" fill="url(#h170)"/>
<rect x="305" y="54" width="1" height="96" fill="url(#h171)"/>
<rect x="306" y="54" width="1" height="96" fill="url(#h172)"/>
<rect x="307" y="54" width="1" height="96" fill="url(#h173)"/>
<rect x="308" y="54" width="1" height="96" fill="url(#h174)"/>
<rect x="309" y="54" width="1" height="96" fill="url(#h175)"/>
<rect x="310" y="54" width="1" height="96" fill="url(#h176)"/>
<rect x="311" y="54" width="1" height="96" fill="url(#h177)"/>
<rect x="312" y="54" width="1" height="96" fill="url(#h178)"/>
<rect x="313" y="54" width="1" height="96" fill="url(#h179)"/>
<rect x="314" y="54" width="1" height="96" fill="url(#h180)"/>
<rect x="315" y="54" width="1" height="96" fill="url(#h181)"/>
<rect x="316" y="54" width="1" height="96" fill="url(#h182)"/>
<rect x="317" y="54" width="1" height="96" fill="url(#h183)"/>
<rect x="318" y="54" width="1" height="96" fill="url(#h184)"/>
<rect x="319" y="54" width="1" height="96" fill="url(#h185)"/>
<rect x="320" y="54" width="1" height="96" fill="url(#h186)"/>
<rect x="321" y="54" width="1" height="96" fill="url(#h187)"/>
<rect x="322" y="54" width="1" height="96" fill="url(#h188)"/>
<rect x="323" y="54" width="1" height="96" fill="url(#h189)"/>
<rect x="324" y="54" width="1" height="96" fill="url(#h190)"/>
<rect x="325" y="54" width="1" height="96" fill="url(#h191)"/>
<rect x="326" y="54" width="1" height="96" fill="url(#h192)"/>
<rect x="327" y="54" width="1" height="96" fill="url(#h193)"/>
<rect x="328" y="54" width="1" height="96" fill="url(#h194)"/>
<rect x="329" y="54" width="1" height="96" fill="url(#h195)"/>
<rect x="330" y="54" width="1" height="96" fill="url(#h196)"/>
<rect x="331" y="54" width="1" height="96" fill="url(#h197)"/>
<rect x="332" y="54" width="1" height="96" fill="url(#h198)"/>
<rect x="333" y="54" width="1" height="96" fill="url(#h199)"/>
<rect x="334" y="54" width="1" height="96" fill="url(#h200)"/>
<rect x="335" y="54" width="1" height="96" fill="url(#h201)"/>
<rect x="336" y="54" width="1" height="96" fill="url(#h202)"/>
<rect x="337" y="54" width="1" height="96" fill="url(#h203)"/>
<rect x="338" y="54" width="1" height="96" fill="url(#h204)"/>
<rect x="339" y="54" width="6" height="96" fill="url(#h205)"/>
<rect x="345" y="54" width="58" height="96" fill="url(#h206)"/>
</g>
<rect x="68.4" y="55.1" width="334.29999999999995" height="93.20000000000002" filter="url(#nzd)"/>
<rect x="68.4" y="55.1" width="334.29999999999995" height="93.20000000000002" filter="url(#nzl)"/>
</g>
<rect x="68.4" y="55.1" width="334.29999999999995" height="93.20000000000002" fill="none" stroke="#111" stroke-width="1.2"/>
<line x1="63.10000000000001" x2="68.4" y1="92.7" y2="92.7" stroke="#111" stroke-width="1.2"/>
<line x1="63.10000000000001" x2="68.4" y1="139.2" y2="139.2" stroke="#111" stroke-width="1.2"/>
<line x1="68.45" x2="68.45" y1="148.3" y2="153.60000000000002" stroke="#111" stroke-width="1.2"/>
<line x1="235.45" x2="235.45" y1="148.3" y2="153.60000000000002" stroke="#111" stroke-width="1.2"/>
<line x1="402.6" x2="402.6" y1="148.3" y2="153.60000000000002" stroke="#111" stroke-width="1.2"/>
<text x="57.6" y="97.5" font-size="13.33" text-anchor="end" >4.5</text>
<text x="57.6" y="144.0" font-size="13.33" text-anchor="end" >4.0</text>
<text x="68.9" y="169.6" font-size="13.33" text-anchor="middle" >0</text>
<text x="235.2" y="169.6" font-size="13.33" text-anchor="middle" >0.25</text>
<text x="403.3" y="169.6" font-size="13.33" text-anchor="middle" >0.5</text>
<text x="235.6" y="190.1" font-size="14.2" text-anchor="middle" ><tspan font-style="italic">B</tspan> (T)</text>
<text x="5.2" y="55.0" font-size="13.33" text-anchor="start" >(a)</text>
<text x="352.0" y="72.8" font-size="12.5" text-anchor="start" >EXP</text>
<text transform="translate(27.4,102.2) rotate(-90)" font-size="14.2" text-anchor="middle"><tspan font-style="italic">f</tspan><tspan font-size="9.94" dy="2.8">d</tspan><tspan dy="-2.8"> (GHz)</tspan></text>
<rect x="330.4" y="31.0" width="72.3" height="12.2" fill="url(#cbm)" stroke="#111" stroke-width="1.2"/>
<line x1="330.4" x2="330.4" y1="26.4" y2="31" stroke="#111" stroke-width="1.2"/>
<line x1="402.7" x2="402.7" y1="26.4" y2="31" stroke="#111" stroke-width="1.2"/>
<text x="330.6" y="18.9" font-size="12.0" text-anchor="middle" >0</text>
<text x="402.9" y="18.9" font-size="12.0" text-anchor="middle" >1</text>
<text x="340.6" y="18.9" font-size="13.0"><tspan font-style="italic">V</tspan><tspan font-size="9.1" dy="2.5">H</tspan><tspan dy="-2.5"> (a.u.)</tspan></text>
<text x="5.4" y="213.0" font-size="13.33" text-anchor="start" >(b)</text>
<rect x="68.5" y="212.4" width="67.9" height="8.9" fill="url(#cbp)" stroke="#111" stroke-width="1.2"/>
<line x1="68.5" x2="68.5" y1="207.2" y2="212.4" stroke="#111" stroke-width="1.2"/>
<line x1="136.4" x2="136.4" y1="207.2" y2="212.4" stroke="#111" stroke-width="1.2"/>
<text x="68.2" y="204.2" font-size="12.0" text-anchor="middle" >-0.1</text>
<text x="136.2" y="204.2" font-size="12.0" text-anchor="middle" >0.3</text>
<text x="102.0" y="204.2" font-size="12.4" text-anchor="middle"><tspan font-style="italic">U</tspan> (eV)</text>
<path d="M22.4 228.7 V260.7 M18 228.7 H27 M18 260.7 H27" stroke="#000" stroke-width="1.5" fill="none"/>
<path d="M25.8 269.3 H57.8 M25.8 264.9 V273.9 M57.8 264.9 V273.9" stroke="#000" stroke-width="1.5" fill="none"/>
<text transform="translate(14.2,244.7) rotate(-90)" font-size="12.4" text-anchor="middle">0.1 <tspan font-style="italic">μ</tspan>m</text>
<text x="42.2" y="285.7" font-size="12.4" text-anchor="middle">0.1 <tspan font-style="italic">μ</tspan>m</text>
<g clip-path="url(#bclip)">
<g shape-rendering="crispEdges">
<rect x="68" y="238" width="10" height="34" fill="url(#p0)"/>
<rect x="78" y="238" width="4" height="34" fill="url(#p1)"/>
<rect x="82" y="238" width="3" height="34" fill="url(#p2)"/>
<rect x="85" y="238" width="2" height="34" fill="url(#p3)"/>
<rect x="87" y="238" width="2" height="34" fill="url(#p4)"/>
<rect x="89" y="238" width="2" height="34" fill="url(#p5)"/>
<rect x="91" y="238" width="1" height="34" fill="url(#p6)"/>
<rect x="92" y="238" width="1" height="34" fill="url(#p7)"/>
<rect x="93" y="238" width="1" height="34" fill="url(#p8)"/>
<rect x="94" y="238" width="1" height="34" fill="url(#p9)"/>
<rect x="95" y="238" width="1" height="34" fill="url(#p10)"/>
<rect x="96" y="238" width="1" height="34" fill="url(#p11)"/>
<rect x="97" y="238" width="1" height="34" fill="url(#p12)"/>
<rect x="98" y="238" width="1" height="34" fill="url(#p13)"/>
<rect x="99" y="238" width="1" height="34" fill="url(#p14)"/>
<rect x="100" y="238" width="1" height="34" fill="url(#p15)"/>
<rect x="101" y="238" width="1" height="34" fill="url(#p16)"/>
<rect x="102" y="238" width="1" height="34" fill="url(#p17)"/>
<rect x="103" y="238" width="1" height="34" fill="url(#p18)"/>
<rect x="104" y="238" width="1" height="34" fill="url(#p19)"/>
<rect x="105" y="238" width="1" height="34" fill="url(#p20)"/>
<rect x="106" y="238" width="1" height="34" fill="url(#p21)"/>
<rect x="107" y="238" width="1" height="34" fill="url(#p22)"/>
<rect x="108" y="238" width="1" height="34" fill="url(#p23)"/>
<rect x="109" y="238" width="1" height="34" fill="url(#p24)"/>
<rect x="110" y="238" width="1" height="34" fill="url(#p25)"/>
<rect x="111" y="238" width="1" height="34" fill="url(#p26)"/>
<rect x="112" y="238" width="1" height="34" fill="url(#p27)"/>
<rect x="113" y="238" width="1" height="34" fill="url(#p28)"/>
<rect x="114" y="238" width="1" height="34" fill="url(#p29)"/>
<rect x="115" y="238" width="1" height="34" fill="url(#p30)"/>
<rect x="116" y="238" width="1" height="34" fill="url(#p31)"/>
<rect x="117" y="238" width="1" height="34" fill="url(#p32)"/>
<rect x="118" y="238" width="1" height="34" fill="url(#p33)"/>
<rect x="119" y="238" width="1" height="34" fill="url(#p34)"/>
<rect x="120" y="238" width="1" height="34" fill="url(#p35)"/>
<rect x="121" y="238" width="1" height="34" fill="url(#p36)"/>
<rect x="122" y="238" width="1" height="34" fill="url(#p37)"/>
<rect x="123" y="238" width="2" height="34" fill="url(#p38)"/>
<rect x="125" y="238" width="2" height="34" fill="url(#p39)"/>
<rect x="127" y="238" width="3" height="34" fill="url(#p40)"/>
<rect x="130" y="238" width="12" height="34" fill="url(#p41)"/>
<rect x="142" y="238" width="2" height="34" fill="url(#p42)"/>
<rect x="144" y="238" width="2" height="34" fill="url(#p43)"/>
<rect x="146" y="238" width="2" height="34" fill="url(#p44)"/>
<rect x="148" y="238" width="1" height="34" fill="url(#p45)"/>
<rect x="149" y="238" width="1" height="34" fill="url(#p46)"/>
<rect x="150" y="238" width="1" height="34" fill="url(#p47)"/>
<rect x="151" y="238" width="1" height="34" fill="url(#p48)"/>
<rect x="152" y="238" width="1" height="34" fill="url(#p49)"/>
<rect x="153" y="238" width="1" height="34" fill="url(#p50)"/>
<rect x="154" y="238" width="1" height="34" fill="url(#p51)"/>
<rect x="155" y="238" width="1" height="34" fill="url(#p52)"/>
<rect x="156" y="238" width="1" height="34" fill="url(#p53)"/>
<rect x="157" y="238" width="1" height="34" fill="url(#p54)"/>
<rect x="158" y="238" width="1" height="34" fill="url(#p55)"/>
<rect x="159" y="238" width="1" height="34" fill="url(#p56)"/>
<rect x="160" y="238" width="1" height="34" fill="url(#p57)"/>
<rect x="161" y="238" width="1" height="34" fill="url(#p58)"/>
<rect x="162" y="238" width="1" height="34" fill="url(#p59)"/>
<rect x="163" y="238" width="1" height="34" fill="url(#p60)"/>
<rect x="164" y="238" width="1" height="34" fill="url(#p61)"/>
<rect x="165" y="238" width="1" height="34" fill="url(#p62)"/>
<rect x="166" y="238" width="1" height="34" fill="url(#p63)"/>
<rect x="167" y="238" width="1" height="34" fill="url(#p64)"/>
<rect x="168" y="238" width="1" height="34" fill="url(#p65)"/>
<rect x="169" y="238" width="1" height="34" fill="url(#p66)"/>
<rect x="170" y="238" width="1" height="34" fill="url(#p67)"/>
<rect x="171" y="238" width="1" height="34" fill="url(#p68)"/>
<rect x="172" y="238" width="1" height="34" fill="url(#p69)"/>
<rect x="173" y="238" width="1" height="34" fill="url(#p70)"/>
<rect x="174" y="238" width="1" height="34" fill="url(#p71)"/>
<rect x="175" y="238" width="1" height="34" fill="url(#p72)"/>
<rect x="176" y="238" width="1" height="34" fill="url(#p73)"/>
<rect x="177" y="238" width="1" height="34" fill="url(#p74)"/>
<rect x="178" y="238" width="1" height="34" fill="url(#p75)"/>
<rect x="179" y="238" width="1" height="34" fill="url(#p76)"/>
<rect x="180" y="238" width="1" height="34" fill="url(#p77)"/>
<rect x="181" y="238" width="2" height="34" fill="url(#p78)"/>
<rect x="183" y="238" width="2" height="34" fill="url(#p79)"/>
<rect x="185" y="238" width="3" height="34" fill="url(#p80)"/>
<rect x="188" y="238" width="5" height="34" fill="url(#p81)"/>
<rect x="193" y="238" width="7" height="34" fill="url(#p82)"/>
<rect x="200" y="238" width="4" height="34" fill="url(#p83)"/>
</g>
<rect x="68.2" y="238.9" width="134.8" height="5" fill="url(#btop)"/>
</g>
<rect x="68.2" y="233.6" width="134.8" height="5.2" fill="#4a4a4a"/>
<rect x="69.0" y="236.2" width="50.400000000000006" height="2.0" fill="#0fb0ae"/>
<rect x="150.8" y="236.2" width="51.39999999999998" height="2.0" fill="#0fb0ae"/>
<rect x="119.6" y="234.5" width="31.0" height="3.9" fill="#fff"/>
<rect x="68.2" y="238.3" width="134.8" height="0.8" fill="#1a1a1a"/>
<rect x="68.2" y="270.0" width="134.8" height="0.9" fill="#1a1a1a"/>
<rect x="68.2" y="270.9" width="134.8" height="6.600000000000023" fill="#868686"/>
<rect x="68.60000000000001" y="274.3" width="33.999999999999986" height="2.9" fill="#1b64a3" stroke="#151515" stroke-width="0.8"/>
<rect x="115.0" y="274.3" width="41.0" height="2.9" fill="#1b64a3" stroke="#151515" stroke-width="0.8"/>
<rect x="167.8" y="274.3" width="34.79999999999998" height="2.9" fill="#1b64a3" stroke="#151515" stroke-width="0.8"/>
<rect x="68.2" y="233.6" width="134.8" height="43.900000000000006" fill="none" stroke="#222" stroke-width="1.0"/>
<text x="71.2" y="298.1" font-size="14.6"><tspan font-style="italic">V</tspan><tspan font-size="9.0" dx="-0.3" dy="2.5">LP</tspan></text>
<text x="127.1" y="298.1" font-size="14.6"><tspan font-style="italic">V</tspan><tspan font-size="9.0" dx="-0.3" dy="2.5">C</tspan></text>
<text x="177.2" y="298.1" font-size="14.6"><tspan font-style="italic">V</tspan><tspan font-size="9.0" dx="-0.3" dy="2.5">RP</tspan></text>
<text x="210.4" y="212.6" font-size="13.33" text-anchor="start" >(c)</text>
<g clip-path="url(#cclip)" fill="none" stroke="#000" stroke-linecap="butt">
<path d="M270.20 237.30 L274.18 237.52 L278.16 237.78 L282.15 238.07 L286.13 238.40 L290.11 238.84 L294.09 239.32 L298.07 239.75 L302.05 240.04 L306.04 240.29 L310.02 240.40 L314.00 240.20 L317.98 239.79 L321.96 239.43 L325.95 239.03 L329.93 238.66 L333.91 238.42 L337.89 238.37 L341.87 238.33 L345.85 238.31 L349.84 238.30 L353.82 238.44 L357.80 238.80 L361.78 239.25 L365.76 239.68 L369.75 240.22 L373.73 240.81 L377.71 241.22 L381.69 241.30 L385.67 241.30 L389.65 241.30 L393.64 241.18 L397.62 240.85 L401.60 240.40" stroke-width="0.9" stroke-opacity="0.8"/>
<path d="M270.20 255.70 L274.18 255.48 L278.16 255.22 L282.15 254.93 L286.13 254.60 L290.11 254.16 L294.09 253.68 L298.07 253.25 L302.05 252.96 L306.04 252.71 L310.02 252.60 L314.00 252.80 L317.98 253.21 L321.96 253.57 L325.95 253.97 L329.93 254.34 L333.91 254.58 L337.89 254.63 L341.87 254.67 L345.85 254.69 L349.84 254.70 L353.82 254.56 L357.80 254.20 L361.78 253.75 L365.76 253.32 L369.75 252.78 L373.73 252.19 L377.71 251.78 L381.69 251.70 L385.67 251.70 L389.65 251.70 L393.64 251.82 L397.62 252.15 L401.60 252.60" stroke-width="0.9" stroke-opacity="0.8"/>
<path d="M270.20 225.30 L274.18 225.77 L278.16 226.57 L282.15 227.65 L286.13 229.30 L290.11 231.04 L294.09 232.88 L298.07 234.32 L302.05 235.11 L306.04 235.22 L310.02 234.51 L314.00 233.41 L317.98 231.87 L321.96 230.64 L325.95 229.59 L329.93 228.81 L333.91 228.26 L337.89 227.87 L341.87 227.80 L345.85 227.81 L349.84 227.83 L353.82 227.85 L357.80 227.88 L361.78 227.92 L365.76 228.02 L369.75 228.16 L373.73 228.33 L377.71 228.51 L381.69 228.67 L385.67 228.84 L389.65 229.01 L393.64 229.20 L397.62 229.40 L401.60 229.60" stroke-width="1.0" stroke-opacity="0.9"/>
<path d="M270.20 267.70 L274.18 267.23 L278.16 266.43 L282.15 265.35 L286.13 263.70 L290.11 261.96 L294.09 260.12 L298.07 258.68 L302.05 257.89 L306.04 257.78 L310.02 258.49 L314.00 259.59 L317.98 261.13 L321.96 262.36 L325.95 263.41 L329.93 264.19 L333.91 264.74 L337.89 265.13 L341.87 265.20 L345.85 265.19 L349.84 265.17 L353.82 265.15 L357.80 265.12 L361.78 265.08 L365.76 264.98 L369.75 264.84 L373.73 264.67 L377.71 264.49 L381.69 264.33 L385.67 264.16 L389.65 263.99 L393.64 263.80 L397.62 263.60 L401.60 263.40" stroke-width="1.0" stroke-opacity="0.9"/>
<path d="M270.20 224.20 L274.18 224.63 L278.16 225.10 L282.15 225.61 L286.13 226.18 L290.11 226.98 L294.09 227.76 L298.07 228.10 L302.05 228.07 L306.04 228.00 L310.02 227.90 L314.00 227.59 L317.98 227.04 L321.96 226.48 L325.95 226.14 L329.93 225.92 L333.91 225.73 L337.89 225.62 L341.87 225.61 L345.85 225.66 L349.84 225.76 L353.82 225.89 L357.80 226.05 L361.78 226.23 L365.76 226.41 L369.75 226.59 L373.73 226.77 L377.71 226.98 L381.69 227.21 L385.67 227.45 L389.65 227.72 L393.64 228.00 L397.62 228.29 L401.60 228.60" stroke-width="1.15" stroke-opacity="1"/>
<path d="M270.20 268.80 L274.18 268.37 L278.16 267.90 L282.15 267.39 L286.13 266.82 L290.11 266.02 L294.09 265.24 L298.07 264.90 L302.05 264.93 L306.04 265.00 L310.02 265.10 L314.00 265.41 L317.98 265.96 L321.96 266.52 L325.95 266.86 L329.93 267.08 L333.91 267.27 L337.89 267.38 L341.87 267.39 L345.85 267.34 L349.84 267.24 L353.82 267.11 L357.80 266.95 L361.78 266.77 L365.76 266.59 L369.75 266.41 L373.73 266.23 L377.71 266.02 L381.69 265.79 L385.67 265.55 L389.65 265.28 L393.64 265.00 L397.62 264.71 L401.60 264.40" stroke-width="1.15" stroke-opacity="1"/>
<path d="M270.20 209.40 L274.18 209.32 L278.16 209.25 L282.15 209.18 L286.13 209.13 L290.11 209.08 L294.09 209.04 L298.07 209.01 L302.05 209.00 L306.04 209.00 L310.02 209.00 L314.00 209.01 L317.98 209.02 L321.96 209.03 L325.95 209.05 L329.93 209.07 L333.91 209.09 L337.89 209.12 L341.16 209.19" stroke-width="0.6" stroke-opacity="0.8"/>
<path d="M341.16 209.19 L341.87 209.21 L345.85 209.35 L349.84 209.54 L353.82 209.76 L357.80 210.01 L361.78 210.26 L365.76 210.52 L369.75 210.76 L373.73 211.02 L377.71 211.29 L381.69 211.59 L385.67 211.90 L389.65 212.23 L393.64 212.57 L397.62 212.93 L401.60 213.30" stroke-width="0.6" stroke-opacity="0.8" stroke-dasharray="2.6 1.0" stroke-dashoffset="0.0"/>
<path d="M270.20 283.60 L274.18 283.68 L278.16 283.75 L282.15 283.82 L286.13 283.87 L290.11 283.92 L294.09 283.96 L298.07 283.99 L302.05 284.00 L306.04 284.00 L310.02 284.00 L314.00 283.99 L317.98 283.98 L321.96 283.97 L325.95 283.95 L329.93 283.93 L333.91 283.91 L337.89 283.88 L341.16 283.81" stroke-width="0.6" stroke-opacity="0.8"/>
<path d="M341.16 283.81 L341.87 283.79 L345.85 283.65 L349.84 283.46 L353.82 283.24 L357.80 282.99 L361.78 282.74 L365.76 282.48 L369.75 282.24 L373.73 281.98 L377.71 281.71 L381.69 281.41 L385.67 281.10 L389.65 280.77 L393.64 280.43 L397.62 280.07 L401.60 279.70" stroke-width="0.6" stroke-opacity="0.8" stroke-dasharray="3.1 1.0" stroke-dashoffset="1.7"/>
<path d="M270.20 210.70 L274.18 210.61 L278.16 210.54 L282.15 210.47 L286.13 210.41 L290.11 210.37 L294.09 210.33 L298.07 210.31 L302.05 210.30 L306.04 210.30 L310.02 210.32 L314.00 210.34 L317.98 210.37 L321.96 210.41 L325.95 210.46 L329.93 210.51 L333.91 210.57 L337.89 210.64 L341.16 210.73" stroke-width="0.7" stroke-opacity="0.9"/>
<path d="M341.16 210.73 L341.87 210.75 L345.85 210.92 L349.84 211.12 L353.82 211.35 L357.80 211.59 L361.78 211.85 L365.76 212.11 L369.75 212.36 L373.73 212.63 L377.71 212.91 L381.69 213.20 L385.67 213.52 L389.65 213.84 L393.64 214.18 L397.62 214.54 L401.60 214.90" stroke-width="0.7" stroke-opacity="0.9" stroke-dasharray="3.6 1.0" stroke-dashoffset="3.4"/>
<path d="M270.20 282.30 L274.18 282.39 L278.16 282.46 L282.15 282.53 L286.13 282.59 L290.11 282.63 L294.09 282.67 L298.07 282.69 L302.05 282.70 L306.04 282.70 L310.02 282.68 L314.00 282.66 L317.98 282.63 L321.96 282.59 L325.95 282.54 L329.93 282.49 L333.91 282.43 L337.89 282.36 L341.16 282.27" stroke-width="0.7" stroke-opacity="0.9"/>
<path d="M341.16 282.27 L341.87 282.25 L345.85 282.08 L349.84 281.88 L353.82 281.65 L357.80 281.41 L361.78 281.15 L365.76 280.89 L369.75 280.64 L373.73 280.37 L377.71 280.09 L381.69 279.80 L385.67 279.48 L389.65 279.16 L393.64 278.82 L397.62 278.46 L401.60 278.10" stroke-width="0.7" stroke-opacity="0.9" stroke-dasharray="2.6 1.0" stroke-dashoffset="0.0"/>
<path d="M270.20 212.10 L274.18 211.99 L278.16 211.89 L282.15 211.81 L286.13 211.74 L290.11 211.68 L294.09 211.64 L298.07 211.61 L302.05 211.60 L306.04 211.60 L310.02 211.62 L314.00 211.66 L317.98 211.70 L321.96 211.75 L325.95 211.82 L329.93 211.89 L333.91 211.96 L337.89 212.05 L341.87 212.18 L345.85 212.36 L349.84 212.57 L353.82 212.81 L357.80 213.07 L361.78 213.34 L365.76 213.61 L369.75 213.86 L373.73 214.13 L375.32 214.24" stroke-width="0.9" stroke-opacity="1"/>
<path d="M375.32 214.24 L377.71 214.40 L381.69 214.69 L385.67 214.99 L389.65 215.31 L393.64 215.63 L397.62 215.96 L401.60 216.30" stroke-width="0.9" stroke-opacity="1" stroke-dasharray="3.1 1.0" stroke-dashoffset="1.7"/>
<path d="M270.20 280.90 L274.18 281.01 L278.16 281.11 L282.15 281.19 L286.13 281.26 L290.11 281.32 L294.09 281.36 L298.07 281.39 L302.05 281.40 L306.04 281.40 L310.02 281.38 L314.00 281.34 L317.98 281.30 L321.96 281.25 L325.95 281.18 L329.93 281.11 L333.91 281.04 L337.89 280.95 L341.87 280.82 L345.85 280.64 L349.84 280.43 L353.82 280.19 L357.80 279.93 L361.78 279.66 L365.76 279.39 L369.75 279.14 L373.73 278.87 L375.32 278.76" stroke-width="0.9" stroke-opacity="1"/>
<path d="M375.32 278.76 L377.71 278.60 L381.69 278.31 L385.67 278.01 L389.65 277.69 L393.64 277.37 L397.62 277.04 L401.60 276.70" stroke-width="0.9" stroke-opacity="1" stroke-dasharray="3.6 1.0" stroke-dashoffset="3.4"/>
<path d="M270.20 213.90 L274.18 213.67 L278.16 213.45 L282.15 213.25 L286.13 213.08 L290.11 212.93 L294.09 212.81 L298.07 212.74 L302.05 212.70 L306.04 212.70 L310.02 212.72 L314.00 212.74 L317.98 212.77 L321.96 212.81 L325.95 212.86 L329.93 212.91 L333.91 212.97 L337.89 213.04 L341.87 213.17 L345.85 213.35 L349.84 213.57 L353.82 213.83 L357.80 214.11 L361.78 214.40 L365.76 214.69 L369.75 214.97 L373.73 215.26 L377.71 215.56 L381.69 215.88 L385.67 216.22 L389.65 216.57 L393.64 216.93 L397.62 217.31 L401.60 217.70" stroke-width="1.5" stroke-opacity="1"/>
<path d="M270.20 279.10 L274.18 279.33 L278.16 279.55 L282.15 279.75 L286.13 279.92 L290.11 280.07 L294.09 280.19 L298.07 280.26 L302.05 280.30 L306.04 280.30 L310.02 280.28 L314.00 280.26 L317.98 280.23 L321.96 280.19 L325.95 280.14 L329.93 280.09 L333.91 280.03 L337.89 279.96 L341.87 279.83 L345.85 279.65 L349.84 279.43 L353.82 279.17 L357.80 278.89 L361.78 278.60 L365.76 278.31 L369.75 278.03 L373.73 277.74 L377.71 277.44 L381.69 277.12 L385.67 276.78 L389.65 276.43 L393.64 276.07 L397.62 275.69 L401.60 275.30" stroke-width="1.5" stroke-opacity="1"/>
<path d="M270.20 215.10 L274.18 214.89 L278.16 214.69 L282.15 214.50 L286.13 214.34 L290.11 214.21 L294.09 214.10 L298.07 214.03 L302.05 214.00 L306.04 214.00 L310.02 214.02 L314.00 214.04 L317.98 214.07 L321.96 214.11 L325.95 214.16 L329.93 214.21 L333.91 214.27 L337.89 214.34 L341.87 214.46 L345.85 214.63 L349.84 214.84 L353.82 215.08 L357.80 215.34 L361.78 215.61 L365.76 215.89 L369.75 216.17 L373.73 216.46 L377.71 216.78 L381.69 217.12 L385.67 217.48 L389.65 217.86 L393.64 218.26 L397.62 218.67 L401.60 219.10" stroke-width="1.55" stroke-opacity="1"/>
<path d="M270.20 277.90 L274.18 278.11 L278.16 278.31 L282.15 278.50 L286.13 278.66 L290.11 278.79 L294.09 278.90 L298.07 278.97 L302.05 279.00 L306.04 279.00 L310.02 278.98 L314.00 278.96 L317.98 278.93 L321.96 278.89 L325.95 278.84 L329.93 278.79 L333.91 278.73 L337.89 278.66 L341.87 278.54 L345.85 278.37 L349.84 278.16 L353.82 277.92 L357.80 277.66 L361.78 277.39 L365.76 277.11 L369.75 276.83 L373.73 276.54 L377.71 276.22 L381.69 275.88 L385.67 275.52 L389.65 275.14 L393.64 274.74 L397.62 274.33 L401.60 273.90" stroke-width="1.55" stroke-opacity="1"/>
<path d="M270.20 216.30 L274.18 216.11 L278.16 215.92 L282.15 215.76 L286.13 215.61 L290.11 215.49 L294.09 215.39 L298.07 215.33 L302.05 215.30 L306.04 215.30 L310.02 215.32 L314.00 215.34 L317.98 215.37 L321.96 215.41 L325.95 215.46 L329.93 215.51 L333.91 215.57 L337.89 215.64 L341.87 215.75 L345.85 215.91 L349.84 216.10 L353.82 216.32 L357.80 216.57 L361.78 216.83 L365.76 217.10 L369.75 217.37 L373.73 217.66 L377.71 217.99 L381.69 218.35 L385.67 218.73 L389.65 219.14 L393.64 219.58 L397.62 220.03 L401.60 220.50" stroke-width="1.55" stroke-opacity="1"/>
<path d="M270.20 276.70 L274.18 276.89 L278.16 277.08 L282.15 277.24 L286.13 277.39 L290.11 277.51 L294.09 277.61 L298.07 277.67 L302.05 277.70 L306.04 277.70 L310.02 277.68 L314.00 277.66 L317.98 277.63 L321.96 277.59 L325.95 277.54 L329.93 277.49 L333.91 277.43 L337.89 277.36 L341.87 277.25 L345.85 277.09 L349.84 276.90 L353.82 276.68 L357.80 276.43 L361.78 276.17 L365.76 275.90 L369.75 275.63 L373.73 275.34 L377.71 275.01 L381.69 274.65 L385.67 274.27 L389.65 273.86 L393.64 273.42 L397.62 272.97 L401.60 272.50" stroke-width="1.55" stroke-opacity="1"/>
<path d="M270.20 217.40 L274.18 217.25 L278.16 217.10 L282.15 216.97 L286.13 216.85 L290.11 216.75 L294.09 216.68 L298.07 216.62 L302.05 216.60 L306.04 216.60 L310.02 216.61 L314.00 216.63 L317.98 216.65 L321.96 216.67 L325.95 216.70 L329.93 216.74 L333.91 216.78 L337.89 216.83 L341.87 216.92 L345.85 217.06 L349.84 217.24 L353.82 217.45 L357.80 217.69 L361.78 217.94 L365.76 218.20 L369.75 218.47 L373.73 218.76 L377.71 219.10 L381.69 219.48 L385.67 219.89 L389.65 220.33 L393.64 220.80 L397.62 221.29 L401.60 221.80" stroke-width="1.4" stroke-opacity="1"/>
<path d="M270.20 275.60 L274.18 275.75 L278.16 275.90 L282.15 276.03 L286.13 276.15 L290.11 276.25 L294.09 276.32 L298.07 276.38 L302.05 276.40 L306.04 276.40 L310.02 276.39 L314.00 276.37 L317.98 276.35 L321.96 276.33 L325.95 276.30 L329.93 276.26 L333.91 276.22 L337.89 276.17 L341.87 276.08 L345.85 275.94 L349.84 275.76 L353.82 275.55 L357.80 275.31 L361.78 275.06 L365.76 274.80 L369.75 274.53 L373.73 274.24 L377.71 273.90 L381.69 273.52 L385.67 273.11 L389.65 272.67 L393.64 272.20 L397.62 271.71 L401.60 271.20" stroke-width="1.4" stroke-opacity="1"/>
<path d="M270.20 218.80 L274.18 218.80 L278.16 218.80 L282.15 218.80 L286.13 218.80 L290.11 218.80 L294.09 218.80 L298.07 218.80 L302.05 218.80 L306.04 218.82 L310.02 218.89 L314.00 219.00 L317.98 219.15 L321.96 219.32 L325.95 219.52 L329.93 219.71 L333.91 219.91 L337.89 220.09 L341.87 220.30 L345.85 220.53 L349.84 220.78 L353.82 221.03 L357.80 221.30 L361.78 221.56 L365.76 221.81 L369.75 222.06 L373.73 222.30 L377.71 222.55 L381.69 222.79 L385.67 223.03 L389.65 223.27 L393.64 223.52 L397.62 223.76 L401.60 224.00" stroke-width="0.9" stroke-opacity="1"/>
<path d="M270.20 274.20 L274.18 274.20 L278.16 274.20 L282.15 274.20 L286.13 274.20 L290.11 274.20 L294.09 274.20 L298.07 274.20 L302.05 274.20 L306.04 274.18 L310.02 274.11 L314.00 274.00 L317.98 273.85 L321.96 273.68 L325.95 273.48 L329.93 273.29 L333.91 273.09 L337.89 272.91 L341.87 272.70 L345.85 272.47 L349.84 272.22 L353.82 271.97 L357.80 271.70 L361.78 271.44 L365.76 271.19 L369.75 270.94 L373.73 270.70 L377.71 270.45 L381.69 270.21 L385.67 269.97 L389.65 269.73 L393.64 269.48 L397.62 269.24 L401.60 269.00" stroke-width="0.9" stroke-opacity="1"/>
<path d="M270.20 218.20 L274.18 218.10 L278.16 218.02 L282.15 217.95 L286.13 217.90 L290.11 217.86 L294.09 217.83 L298.07 217.81 L302.05 217.80 L306.04 217.81 L310.02 217.83 L314.00 217.87 L317.98 217.93 L321.96 218.00 L325.95 218.07 L329.93 218.16 L333.91 218.25 L337.89 218.35 L341.87 218.50 L345.85 218.69 L349.84 218.91 L353.82 219.16 L357.80 219.43 L361.78 219.71 L365.76 219.99 L369.75 220.27 L373.73 220.56 L377.71 220.86 L381.69 221.18 L385.67 221.52 L389.65 221.87 L393.64 222.23 L397.62 222.61 L401.60 223.00" stroke-width="0.6" stroke-opacity="0.85"/>
<path d="M270.20 274.80 L274.18 274.90 L278.16 274.98 L282.15 275.05 L286.13 275.10 L290.11 275.14 L294.09 275.17 L298.07 275.19 L302.05 275.20 L306.04 275.19 L310.02 275.17 L314.00 275.13 L317.98 275.07 L321.96 275.00 L325.95 274.93 L329.93 274.84 L333.91 274.75 L337.89 274.65 L341.87 274.50 L345.85 274.31 L349.84 274.09 L353.82 273.84 L357.80 273.57 L361.78 273.29 L365.76 273.01 L369.75 272.73 L373.73 272.44 L377.71 272.14 L381.69 271.82 L385.67 271.48 L389.65 271.13 L393.64 270.77 L397.62 270.39 L401.60 270.00" stroke-width="0.6" stroke-opacity="0.85"/>
<path d="M270.20 220.40 L274.18 220.51 L278.16 220.62 L282.15 220.73 L286.13 220.84 L290.11 220.95 L294.09 221.05 L298.07 221.16 L302.05 221.27 L306.04 221.38 L310.02 221.47 L314.00 221.57 L317.98 221.66 L321.96 221.75 L325.95 221.86 L329.93 221.98 L333.91 222.12 L337.89 222.29 L341.87 222.54 L345.85 222.86 L349.84 223.22 L353.82 223.61 L357.80 224.01 L361.78 224.40 L365.76 224.76 L369.75 225.07 L373.73 225.37 L377.71 225.65 L381.69 225.93 L385.67 226.20 L389.65 226.47 L393.64 226.72 L397.62 226.96 L401.60 227.20" stroke-width="1.2" stroke-opacity="1"/>
<path d="M270.20 272.60 L274.18 272.49 L278.16 272.38 L282.15 272.27 L286.13 272.16 L290.11 272.05 L294.09 271.95 L298.07 271.84 L302.05 271.73 L306.04 271.62 L310.02 271.53 L314.00 271.43 L317.98 271.34 L321.96 271.25 L325.95 271.14 L329.93 271.02 L333.91 270.88 L337.89 270.71 L341.87 270.46 L345.85 270.14 L349.84 269.78 L353.82 269.39 L357.80 268.99 L361.78 268.60 L365.76 268.24 L369.75 267.93 L373.73 267.63 L377.71 267.35 L381.69 267.07 L385.67 266.80 L389.65 266.53 L393.64 266.28 L397.62 266.04 L401.60 265.80" stroke-width="1.2" stroke-opacity="1"/>
<path d="M270.20 221.20 L274.18 221.25 L278.16 221.30 L282.15 221.36 L286.13 221.42 L290.11 221.48 L294.09 221.55 L298.07 221.61 L302.05 221.68 L306.04 221.75 L310.02 221.83 L314.00 221.90 L317.98 221.98 L321.96 222.07 L325.95 222.15 L329.93 222.25 L333.91 222.35 L337.89 222.45 L341.87 222.57 L345.85 222.70 L349.84 222.83 L353.82 222.98 L357.80 223.13 L361.78 223.29 L365.76 223.47 L369.75 223.65 L373.73 223.84 L377.71 224.05 L381.69 224.28 L385.67 224.52 L389.65 224.77 L393.64 225.04 L397.62 225.31 L401.60 225.60" stroke-width="0.8" stroke-opacity="0.9"/>
<path d="M270.20 271.80 L274.18 271.75 L278.16 271.70 L282.15 271.64 L286.13 271.58 L290.11 271.52 L294.09 271.45 L298.07 271.39 L302.05 271.32 L306.04 271.25 L310.02 271.17 L314.00 271.10 L317.98 271.02 L321.96 270.93 L325.95 270.85 L329.93 270.75 L333.91 270.65 L337.89 270.55 L341.87 270.43 L345.85 270.30 L349.84 270.17 L353.82 270.02 L357.80 269.87 L361.78 269.71 L365.76 269.53 L369.75 269.35 L373.73 269.16 L377.71 268.95 L381.69 268.72 L385.67 268.48 L389.65 268.23 L393.64 267.96 L397.62 267.69 L401.60 267.40" stroke-width="0.8" stroke-opacity="0.9"/>
<path d="M270.20 222.30 L274.18 222.21 L278.16 222.14 L282.15 222.08 L286.13 222.05 L290.11 222.02 L294.09 222.01 L298.07 222.00 L302.05 222.00 L306.04 222.01 L310.02 222.05 L314.00 222.11 L317.98 222.20 L321.96 222.31 L325.95 222.44 L329.93 222.58 L333.91 222.72 L337.89 222.89 L341.87 223.14 L345.85 223.47 L349.84 223.85 L353.82 224.27 L357.80 224.70 L361.78 225.13 L365.76 225.53 L369.75 225.88 L373.73 226.22 L377.71 226.55 L381.69 226.87 L385.67 227.19 L389.65 227.50 L393.64 227.81 L397.62 228.11 L401.60 228.40" stroke-width="1.1" stroke-opacity="1"/>
<path d="M270.20 270.70 L274.18 270.79 L278.16 270.86 L282.15 270.92 L286.13 270.95 L290.11 270.98 L294.09 270.99 L298.07 271.00 L302.05 271.00 L306.04 270.99 L310.02 270.95 L314.00 270.89 L317.98 270.80 L321.96 270.69 L325.95 270.56 L329.93 270.42 L333.91 270.28 L337.89 270.11 L341.87 269.86 L345.85 269.53 L349.84 269.15 L353.82 268.73 L357.80 268.30 L361.78 267.87 L365.76 267.47 L369.75 267.12 L373.73 266.78 L377.71 266.45 L381.69 266.13 L385.67 265.81 L389.65 265.50 L393.64 265.19 L397.62 264.89 L401.60 264.60" stroke-width="1.1" stroke-opacity="1"/>
</g>
<rect x="268.3" y="208.1" width="134.95" height="77.35" fill="none" stroke="#111" stroke-width="1.2"/>
<line x1="263.0" x2="268.3" y1="215.6" y2="215.6" stroke="#111" stroke-width="1.2"/>
<line x1="263.0" x2="268.3" y1="246.6" y2="246.6" stroke="#111" stroke-width="1.2"/>
<line x1="263.0" x2="268.3" y1="277.6" y2="277.6" stroke="#111" stroke-width="1.2"/>
<line x1="270.2" x2="270.2" y1="285.45" y2="290.75" stroke="#111" stroke-width="1.2"/>
<line x1="335.3" x2="335.3" y1="285.45" y2="290.75" stroke="#111" stroke-width="1.2"/>
<line x1="401.5" x2="401.5" y1="285.45" y2="290.75" stroke="#111" stroke-width="1.2"/>
<text x="258.3" y="220.7" font-size="13.33" text-anchor="end" >0.2</text>
<text x="258.3" y="251.6" font-size="13.33" text-anchor="end" >0.0</text>
<text x="258.3" y="282.5" font-size="13.33" text-anchor="end" >−0.2</text>
<text x="270.6" y="304.8" font-size="13.33" text-anchor="middle" >0</text>
<text x="401.2" y="304.8" font-size="13.33" text-anchor="middle" >0.5</text>
<text x="336.0" y="306.2" font-size="14.2" text-anchor="middle" ><tspan font-style="italic">B</tspan> (T)</text>
<text transform="translate(232.3,246.2) rotate(-90)" font-size="14.2" text-anchor="middle"><tspan font-style="italic">E</tspan> (meV)</text>
<text x="5.2" y="315.3" font-size="13.33" text-anchor="start" >(d)</text>
<g clip-path="url(#dclip)" fill="none" stroke="#1f77b4" stroke-width="2.3" stroke-linejoin="round">
<path d="M68.45 321.16 L69.53 321.18 L70.60 321.23 L71.68 321.30 L72.75 321.41 L73.83 321.53 L74.91 321.67 L75.98 321.91 L77.06 322.30 L78.14 322.79 L79.21 323.37 L80.29 323.99 L81.36 324.63 L82.44 325.36 L83.52 326.21 L84.59 327.16 L85.67 328.16 L86.75 329.18 L87.82 330.23 L88.90 331.33 L89.97 332.49 L91.05 333.70 L92.13 334.96 L93.20 336.28 L94.28 337.65 L95.36 339.10 L96.43 340.63 L97.51 342.23 L98.58 343.89 L99.66 345.59 L100.74 347.33 L101.81 349.11 L102.89 350.95 L103.97 352.84 L105.04 354.81 L106.12 356.84 L107.19 358.94 L108.27 361.15 L109.35 363.47 L110.42 365.87 L111.50 368.33 L112.58 370.81 L113.65 373.30 L114.73 375.83 L115.80 378.40 L116.88 380.99 L117.96 383.62 L119.03 386.27 L120.11 388.95 L121.19 391.64 L122.26 394.36 L123.34 397.11 L124.41 399.88 L125.49 402.68 L126.57 405.49 L127.64 408.31 L128.72 411.14 L129.80 413.99 L130.87 416.87 L131.95 419.76"/>
<path d="M205.47 415.93 L206.77 414.08 L208.06 412.18 L209.36 410.17 L210.66 408.01 L211.95 405.74 L213.25 403.43 L214.55 401.12 L215.84 398.86 L217.14 396.69 L218.43 394.68 L219.73 392.87 L221.03 391.28 L222.32 389.80 L223.62 388.42 L224.92 387.12 L226.21 385.90 L227.51 384.76 L228.81 383.68 L230.10 382.68 L231.40 381.77 L232.69 380.91 L233.99 380.07 L235.29 379.24 L236.58 378.42 L237.88 377.62 L239.18 376.84 L240.47 376.09 L241.77 375.39 L243.06 374.71 L244.36 374.05 L245.66 373.42 L246.95 372.81 L248.25 372.24 L249.55 371.71 L250.84 371.24 L252.14 370.82 L253.43 370.41 L254.73 370.04 L256.03 369.69 L257.32 369.37 L258.62 369.08 L259.92 368.81 L261.21 368.56 L262.51 368.33 L263.81 368.12 L265.10 367.92 L266.40 367.73 L267.69 367.57 L268.99 367.40 L270.29 367.23 L271.58 367.08 L272.88 366.98 L274.18 366.93 L275.47 366.96 L276.77 367.06 L278.06 367.21 L279.36 367.40 L280.66 367.59 L281.95 367.80 L283.25 368.05 L284.55 368.35 L285.84 368.70 L287.14 369.07 L288.43 369.48 L289.73 369.95 L291.03 370.46 L292.32 371.03 L293.62 371.65 L294.92 372.30 L296.21 373.00 L297.51 373.73 L298.80 374.48 L300.10 375.26 L301.40 376.07 L302.69 376.90 L303.99 377.77 L305.29 378.69 L306.58 379.66 L307.88 380.68 L309.18 381.75 L310.47 382.87 L311.77 384.04 L313.06 385.28 L314.36 386.57 L315.66 387.92 L316.95 389.35 L318.25 390.93 L319.55 392.67 L320.84 394.55 L322.14 396.54 L323.43 398.63 L324.73 400.79 L326.03 403.00 L327.32 405.24 L328.62 407.49 L329.92 409.72 L331.21 411.91 L332.51 414.17 L333.80 416.48"/>
</g>
<rect x="68.45" y="318.5" width="334.2" height="93.05000000000001" fill="none" stroke="#111" stroke-width="1.2"/>
<line x1="63.150000000000006" x2="68.45" y1="356.8" y2="356.8" stroke="#111" stroke-width="1.2"/>
<line x1="63.150000000000006" x2="68.45" y1="411.55" y2="411.55" stroke="#111" stroke-width="1.2"/>
<line x1="68.45" x2="68.45" y1="411.55" y2="416.85" stroke="#111" stroke-width="1.2"/>
<line x1="235.45" x2="235.45" y1="411.55" y2="416.85" stroke="#111" stroke-width="1.2"/>
<line x1="402.6" x2="402.6" y1="411.55" y2="416.85" stroke="#111" stroke-width="1.2"/>
<text x="58.6" y="361.5" font-size="13.33" text-anchor="end" >7</text>
<text x="58.6" y="417.4" font-size="13.33" text-anchor="end" >6</text>
<text x="68.9" y="432.0" font-size="13.33" text-anchor="middle" >0</text>
<text x="235.2" y="432.0" font-size="13.33" text-anchor="middle" >0.25</text>
<text x="403.3" y="432.0" font-size="13.33" text-anchor="middle" >0.5</text>
<text x="235.6" y="452.5" font-size="14.2" text-anchor="middle" ><tspan font-style="italic">B</tspan> (T)</text>
<text x="352.0" y="345.5" font-size="12.5" text-anchor="start" >SIM</text>
<text transform="translate(38.9,365.2) rotate(-90)" font-size="14.2" text-anchor="middle"><tspan font-style="italic">f</tspan><tspan font-size="9.94" dy="2.8">Q</tspan><tspan dy="-2.8"> (GHz)</tspan></text>
</svg>
</body></html>
